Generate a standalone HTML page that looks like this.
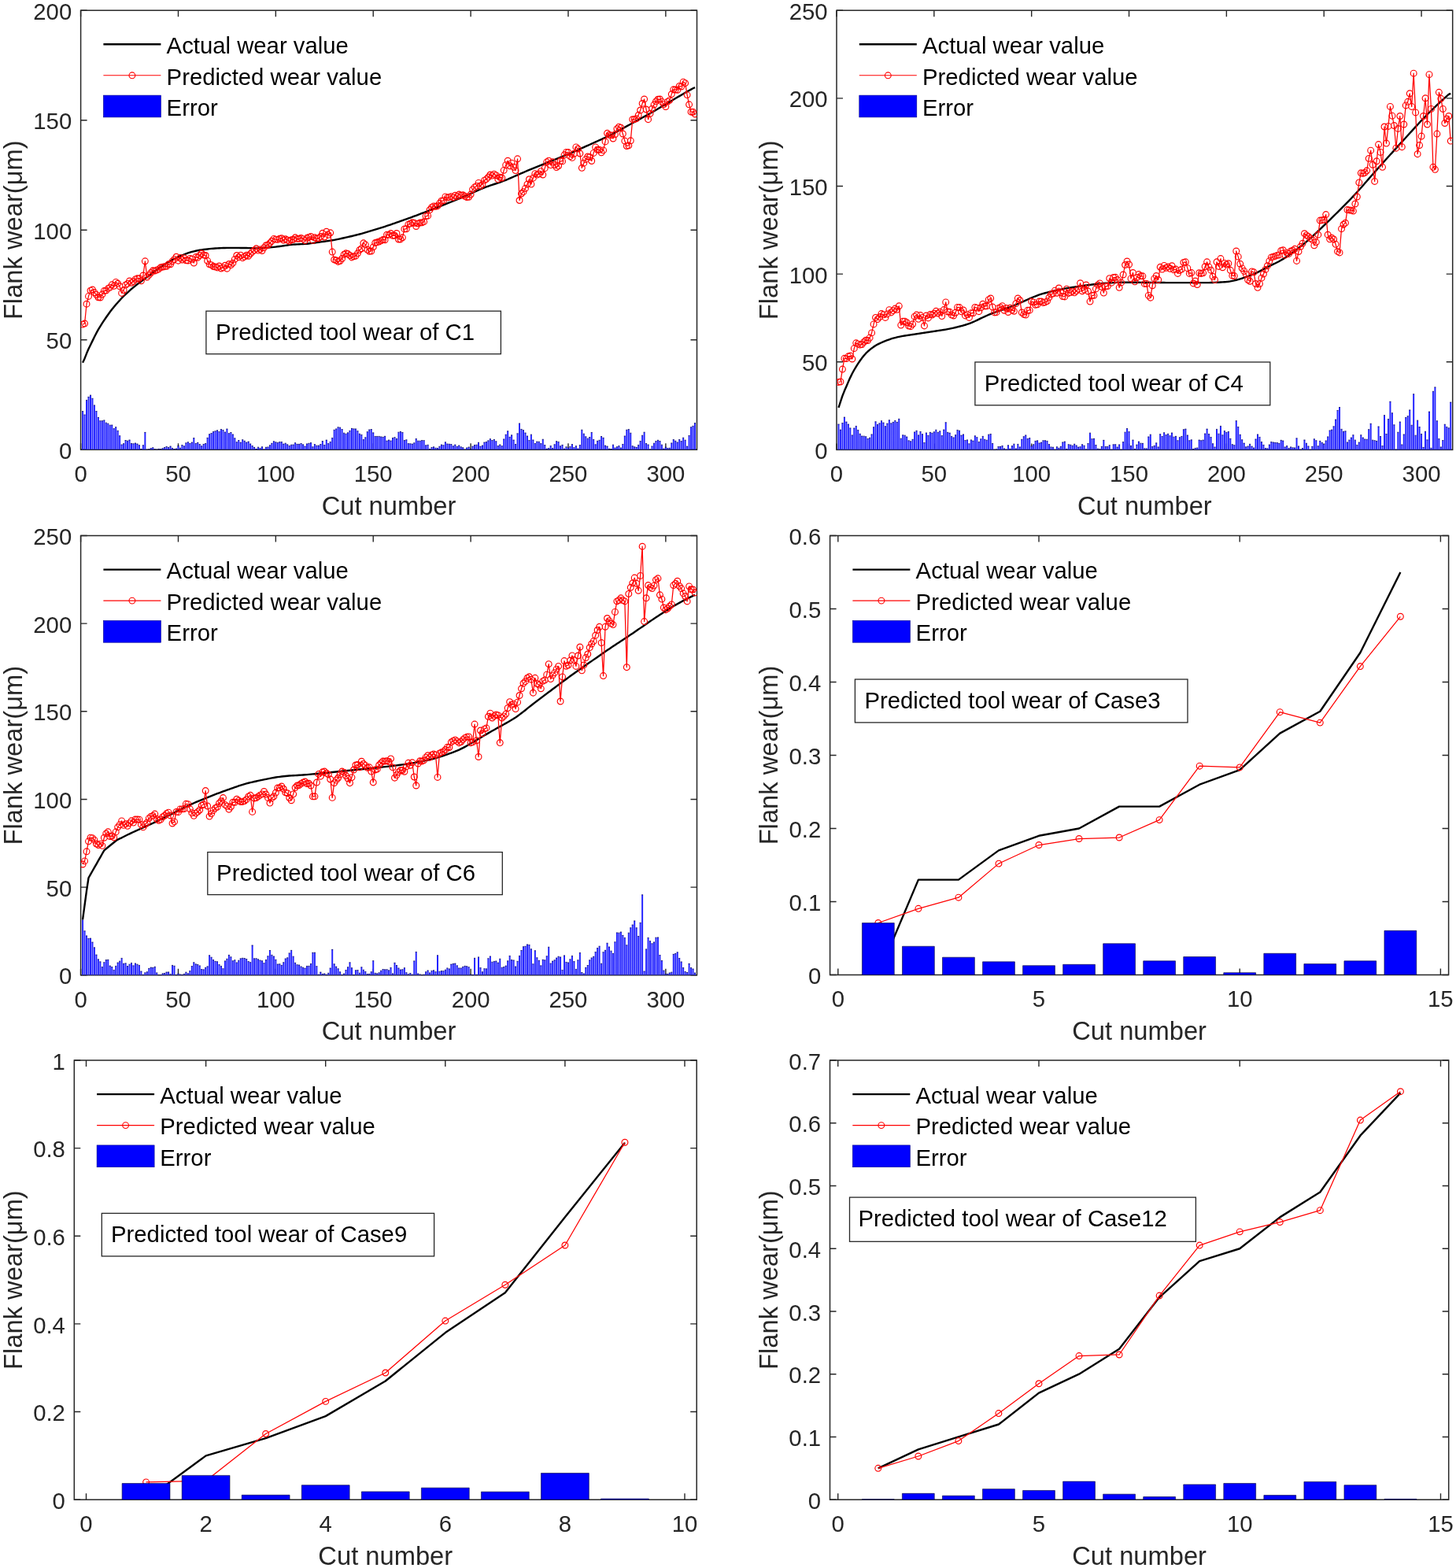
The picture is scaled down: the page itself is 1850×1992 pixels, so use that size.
<!DOCTYPE html><html><head><meta charset="utf-8"><title>Predicted tool wear</title>
<style>html,body{margin:0;padding:0;background:#fff;}svg{display:block;}text{font-family:'Liberation Sans', Arial, Helvetica, sans-serif;}</style></head><body>
<svg width="1850" height="1992" viewBox="0 0 1850 1992">
<rect width="1850" height="1992" fill="#fff"/>
<path d="M102.60 571.30V563.30M102.60 13.20V21.20M226.48 571.30V563.30M226.48 13.20V21.20M350.35 571.30V563.30M350.35 13.20V21.20M474.23 571.30V563.30M474.23 13.20V21.20M598.11 571.30V563.30M598.11 13.20V21.20M721.98 571.30V563.30M721.98 13.20V21.20M845.86 571.30V563.30M845.86 13.20V21.20M102.60 571.30H110.60M885.50 571.30H877.50M102.60 431.77H110.60M885.50 431.77H877.50M102.60 292.25H110.60M885.50 292.25H877.50M102.60 152.73H110.60M885.50 152.73H877.50M102.60 13.20H110.60M885.50 13.20H877.50" stroke="#262626" stroke-width="1.4" fill="none"/>
<rect x="102.60" y="13.20" width="782.90" height="558.10" fill="none" stroke="#262626" stroke-width="1.5"/>
<path d="M1063.00 571.40V563.40M1063.00 13.20V21.20M1186.84 571.40V563.40M1186.84 13.20V21.20M1310.69 571.40V563.40M1310.69 13.20V21.20M1434.53 571.40V563.40M1434.53 13.20V21.20M1558.38 571.40V563.40M1558.38 13.20V21.20M1682.22 571.40V563.40M1682.22 13.20V21.20M1806.07 571.40V563.40M1806.07 13.20V21.20M1063.00 571.40H1071.00M1845.70 571.40H1837.70M1063.00 459.76H1071.00M1845.70 459.76H1837.70M1063.00 348.12H1071.00M1845.70 348.12H1837.70M1063.00 236.48H1071.00M1845.70 236.48H1837.70M1063.00 124.84H1071.00M1845.70 124.84H1837.70M1063.00 13.20H1071.00M1845.70 13.20H1837.70" stroke="#262626" stroke-width="1.4" fill="none"/>
<rect x="1063.00" y="13.20" width="782.70" height="558.20" fill="none" stroke="#262626" stroke-width="1.5"/>
<path d="M102.60 1238.80V1230.80M102.60 680.50V688.50M226.48 1238.80V1230.80M226.48 680.50V688.50M350.35 1238.80V1230.80M350.35 680.50V688.50M474.23 1238.80V1230.80M474.23 680.50V688.50M598.11 1238.80V1230.80M598.11 680.50V688.50M721.98 1238.80V1230.80M721.98 680.50V688.50M845.86 1238.80V1230.80M845.86 680.50V688.50M102.60 1238.80H110.60M885.50 1238.80H877.50M102.60 1127.14H110.60M885.50 1127.14H877.50M102.60 1015.48H110.60M885.50 1015.48H877.50M102.60 903.82H110.60M885.50 903.82H877.50M102.60 792.16H110.60M885.50 792.16H877.50M102.60 680.50H110.60M885.50 680.50H877.50" stroke="#262626" stroke-width="1.4" fill="none"/>
<rect x="102.60" y="680.50" width="782.90" height="558.30" fill="none" stroke="#262626" stroke-width="1.5"/>
<path d="M1064.81 1238.50V1230.50M1064.81 680.50V688.50M1320.00 1238.50V1230.50M1320.00 680.50V688.50M1575.20 1238.50V1230.50M1575.20 680.50V688.50M1830.39 1238.50V1230.50M1830.39 680.50V688.50M1054.60 1238.50H1062.60M1840.60 1238.50H1832.60M1054.60 1145.50H1062.60M1840.60 1145.50H1832.60M1054.60 1052.50H1062.60M1840.60 1052.50H1832.60M1054.60 959.50H1062.60M1840.60 959.50H1832.60M1054.60 866.50H1062.60M1840.60 866.50H1832.60M1054.60 773.50H1062.60M1840.60 773.50H1832.60M1054.60 680.50H1062.60M1840.60 680.50H1832.60" stroke="#262626" stroke-width="1.4" fill="none"/>
<rect x="1054.60" y="680.50" width="786.00" height="558.00" fill="none" stroke="#262626" stroke-width="1.5"/>
<path d="M109.51 1905.20V1897.20M109.51 1347.00V1355.00M261.61 1905.20V1897.20M261.61 1347.00V1355.00M413.70 1905.20V1897.20M413.70 1347.00V1355.00M565.80 1905.20V1897.20M565.80 1347.00V1355.00M717.89 1905.20V1897.20M717.89 1347.00V1355.00M869.99 1905.20V1897.20M869.99 1347.00V1355.00M94.30 1905.20H102.30M885.20 1905.20H877.20M94.30 1793.56H102.30M885.20 1793.56H877.20M94.30 1681.92H102.30M885.20 1681.92H877.20M94.30 1570.28H102.30M885.20 1570.28H877.20M94.30 1458.64H102.30M885.20 1458.64H877.20M94.30 1347.00H102.30M885.20 1347.00H877.20" stroke="#262626" stroke-width="1.4" fill="none"/>
<rect x="94.30" y="1347.00" width="790.90" height="558.20" fill="none" stroke="#262626" stroke-width="1.5"/>
<path d="M1064.71 1905.20V1897.20M1064.71 1347.00V1355.00M1319.97 1905.20V1897.20M1319.97 1347.00V1355.00M1575.23 1905.20V1897.20M1575.23 1347.00V1355.00M1830.49 1905.20V1897.20M1830.49 1347.00V1355.00M1054.50 1905.20H1062.50M1840.70 1905.20H1832.70M1054.50 1825.46H1062.50M1840.70 1825.46H1832.70M1054.50 1745.71H1062.50M1840.70 1745.71H1832.70M1054.50 1665.97H1062.50M1840.70 1665.97H1832.70M1054.50 1586.23H1062.50M1840.70 1586.23H1832.70M1054.50 1506.49H1062.50M1840.70 1506.49H1832.70M1054.50 1426.74H1062.50M1840.70 1426.74H1832.70M1054.50 1347.00H1062.50M1840.70 1347.00H1832.70" stroke="#262626" stroke-width="1.4" fill="none"/>
<rect x="1054.50" y="1347.00" width="786.20" height="558.20" fill="none" stroke="#262626" stroke-width="1.5"/>
<clipPath id="c1"><rect x="102.60" y="13.20" width="782.90" height="558.10"/></clipPath>
<g clip-path="url(#c1)">
<polyline points="105.08,460.80 107.56,455.38 110.03,449.08 112.51,443.33 114.99,438.28 117.47,433.11 119.94,428.01 122.42,423.18 124.90,418.70 127.38,414.59 129.85,410.71 132.33,406.93 134.81,403.27 137.29,399.71 139.76,396.30 142.24,393.07 144.72,390.03 147.20,387.09 149.67,384.23 152.15,381.45 154.63,378.76 157.11,376.20 159.58,373.80 162.06,371.52 164.54,369.31 167.02,367.17 169.49,365.10 171.97,363.10 174.45,361.16 176.93,359.30 179.40,357.45 181.88,355.60 184.36,353.74 186.84,351.89 189.31,350.05 191.79,348.22 194.27,346.40 196.75,344.59 199.22,342.80 201.70,341.02 204.18,339.26 206.66,337.57 209.13,335.95 211.61,334.39 214.09,332.88 216.57,331.43 219.04,330.04 221.52,328.73 224.00,327.52 226.48,326.40 228.95,325.31 231.43,324.26 233.91,323.25 236.39,322.29 238.86,321.43 241.34,320.66 243.82,319.96 246.30,319.31 248.77,318.73 251.25,318.20 253.73,317.73 256.21,317.34 258.68,317.02 261.16,316.72 263.64,316.44 266.12,316.18 268.59,315.93 271.07,315.72 273.55,315.55 276.03,315.39 278.50,315.26 280.98,315.13 283.46,315.03 285.94,314.94 288.41,314.88 290.89,314.85 293.37,314.84 295.85,314.84 298.32,314.85 300.80,314.88 303.28,314.91 305.76,314.95 308.24,314.99 310.71,315.03 313.19,315.06 315.67,315.08 318.15,315.09 320.62,315.09 323.10,315.07 325.58,315.05 328.06,315.02 330.53,314.99 333.01,314.94 335.49,314.87 337.97,314.75 340.44,314.60 342.92,314.41 345.40,314.18 347.88,313.93 350.35,313.63 352.83,313.31 355.31,312.95 357.79,312.59 360.26,312.22 362.74,311.85 365.22,311.49 367.70,311.16 370.17,310.87 372.65,310.64 375.13,310.46 377.61,310.33 380.08,310.25 382.56,310.15 385.04,310.03 387.52,309.89 389.99,309.70 392.47,309.46 394.95,309.18 397.43,308.86 399.90,308.49 402.38,308.08 404.86,307.70 407.34,307.35 409.81,307.02 412.29,306.73 414.77,306.40 417.25,306.05 419.72,305.67 422.20,305.26 424.68,304.82 427.16,304.35 429.63,303.86 432.11,303.33 434.59,302.78 437.07,302.22 439.54,301.66 442.02,301.10 444.50,300.54 446.98,299.97 449.45,299.37 451.93,298.76 454.41,298.13 456.89,297.47 459.36,296.80 461.84,296.10 464.32,295.38 466.80,294.65 469.27,293.91 471.75,293.17 474.23,292.43 476.71,291.69 479.18,290.94 481.66,290.18 484.14,289.40 486.62,288.61 489.09,287.80 491.57,286.98 494.05,286.14 496.53,285.29 499.01,284.43 501.48,283.56 503.96,282.69 506.44,281.82 508.92,280.95 511.39,280.08 513.87,279.20 516.35,278.31 518.83,277.42 521.30,276.52 523.78,275.61 526.26,274.69 528.74,273.77 531.21,272.84 533.69,271.91 536.17,270.97 538.65,270.04 541.12,269.11 543.60,268.17 546.08,267.23 548.56,266.28 551.03,265.33 553.51,264.36 555.99,263.40 558.47,262.42 560.94,261.44 563.42,260.45 565.90,259.46 568.38,258.47 570.85,257.48 573.33,256.49 575.81,255.49 578.29,254.48 580.76,253.46 583.24,252.42 585.72,251.37 588.20,250.31 590.67,249.23 593.15,248.14 595.63,247.04 598.11,245.92 600.58,244.81 603.06,243.70 605.54,242.58 608.02,241.48 610.49,240.41 612.97,239.39 615.45,238.39 617.93,237.44 620.40,236.53 622.88,235.65 625.36,234.81 627.84,234.00 630.31,233.23 632.79,232.41 635.27,231.56 637.75,230.66 640.22,229.73 642.70,228.77 645.18,227.76 647.66,226.72 650.13,225.64 652.61,224.52 655.09,223.41 657.57,222.29 660.04,221.19 662.52,220.11 665.00,219.04 667.48,217.98 669.95,216.93 672.43,215.90 674.91,214.89 677.39,213.89 679.86,212.89 682.34,211.90 684.82,210.91 687.30,209.92 689.77,208.93 692.25,207.93 694.73,206.94 697.21,205.95 699.69,204.95 702.16,203.96 704.64,202.96 707.12,201.96 709.60,200.97 712.07,199.97 714.55,198.95 717.03,197.93 719.51,196.89 721.98,195.84 724.46,194.77 726.94,193.70 729.42,192.61 731.89,191.51 734.37,190.40 736.85,189.29 739.33,188.18 741.80,187.07 744.28,185.95 746.76,184.84 749.24,183.73 751.71,182.62 754.19,181.50 756.67,180.39 759.15,179.27 761.62,178.16 764.10,177.04 766.58,175.91 769.06,174.76 771.53,173.57 774.01,172.36 776.49,171.12 778.97,169.85 781.44,168.55 783.92,167.23 786.40,165.88 788.88,164.51 791.35,163.14 793.83,161.77 796.31,160.41 798.79,159.04 801.26,157.68 803.74,156.31 806.22,154.95 808.70,153.58 811.17,152.22 813.65,150.86 816.13,149.50 818.61,148.13 821.08,146.76 823.56,145.38 826.04,143.98 828.52,142.57 830.99,141.15 833.47,139.71 835.95,138.26 838.43,136.80 840.90,135.32 843.38,133.84 845.86,132.36 848.34,130.88 850.81,129.41 853.29,127.94 855.77,126.48 858.25,125.02 860.72,123.57 863.20,122.12 865.68,120.68 868.16,119.24 870.63,117.81 873.11,116.42 875.59,115.00 878.07,113.59 880.54,112.22 883.02,111.10" fill="none" stroke="#000" stroke-width="2.4" stroke-linejoin="round" />
<polyline points="105.08,412.10 107.56,411.00 110.03,386.20 112.51,376.40 114.99,369.10 117.47,368.02 119.94,371.60 122.42,374.45 124.90,377.76 127.38,378.00 129.85,374.06 132.33,369.54 134.81,369.10 137.29,366.54 139.76,365.14 142.24,361.80 144.72,363.35 147.20,358.42 149.67,360.20 152.15,363.84 154.63,372.40 157.11,368.54 159.58,362.00 162.06,360.40 164.54,357.00 167.02,359.25 169.49,357.55 171.97,354.83 174.45,353.84 176.93,353.70 179.40,356.73 181.88,350.00 184.36,331.80 186.84,352.00 189.31,349.45 191.79,346.51 194.27,343.84 196.75,344.00 199.22,343.01 201.70,341.93 204.18,339.83 206.66,339.20 209.13,338.66 211.61,338.29 214.09,335.80 216.57,335.75 219.04,331.93 221.52,329.40 224.00,326.23 226.48,331.19 228.95,327.39 231.43,329.99 233.91,327.74 236.39,330.78 238.86,331.00 241.34,328.44 243.82,329.24 246.30,334.02 248.77,326.57 251.25,327.18 253.73,324.50 256.21,321.99 258.68,323.95 261.16,324.50 263.64,331.41 266.12,335.80 268.59,336.65 271.07,338.55 273.55,339.07 276.03,339.90 278.50,337.99 280.98,340.97 283.46,339.90 285.94,337.22 288.41,341.18 290.89,335.52 293.37,336.64 295.85,334.20 298.32,329.35 300.80,324.50 303.28,326.71 305.76,324.16 308.24,327.60 310.71,326.10 313.19,324.24 315.67,325.26 318.15,322.43 320.62,319.89 323.10,318.00 325.58,315.86 328.06,318.14 330.53,316.91 333.01,318.48 335.49,314.70 337.97,311.72 340.44,311.23 342.92,308.89 345.40,306.20 347.88,303.40 350.35,304.12 352.83,304.39 355.31,303.22 357.79,302.75 360.26,305.00 362.74,303.71 365.22,305.06 367.70,306.27 370.17,304.72 372.65,304.33 375.13,301.80 377.61,303.36 380.08,303.29 382.56,302.40 385.04,303.60 387.52,305.59 389.99,302.30 392.47,301.43 394.95,300.50 397.43,305.30 399.90,301.79 402.38,302.93 404.86,302.50 407.34,300.60 409.81,296.31 412.29,300.96 414.77,294.20 417.25,298.37 419.72,295.80 422.20,320.10 424.68,329.90 427.16,330.77 429.63,332.40 432.11,331.50 434.59,328.51 437.07,323.35 439.54,321.80 442.02,322.59 444.50,324.51 446.98,326.92 449.45,325.80 451.93,325.15 454.41,321.80 456.89,317.58 459.36,315.71 461.84,308.80 464.32,310.85 466.80,317.31 469.27,319.30 471.75,318.97 474.23,313.87 476.71,308.58 479.18,307.82 481.66,307.10 484.14,305.80 486.62,304.60 489.09,304.79 491.57,298.19 494.05,298.35 496.53,296.60 499.01,299.29 501.48,299.22 503.96,296.48 506.44,303.97 508.92,303.90 511.39,301.79 513.87,290.90 516.35,290.78 518.83,285.11 521.30,284.04 523.78,282.80 526.26,283.22 528.74,287.53 531.21,283.97 533.69,283.02 536.17,282.80 538.65,281.71 541.12,274.54 543.60,274.19 546.08,266.60 548.56,263.40 551.03,261.90 553.51,262.27 555.99,261.71 558.47,258.34 560.94,255.20 563.42,254.87 565.90,249.94 568.38,251.15 570.85,250.44 573.33,249.69 575.81,250.91 578.29,248.26 580.76,249.50 583.24,247.10 585.72,247.90 588.20,247.75 590.67,249.24 593.15,250.47 595.63,250.30 598.11,247.08 600.58,240.60 603.06,237.84 605.54,236.44 608.02,232.44 610.49,236.22 612.97,234.07 615.45,229.12 617.93,227.60 620.40,225.07 622.88,222.00 625.36,223.05 627.84,221.10 630.31,222.72 632.79,227.70 635.27,225.24 637.75,226.00 640.22,216.37 642.70,209.70 645.18,204.22 647.66,210.71 650.13,207.20 652.61,212.26 655.09,216.60 657.57,201.80 660.04,254.50 662.52,246.04 665.00,243.70 667.48,239.29 669.95,234.20 672.43,227.77 674.91,234.06 677.39,226.20 679.86,220.70 682.34,222.11 684.82,221.02 687.30,217.61 689.77,222.00 692.25,213.66 694.73,205.80 697.21,204.21 699.69,209.65 702.16,205.82 704.64,209.52 707.12,212.60 709.60,210.87 712.07,204.50 714.55,204.90 717.03,196.81 719.51,193.41 721.98,193.60 724.46,198.67 726.94,200.40 729.42,195.27 731.89,186.90 734.37,189.08 736.85,195.00 739.33,213.30 741.80,207.21 744.28,202.45 746.76,199.00 749.24,199.49 751.71,204.50 754.19,194.41 756.67,186.90 759.15,190.28 761.62,190.21 764.10,193.81 766.58,190.90 769.06,179.94 771.53,169.30 774.01,171.28 776.49,171.90 778.97,176.00 781.44,170.83 783.92,163.64 786.40,161.20 788.88,162.22 791.35,170.00 793.83,179.07 796.31,185.50 798.79,184.89 801.26,178.80 803.74,151.70 806.22,151.49 808.70,150.63 811.17,146.30 813.65,140.01 816.13,131.40 818.61,126.00 821.08,139.01 823.56,151.70 826.04,144.24 828.52,138.20 830.99,133.04 833.47,128.88 835.95,126.23 838.43,126.00 840.90,129.16 843.38,132.62 845.86,135.50 848.34,129.17 850.81,127.37 853.29,119.57 855.77,113.80 858.25,113.96 860.72,114.22 863.20,109.39 865.68,110.00 868.16,104.11 870.63,105.70 873.11,120.60 875.59,132.83 878.07,142.20 880.54,142.24 883.02,144.90" fill="none" stroke="#f00" stroke-width="1.25" stroke-linejoin="round" />
<path d="M101.18 412.10a3.90 3.90 0 1 0 7.80 0a3.90 3.90 0 1 0 -7.80 0M103.66 411.00a3.90 3.90 0 1 0 7.80 0a3.90 3.90 0 1 0 -7.80 0M106.13 386.20a3.90 3.90 0 1 0 7.80 0a3.90 3.90 0 1 0 -7.80 0M108.61 376.40a3.90 3.90 0 1 0 7.80 0a3.90 3.90 0 1 0 -7.80 0M111.09 369.10a3.90 3.90 0 1 0 7.80 0a3.90 3.90 0 1 0 -7.80 0M113.57 368.02a3.90 3.90 0 1 0 7.80 0a3.90 3.90 0 1 0 -7.80 0M116.04 371.60a3.90 3.90 0 1 0 7.80 0a3.90 3.90 0 1 0 -7.80 0M118.52 374.45a3.90 3.90 0 1 0 7.80 0a3.90 3.90 0 1 0 -7.80 0M121.00 377.76a3.90 3.90 0 1 0 7.80 0a3.90 3.90 0 1 0 -7.80 0M123.48 378.00a3.90 3.90 0 1 0 7.80 0a3.90 3.90 0 1 0 -7.80 0M125.95 374.06a3.90 3.90 0 1 0 7.80 0a3.90 3.90 0 1 0 -7.80 0M128.43 369.54a3.90 3.90 0 1 0 7.80 0a3.90 3.90 0 1 0 -7.80 0M130.91 369.10a3.90 3.90 0 1 0 7.80 0a3.90 3.90 0 1 0 -7.80 0M133.39 366.54a3.90 3.90 0 1 0 7.80 0a3.90 3.90 0 1 0 -7.80 0M135.86 365.14a3.90 3.90 0 1 0 7.80 0a3.90 3.90 0 1 0 -7.80 0M138.34 361.80a3.90 3.90 0 1 0 7.80 0a3.90 3.90 0 1 0 -7.80 0M140.82 363.35a3.90 3.90 0 1 0 7.80 0a3.90 3.90 0 1 0 -7.80 0M143.30 358.42a3.90 3.90 0 1 0 7.80 0a3.90 3.90 0 1 0 -7.80 0M145.77 360.20a3.90 3.90 0 1 0 7.80 0a3.90 3.90 0 1 0 -7.80 0M148.25 363.84a3.90 3.90 0 1 0 7.80 0a3.90 3.90 0 1 0 -7.80 0M150.73 372.40a3.90 3.90 0 1 0 7.80 0a3.90 3.90 0 1 0 -7.80 0M153.21 368.54a3.90 3.90 0 1 0 7.80 0a3.90 3.90 0 1 0 -7.80 0M155.68 362.00a3.90 3.90 0 1 0 7.80 0a3.90 3.90 0 1 0 -7.80 0M158.16 360.40a3.90 3.90 0 1 0 7.80 0a3.90 3.90 0 1 0 -7.80 0M160.64 357.00a3.90 3.90 0 1 0 7.80 0a3.90 3.90 0 1 0 -7.80 0M163.12 359.25a3.90 3.90 0 1 0 7.80 0a3.90 3.90 0 1 0 -7.80 0M165.59 357.55a3.90 3.90 0 1 0 7.80 0a3.90 3.90 0 1 0 -7.80 0M168.07 354.83a3.90 3.90 0 1 0 7.80 0a3.90 3.90 0 1 0 -7.80 0M170.55 353.84a3.90 3.90 0 1 0 7.80 0a3.90 3.90 0 1 0 -7.80 0M173.03 353.70a3.90 3.90 0 1 0 7.80 0a3.90 3.90 0 1 0 -7.80 0M175.50 356.73a3.90 3.90 0 1 0 7.80 0a3.90 3.90 0 1 0 -7.80 0M177.98 350.00a3.90 3.90 0 1 0 7.80 0a3.90 3.90 0 1 0 -7.80 0M180.46 331.80a3.90 3.90 0 1 0 7.80 0a3.90 3.90 0 1 0 -7.80 0M182.94 352.00a3.90 3.90 0 1 0 7.80 0a3.90 3.90 0 1 0 -7.80 0M185.41 349.45a3.90 3.90 0 1 0 7.80 0a3.90 3.90 0 1 0 -7.80 0M187.89 346.51a3.90 3.90 0 1 0 7.80 0a3.90 3.90 0 1 0 -7.80 0M190.37 343.84a3.90 3.90 0 1 0 7.80 0a3.90 3.90 0 1 0 -7.80 0M192.85 344.00a3.90 3.90 0 1 0 7.80 0a3.90 3.90 0 1 0 -7.80 0M195.32 343.01a3.90 3.90 0 1 0 7.80 0a3.90 3.90 0 1 0 -7.80 0M197.80 341.93a3.90 3.90 0 1 0 7.80 0a3.90 3.90 0 1 0 -7.80 0M200.28 339.83a3.90 3.90 0 1 0 7.80 0a3.90 3.90 0 1 0 -7.80 0M202.76 339.20a3.90 3.90 0 1 0 7.80 0a3.90 3.90 0 1 0 -7.80 0M205.23 338.66a3.90 3.90 0 1 0 7.80 0a3.90 3.90 0 1 0 -7.80 0M207.71 338.29a3.90 3.90 0 1 0 7.80 0a3.90 3.90 0 1 0 -7.80 0M210.19 335.80a3.90 3.90 0 1 0 7.80 0a3.90 3.90 0 1 0 -7.80 0M212.67 335.75a3.90 3.90 0 1 0 7.80 0a3.90 3.90 0 1 0 -7.80 0M215.14 331.93a3.90 3.90 0 1 0 7.80 0a3.90 3.90 0 1 0 -7.80 0M217.62 329.40a3.90 3.90 0 1 0 7.80 0a3.90 3.90 0 1 0 -7.80 0M220.10 326.23a3.90 3.90 0 1 0 7.80 0a3.90 3.90 0 1 0 -7.80 0M222.58 331.19a3.90 3.90 0 1 0 7.80 0a3.90 3.90 0 1 0 -7.80 0M225.05 327.39a3.90 3.90 0 1 0 7.80 0a3.90 3.90 0 1 0 -7.80 0M227.53 329.99a3.90 3.90 0 1 0 7.80 0a3.90 3.90 0 1 0 -7.80 0M230.01 327.74a3.90 3.90 0 1 0 7.80 0a3.90 3.90 0 1 0 -7.80 0M232.49 330.78a3.90 3.90 0 1 0 7.80 0a3.90 3.90 0 1 0 -7.80 0M234.96 331.00a3.90 3.90 0 1 0 7.80 0a3.90 3.90 0 1 0 -7.80 0M237.44 328.44a3.90 3.90 0 1 0 7.80 0a3.90 3.90 0 1 0 -7.80 0M239.92 329.24a3.90 3.90 0 1 0 7.80 0a3.90 3.90 0 1 0 -7.80 0M242.40 334.02a3.90 3.90 0 1 0 7.80 0a3.90 3.90 0 1 0 -7.80 0M244.87 326.57a3.90 3.90 0 1 0 7.80 0a3.90 3.90 0 1 0 -7.80 0M247.35 327.18a3.90 3.90 0 1 0 7.80 0a3.90 3.90 0 1 0 -7.80 0M249.83 324.50a3.90 3.90 0 1 0 7.80 0a3.90 3.90 0 1 0 -7.80 0M252.31 321.99a3.90 3.90 0 1 0 7.80 0a3.90 3.90 0 1 0 -7.80 0M254.78 323.95a3.90 3.90 0 1 0 7.80 0a3.90 3.90 0 1 0 -7.80 0M257.26 324.50a3.90 3.90 0 1 0 7.80 0a3.90 3.90 0 1 0 -7.80 0M259.74 331.41a3.90 3.90 0 1 0 7.80 0a3.90 3.90 0 1 0 -7.80 0M262.22 335.80a3.90 3.90 0 1 0 7.80 0a3.90 3.90 0 1 0 -7.80 0M264.69 336.65a3.90 3.90 0 1 0 7.80 0a3.90 3.90 0 1 0 -7.80 0M267.17 338.55a3.90 3.90 0 1 0 7.80 0a3.90 3.90 0 1 0 -7.80 0M269.65 339.07a3.90 3.90 0 1 0 7.80 0a3.90 3.90 0 1 0 -7.80 0M272.13 339.90a3.90 3.90 0 1 0 7.80 0a3.90 3.90 0 1 0 -7.80 0M274.60 337.99a3.90 3.90 0 1 0 7.80 0a3.90 3.90 0 1 0 -7.80 0M277.08 340.97a3.90 3.90 0 1 0 7.80 0a3.90 3.90 0 1 0 -7.80 0M279.56 339.90a3.90 3.90 0 1 0 7.80 0a3.90 3.90 0 1 0 -7.80 0M282.04 337.22a3.90 3.90 0 1 0 7.80 0a3.90 3.90 0 1 0 -7.80 0M284.51 341.18a3.90 3.90 0 1 0 7.80 0a3.90 3.90 0 1 0 -7.80 0M286.99 335.52a3.90 3.90 0 1 0 7.80 0a3.90 3.90 0 1 0 -7.80 0M289.47 336.64a3.90 3.90 0 1 0 7.80 0a3.90 3.90 0 1 0 -7.80 0M291.95 334.20a3.90 3.90 0 1 0 7.80 0a3.90 3.90 0 1 0 -7.80 0M294.43 329.35a3.90 3.90 0 1 0 7.80 0a3.90 3.90 0 1 0 -7.80 0M296.90 324.50a3.90 3.90 0 1 0 7.80 0a3.90 3.90 0 1 0 -7.80 0M299.38 326.71a3.90 3.90 0 1 0 7.80 0a3.90 3.90 0 1 0 -7.80 0M301.86 324.16a3.90 3.90 0 1 0 7.80 0a3.90 3.90 0 1 0 -7.80 0M304.34 327.60a3.90 3.90 0 1 0 7.80 0a3.90 3.90 0 1 0 -7.80 0M306.81 326.10a3.90 3.90 0 1 0 7.80 0a3.90 3.90 0 1 0 -7.80 0M309.29 324.24a3.90 3.90 0 1 0 7.80 0a3.90 3.90 0 1 0 -7.80 0M311.77 325.26a3.90 3.90 0 1 0 7.80 0a3.90 3.90 0 1 0 -7.80 0M314.25 322.43a3.90 3.90 0 1 0 7.80 0a3.90 3.90 0 1 0 -7.80 0M316.72 319.89a3.90 3.90 0 1 0 7.80 0a3.90 3.90 0 1 0 -7.80 0M319.20 318.00a3.90 3.90 0 1 0 7.80 0a3.90 3.90 0 1 0 -7.80 0M321.68 315.86a3.90 3.90 0 1 0 7.80 0a3.90 3.90 0 1 0 -7.80 0M324.16 318.14a3.90 3.90 0 1 0 7.80 0a3.90 3.90 0 1 0 -7.80 0M326.63 316.91a3.90 3.90 0 1 0 7.80 0a3.90 3.90 0 1 0 -7.80 0M329.11 318.48a3.90 3.90 0 1 0 7.80 0a3.90 3.90 0 1 0 -7.80 0M331.59 314.70a3.90 3.90 0 1 0 7.80 0a3.90 3.90 0 1 0 -7.80 0M334.07 311.72a3.90 3.90 0 1 0 7.80 0a3.90 3.90 0 1 0 -7.80 0M336.54 311.23a3.90 3.90 0 1 0 7.80 0a3.90 3.90 0 1 0 -7.80 0M339.02 308.89a3.90 3.90 0 1 0 7.80 0a3.90 3.90 0 1 0 -7.80 0M341.50 306.20a3.90 3.90 0 1 0 7.80 0a3.90 3.90 0 1 0 -7.80 0M343.98 303.40a3.90 3.90 0 1 0 7.80 0a3.90 3.90 0 1 0 -7.80 0M346.45 304.12a3.90 3.90 0 1 0 7.80 0a3.90 3.90 0 1 0 -7.80 0M348.93 304.39a3.90 3.90 0 1 0 7.80 0a3.90 3.90 0 1 0 -7.80 0M351.41 303.22a3.90 3.90 0 1 0 7.80 0a3.90 3.90 0 1 0 -7.80 0M353.89 302.75a3.90 3.90 0 1 0 7.80 0a3.90 3.90 0 1 0 -7.80 0M356.36 305.00a3.90 3.90 0 1 0 7.80 0a3.90 3.90 0 1 0 -7.80 0M358.84 303.71a3.90 3.90 0 1 0 7.80 0a3.90 3.90 0 1 0 -7.80 0M361.32 305.06a3.90 3.90 0 1 0 7.80 0a3.90 3.90 0 1 0 -7.80 0M363.80 306.27a3.90 3.90 0 1 0 7.80 0a3.90 3.90 0 1 0 -7.80 0M366.27 304.72a3.90 3.90 0 1 0 7.80 0a3.90 3.90 0 1 0 -7.80 0M368.75 304.33a3.90 3.90 0 1 0 7.80 0a3.90 3.90 0 1 0 -7.80 0M371.23 301.80a3.90 3.90 0 1 0 7.80 0a3.90 3.90 0 1 0 -7.80 0M373.71 303.36a3.90 3.90 0 1 0 7.80 0a3.90 3.90 0 1 0 -7.80 0M376.18 303.29a3.90 3.90 0 1 0 7.80 0a3.90 3.90 0 1 0 -7.80 0M378.66 302.40a3.90 3.90 0 1 0 7.80 0a3.90 3.90 0 1 0 -7.80 0M381.14 303.60a3.90 3.90 0 1 0 7.80 0a3.90 3.90 0 1 0 -7.80 0M383.62 305.59a3.90 3.90 0 1 0 7.80 0a3.90 3.90 0 1 0 -7.80 0M386.09 302.30a3.90 3.90 0 1 0 7.80 0a3.90 3.90 0 1 0 -7.80 0M388.57 301.43a3.90 3.90 0 1 0 7.80 0a3.90 3.90 0 1 0 -7.80 0M391.05 300.50a3.90 3.90 0 1 0 7.80 0a3.90 3.90 0 1 0 -7.80 0M393.53 305.30a3.90 3.90 0 1 0 7.80 0a3.90 3.90 0 1 0 -7.80 0M396.00 301.79a3.90 3.90 0 1 0 7.80 0a3.90 3.90 0 1 0 -7.80 0M398.48 302.93a3.90 3.90 0 1 0 7.80 0a3.90 3.90 0 1 0 -7.80 0M400.96 302.50a3.90 3.90 0 1 0 7.80 0a3.90 3.90 0 1 0 -7.80 0M403.44 300.60a3.90 3.90 0 1 0 7.80 0a3.90 3.90 0 1 0 -7.80 0M405.91 296.31a3.90 3.90 0 1 0 7.80 0a3.90 3.90 0 1 0 -7.80 0M408.39 300.96a3.90 3.90 0 1 0 7.80 0a3.90 3.90 0 1 0 -7.80 0M410.87 294.20a3.90 3.90 0 1 0 7.80 0a3.90 3.90 0 1 0 -7.80 0M413.35 298.37a3.90 3.90 0 1 0 7.80 0a3.90 3.90 0 1 0 -7.80 0M415.82 295.80a3.90 3.90 0 1 0 7.80 0a3.90 3.90 0 1 0 -7.80 0M418.30 320.10a3.90 3.90 0 1 0 7.80 0a3.90 3.90 0 1 0 -7.80 0M420.78 329.90a3.90 3.90 0 1 0 7.80 0a3.90 3.90 0 1 0 -7.80 0M423.26 330.77a3.90 3.90 0 1 0 7.80 0a3.90 3.90 0 1 0 -7.80 0M425.73 332.40a3.90 3.90 0 1 0 7.80 0a3.90 3.90 0 1 0 -7.80 0M428.21 331.50a3.90 3.90 0 1 0 7.80 0a3.90 3.90 0 1 0 -7.80 0M430.69 328.51a3.90 3.90 0 1 0 7.80 0a3.90 3.90 0 1 0 -7.80 0M433.17 323.35a3.90 3.90 0 1 0 7.80 0a3.90 3.90 0 1 0 -7.80 0M435.64 321.80a3.90 3.90 0 1 0 7.80 0a3.90 3.90 0 1 0 -7.80 0M438.12 322.59a3.90 3.90 0 1 0 7.80 0a3.90 3.90 0 1 0 -7.80 0M440.60 324.51a3.90 3.90 0 1 0 7.80 0a3.90 3.90 0 1 0 -7.80 0M443.08 326.92a3.90 3.90 0 1 0 7.80 0a3.90 3.90 0 1 0 -7.80 0M445.55 325.80a3.90 3.90 0 1 0 7.80 0a3.90 3.90 0 1 0 -7.80 0M448.03 325.15a3.90 3.90 0 1 0 7.80 0a3.90 3.90 0 1 0 -7.80 0M450.51 321.80a3.90 3.90 0 1 0 7.80 0a3.90 3.90 0 1 0 -7.80 0M452.99 317.58a3.90 3.90 0 1 0 7.80 0a3.90 3.90 0 1 0 -7.80 0M455.46 315.71a3.90 3.90 0 1 0 7.80 0a3.90 3.90 0 1 0 -7.80 0M457.94 308.80a3.90 3.90 0 1 0 7.80 0a3.90 3.90 0 1 0 -7.80 0M460.42 310.85a3.90 3.90 0 1 0 7.80 0a3.90 3.90 0 1 0 -7.80 0M462.90 317.31a3.90 3.90 0 1 0 7.80 0a3.90 3.90 0 1 0 -7.80 0M465.37 319.30a3.90 3.90 0 1 0 7.80 0a3.90 3.90 0 1 0 -7.80 0M467.85 318.97a3.90 3.90 0 1 0 7.80 0a3.90 3.90 0 1 0 -7.80 0M470.33 313.87a3.90 3.90 0 1 0 7.80 0a3.90 3.90 0 1 0 -7.80 0M472.81 308.58a3.90 3.90 0 1 0 7.80 0a3.90 3.90 0 1 0 -7.80 0M475.28 307.82a3.90 3.90 0 1 0 7.80 0a3.90 3.90 0 1 0 -7.80 0M477.76 307.10a3.90 3.90 0 1 0 7.80 0a3.90 3.90 0 1 0 -7.80 0M480.24 305.80a3.90 3.90 0 1 0 7.80 0a3.90 3.90 0 1 0 -7.80 0M482.72 304.60a3.90 3.90 0 1 0 7.80 0a3.90 3.90 0 1 0 -7.80 0M485.19 304.79a3.90 3.90 0 1 0 7.80 0a3.90 3.90 0 1 0 -7.80 0M487.67 298.19a3.90 3.90 0 1 0 7.80 0a3.90 3.90 0 1 0 -7.80 0M490.15 298.35a3.90 3.90 0 1 0 7.80 0a3.90 3.90 0 1 0 -7.80 0M492.63 296.60a3.90 3.90 0 1 0 7.80 0a3.90 3.90 0 1 0 -7.80 0M495.11 299.29a3.90 3.90 0 1 0 7.80 0a3.90 3.90 0 1 0 -7.80 0M497.58 299.22a3.90 3.90 0 1 0 7.80 0a3.90 3.90 0 1 0 -7.80 0M500.06 296.48a3.90 3.90 0 1 0 7.80 0a3.90 3.90 0 1 0 -7.80 0M502.54 303.97a3.90 3.90 0 1 0 7.80 0a3.90 3.90 0 1 0 -7.80 0M505.02 303.90a3.90 3.90 0 1 0 7.80 0a3.90 3.90 0 1 0 -7.80 0M507.49 301.79a3.90 3.90 0 1 0 7.80 0a3.90 3.90 0 1 0 -7.80 0M509.97 290.90a3.90 3.90 0 1 0 7.80 0a3.90 3.90 0 1 0 -7.80 0M512.45 290.78a3.90 3.90 0 1 0 7.80 0a3.90 3.90 0 1 0 -7.80 0M514.93 285.11a3.90 3.90 0 1 0 7.80 0a3.90 3.90 0 1 0 -7.80 0M517.40 284.04a3.90 3.90 0 1 0 7.80 0a3.90 3.90 0 1 0 -7.80 0M519.88 282.80a3.90 3.90 0 1 0 7.80 0a3.90 3.90 0 1 0 -7.80 0M522.36 283.22a3.90 3.90 0 1 0 7.80 0a3.90 3.90 0 1 0 -7.80 0M524.84 287.53a3.90 3.90 0 1 0 7.80 0a3.90 3.90 0 1 0 -7.80 0M527.31 283.97a3.90 3.90 0 1 0 7.80 0a3.90 3.90 0 1 0 -7.80 0M529.79 283.02a3.90 3.90 0 1 0 7.80 0a3.90 3.90 0 1 0 -7.80 0M532.27 282.80a3.90 3.90 0 1 0 7.80 0a3.90 3.90 0 1 0 -7.80 0M534.75 281.71a3.90 3.90 0 1 0 7.80 0a3.90 3.90 0 1 0 -7.80 0M537.22 274.54a3.90 3.90 0 1 0 7.80 0a3.90 3.90 0 1 0 -7.80 0M539.70 274.19a3.90 3.90 0 1 0 7.80 0a3.90 3.90 0 1 0 -7.80 0M542.18 266.60a3.90 3.90 0 1 0 7.80 0a3.90 3.90 0 1 0 -7.80 0M544.66 263.40a3.90 3.90 0 1 0 7.80 0a3.90 3.90 0 1 0 -7.80 0M547.13 261.90a3.90 3.90 0 1 0 7.80 0a3.90 3.90 0 1 0 -7.80 0M549.61 262.27a3.90 3.90 0 1 0 7.80 0a3.90 3.90 0 1 0 -7.80 0M552.09 261.71a3.90 3.90 0 1 0 7.80 0a3.90 3.90 0 1 0 -7.80 0M554.57 258.34a3.90 3.90 0 1 0 7.80 0a3.90 3.90 0 1 0 -7.80 0M557.04 255.20a3.90 3.90 0 1 0 7.80 0a3.90 3.90 0 1 0 -7.80 0M559.52 254.87a3.90 3.90 0 1 0 7.80 0a3.90 3.90 0 1 0 -7.80 0M562.00 249.94a3.90 3.90 0 1 0 7.80 0a3.90 3.90 0 1 0 -7.80 0M564.48 251.15a3.90 3.90 0 1 0 7.80 0a3.90 3.90 0 1 0 -7.80 0M566.95 250.44a3.90 3.90 0 1 0 7.80 0a3.90 3.90 0 1 0 -7.80 0M569.43 249.69a3.90 3.90 0 1 0 7.80 0a3.90 3.90 0 1 0 -7.80 0M571.91 250.91a3.90 3.90 0 1 0 7.80 0a3.90 3.90 0 1 0 -7.80 0M574.39 248.26a3.90 3.90 0 1 0 7.80 0a3.90 3.90 0 1 0 -7.80 0M576.86 249.50a3.90 3.90 0 1 0 7.80 0a3.90 3.90 0 1 0 -7.80 0M579.34 247.10a3.90 3.90 0 1 0 7.80 0a3.90 3.90 0 1 0 -7.80 0M581.82 247.90a3.90 3.90 0 1 0 7.80 0a3.90 3.90 0 1 0 -7.80 0M584.30 247.75a3.90 3.90 0 1 0 7.80 0a3.90 3.90 0 1 0 -7.80 0M586.77 249.24a3.90 3.90 0 1 0 7.80 0a3.90 3.90 0 1 0 -7.80 0M589.25 250.47a3.90 3.90 0 1 0 7.80 0a3.90 3.90 0 1 0 -7.80 0M591.73 250.30a3.90 3.90 0 1 0 7.80 0a3.90 3.90 0 1 0 -7.80 0M594.21 247.08a3.90 3.90 0 1 0 7.80 0a3.90 3.90 0 1 0 -7.80 0M596.68 240.60a3.90 3.90 0 1 0 7.80 0a3.90 3.90 0 1 0 -7.80 0M599.16 237.84a3.90 3.90 0 1 0 7.80 0a3.90 3.90 0 1 0 -7.80 0M601.64 236.44a3.90 3.90 0 1 0 7.80 0a3.90 3.90 0 1 0 -7.80 0M604.12 232.44a3.90 3.90 0 1 0 7.80 0a3.90 3.90 0 1 0 -7.80 0M606.59 236.22a3.90 3.90 0 1 0 7.80 0a3.90 3.90 0 1 0 -7.80 0M609.07 234.07a3.90 3.90 0 1 0 7.80 0a3.90 3.90 0 1 0 -7.80 0M611.55 229.12a3.90 3.90 0 1 0 7.80 0a3.90 3.90 0 1 0 -7.80 0M614.03 227.60a3.90 3.90 0 1 0 7.80 0a3.90 3.90 0 1 0 -7.80 0M616.50 225.07a3.90 3.90 0 1 0 7.80 0a3.90 3.90 0 1 0 -7.80 0M618.98 222.00a3.90 3.90 0 1 0 7.80 0a3.90 3.90 0 1 0 -7.80 0M621.46 223.05a3.90 3.90 0 1 0 7.80 0a3.90 3.90 0 1 0 -7.80 0M623.94 221.10a3.90 3.90 0 1 0 7.80 0a3.90 3.90 0 1 0 -7.80 0M626.41 222.72a3.90 3.90 0 1 0 7.80 0a3.90 3.90 0 1 0 -7.80 0M628.89 227.70a3.90 3.90 0 1 0 7.80 0a3.90 3.90 0 1 0 -7.80 0M631.37 225.24a3.90 3.90 0 1 0 7.80 0a3.90 3.90 0 1 0 -7.80 0M633.85 226.00a3.90 3.90 0 1 0 7.80 0a3.90 3.90 0 1 0 -7.80 0M636.32 216.37a3.90 3.90 0 1 0 7.80 0a3.90 3.90 0 1 0 -7.80 0M638.80 209.70a3.90 3.90 0 1 0 7.80 0a3.90 3.90 0 1 0 -7.80 0M641.28 204.22a3.90 3.90 0 1 0 7.80 0a3.90 3.90 0 1 0 -7.80 0M643.76 210.71a3.90 3.90 0 1 0 7.80 0a3.90 3.90 0 1 0 -7.80 0M646.23 207.20a3.90 3.90 0 1 0 7.80 0a3.90 3.90 0 1 0 -7.80 0M648.71 212.26a3.90 3.90 0 1 0 7.80 0a3.90 3.90 0 1 0 -7.80 0M651.19 216.60a3.90 3.90 0 1 0 7.80 0a3.90 3.90 0 1 0 -7.80 0M653.67 201.80a3.90 3.90 0 1 0 7.80 0a3.90 3.90 0 1 0 -7.80 0M656.14 254.50a3.90 3.90 0 1 0 7.80 0a3.90 3.90 0 1 0 -7.80 0M658.62 246.04a3.90 3.90 0 1 0 7.80 0a3.90 3.90 0 1 0 -7.80 0M661.10 243.70a3.90 3.90 0 1 0 7.80 0a3.90 3.90 0 1 0 -7.80 0M663.58 239.29a3.90 3.90 0 1 0 7.80 0a3.90 3.90 0 1 0 -7.80 0M666.05 234.20a3.90 3.90 0 1 0 7.80 0a3.90 3.90 0 1 0 -7.80 0M668.53 227.77a3.90 3.90 0 1 0 7.80 0a3.90 3.90 0 1 0 -7.80 0M671.01 234.06a3.90 3.90 0 1 0 7.80 0a3.90 3.90 0 1 0 -7.80 0M673.49 226.20a3.90 3.90 0 1 0 7.80 0a3.90 3.90 0 1 0 -7.80 0M675.96 220.70a3.90 3.90 0 1 0 7.80 0a3.90 3.90 0 1 0 -7.80 0M678.44 222.11a3.90 3.90 0 1 0 7.80 0a3.90 3.90 0 1 0 -7.80 0M680.92 221.02a3.90 3.90 0 1 0 7.80 0a3.90 3.90 0 1 0 -7.80 0M683.40 217.61a3.90 3.90 0 1 0 7.80 0a3.90 3.90 0 1 0 -7.80 0M685.88 222.00a3.90 3.90 0 1 0 7.80 0a3.90 3.90 0 1 0 -7.80 0M688.35 213.66a3.90 3.90 0 1 0 7.80 0a3.90 3.90 0 1 0 -7.80 0M690.83 205.80a3.90 3.90 0 1 0 7.80 0a3.90 3.90 0 1 0 -7.80 0M693.31 204.21a3.90 3.90 0 1 0 7.80 0a3.90 3.90 0 1 0 -7.80 0M695.79 209.65a3.90 3.90 0 1 0 7.80 0a3.90 3.90 0 1 0 -7.80 0M698.26 205.82a3.90 3.90 0 1 0 7.80 0a3.90 3.90 0 1 0 -7.80 0M700.74 209.52a3.90 3.90 0 1 0 7.80 0a3.90 3.90 0 1 0 -7.80 0M703.22 212.60a3.90 3.90 0 1 0 7.80 0a3.90 3.90 0 1 0 -7.80 0M705.70 210.87a3.90 3.90 0 1 0 7.80 0a3.90 3.90 0 1 0 -7.80 0M708.17 204.50a3.90 3.90 0 1 0 7.80 0a3.90 3.90 0 1 0 -7.80 0M710.65 204.90a3.90 3.90 0 1 0 7.80 0a3.90 3.90 0 1 0 -7.80 0M713.13 196.81a3.90 3.90 0 1 0 7.80 0a3.90 3.90 0 1 0 -7.80 0M715.61 193.41a3.90 3.90 0 1 0 7.80 0a3.90 3.90 0 1 0 -7.80 0M718.08 193.60a3.90 3.90 0 1 0 7.80 0a3.90 3.90 0 1 0 -7.80 0M720.56 198.67a3.90 3.90 0 1 0 7.80 0a3.90 3.90 0 1 0 -7.80 0M723.04 200.40a3.90 3.90 0 1 0 7.80 0a3.90 3.90 0 1 0 -7.80 0M725.52 195.27a3.90 3.90 0 1 0 7.80 0a3.90 3.90 0 1 0 -7.80 0M727.99 186.90a3.90 3.90 0 1 0 7.80 0a3.90 3.90 0 1 0 -7.80 0M730.47 189.08a3.90 3.90 0 1 0 7.80 0a3.90 3.90 0 1 0 -7.80 0M732.95 195.00a3.90 3.90 0 1 0 7.80 0a3.90 3.90 0 1 0 -7.80 0M735.43 213.30a3.90 3.90 0 1 0 7.80 0a3.90 3.90 0 1 0 -7.80 0M737.90 207.21a3.90 3.90 0 1 0 7.80 0a3.90 3.90 0 1 0 -7.80 0M740.38 202.45a3.90 3.90 0 1 0 7.80 0a3.90 3.90 0 1 0 -7.80 0M742.86 199.00a3.90 3.90 0 1 0 7.80 0a3.90 3.90 0 1 0 -7.80 0M745.34 199.49a3.90 3.90 0 1 0 7.80 0a3.90 3.90 0 1 0 -7.80 0M747.81 204.50a3.90 3.90 0 1 0 7.80 0a3.90 3.90 0 1 0 -7.80 0M750.29 194.41a3.90 3.90 0 1 0 7.80 0a3.90 3.90 0 1 0 -7.80 0M752.77 186.90a3.90 3.90 0 1 0 7.80 0a3.90 3.90 0 1 0 -7.80 0M755.25 190.28a3.90 3.90 0 1 0 7.80 0a3.90 3.90 0 1 0 -7.80 0M757.72 190.21a3.90 3.90 0 1 0 7.80 0a3.90 3.90 0 1 0 -7.80 0M760.20 193.81a3.90 3.90 0 1 0 7.80 0a3.90 3.90 0 1 0 -7.80 0M762.68 190.90a3.90 3.90 0 1 0 7.80 0a3.90 3.90 0 1 0 -7.80 0M765.16 179.94a3.90 3.90 0 1 0 7.80 0a3.90 3.90 0 1 0 -7.80 0M767.63 169.30a3.90 3.90 0 1 0 7.80 0a3.90 3.90 0 1 0 -7.80 0M770.11 171.28a3.90 3.90 0 1 0 7.80 0a3.90 3.90 0 1 0 -7.80 0M772.59 171.90a3.90 3.90 0 1 0 7.80 0a3.90 3.90 0 1 0 -7.80 0M775.07 176.00a3.90 3.90 0 1 0 7.80 0a3.90 3.90 0 1 0 -7.80 0M777.54 170.83a3.90 3.90 0 1 0 7.80 0a3.90 3.90 0 1 0 -7.80 0M780.02 163.64a3.90 3.90 0 1 0 7.80 0a3.90 3.90 0 1 0 -7.80 0M782.50 161.20a3.90 3.90 0 1 0 7.80 0a3.90 3.90 0 1 0 -7.80 0M784.98 162.22a3.90 3.90 0 1 0 7.80 0a3.90 3.90 0 1 0 -7.80 0M787.45 170.00a3.90 3.90 0 1 0 7.80 0a3.90 3.90 0 1 0 -7.80 0M789.93 179.07a3.90 3.90 0 1 0 7.80 0a3.90 3.90 0 1 0 -7.80 0M792.41 185.50a3.90 3.90 0 1 0 7.80 0a3.90 3.90 0 1 0 -7.80 0M794.89 184.89a3.90 3.90 0 1 0 7.80 0a3.90 3.90 0 1 0 -7.80 0M797.36 178.80a3.90 3.90 0 1 0 7.80 0a3.90 3.90 0 1 0 -7.80 0M799.84 151.70a3.90 3.90 0 1 0 7.80 0a3.90 3.90 0 1 0 -7.80 0M802.32 151.49a3.90 3.90 0 1 0 7.80 0a3.90 3.90 0 1 0 -7.80 0M804.80 150.63a3.90 3.90 0 1 0 7.80 0a3.90 3.90 0 1 0 -7.80 0M807.27 146.30a3.90 3.90 0 1 0 7.80 0a3.90 3.90 0 1 0 -7.80 0M809.75 140.01a3.90 3.90 0 1 0 7.80 0a3.90 3.90 0 1 0 -7.80 0M812.23 131.40a3.90 3.90 0 1 0 7.80 0a3.90 3.90 0 1 0 -7.80 0M814.71 126.00a3.90 3.90 0 1 0 7.80 0a3.90 3.90 0 1 0 -7.80 0M817.18 139.01a3.90 3.90 0 1 0 7.80 0a3.90 3.90 0 1 0 -7.80 0M819.66 151.70a3.90 3.90 0 1 0 7.80 0a3.90 3.90 0 1 0 -7.80 0M822.14 144.24a3.90 3.90 0 1 0 7.80 0a3.90 3.90 0 1 0 -7.80 0M824.62 138.20a3.90 3.90 0 1 0 7.80 0a3.90 3.90 0 1 0 -7.80 0M827.09 133.04a3.90 3.90 0 1 0 7.80 0a3.90 3.90 0 1 0 -7.80 0M829.57 128.88a3.90 3.90 0 1 0 7.80 0a3.90 3.90 0 1 0 -7.80 0M832.05 126.23a3.90 3.90 0 1 0 7.80 0a3.90 3.90 0 1 0 -7.80 0M834.53 126.00a3.90 3.90 0 1 0 7.80 0a3.90 3.90 0 1 0 -7.80 0M837.00 129.16a3.90 3.90 0 1 0 7.80 0a3.90 3.90 0 1 0 -7.80 0M839.48 132.62a3.90 3.90 0 1 0 7.80 0a3.90 3.90 0 1 0 -7.80 0M841.96 135.50a3.90 3.90 0 1 0 7.80 0a3.90 3.90 0 1 0 -7.80 0M844.44 129.17a3.90 3.90 0 1 0 7.80 0a3.90 3.90 0 1 0 -7.80 0M846.91 127.37a3.90 3.90 0 1 0 7.80 0a3.90 3.90 0 1 0 -7.80 0M849.39 119.57a3.90 3.90 0 1 0 7.80 0a3.90 3.90 0 1 0 -7.80 0M851.87 113.80a3.90 3.90 0 1 0 7.80 0a3.90 3.90 0 1 0 -7.80 0M854.35 113.96a3.90 3.90 0 1 0 7.80 0a3.90 3.90 0 1 0 -7.80 0M856.82 114.22a3.90 3.90 0 1 0 7.80 0a3.90 3.90 0 1 0 -7.80 0M859.30 109.39a3.90 3.90 0 1 0 7.80 0a3.90 3.90 0 1 0 -7.80 0M861.78 110.00a3.90 3.90 0 1 0 7.80 0a3.90 3.90 0 1 0 -7.80 0M864.26 104.11a3.90 3.90 0 1 0 7.80 0a3.90 3.90 0 1 0 -7.80 0M866.73 105.70a3.90 3.90 0 1 0 7.80 0a3.90 3.90 0 1 0 -7.80 0M869.21 120.60a3.90 3.90 0 1 0 7.80 0a3.90 3.90 0 1 0 -7.80 0M871.69 132.83a3.90 3.90 0 1 0 7.80 0a3.90 3.90 0 1 0 -7.80 0M874.17 142.20a3.90 3.90 0 1 0 7.80 0a3.90 3.90 0 1 0 -7.80 0M876.64 142.24a3.90 3.90 0 1 0 7.80 0a3.90 3.90 0 1 0 -7.80 0M879.12 144.90a3.90 3.90 0 1 0 7.80 0a3.90 3.90 0 1 0 -7.80 0" fill="none" stroke="#f00" stroke-width="1.15"/>
<path d="M104.09 571.30h1.98v-48.70h-1.98zM106.56 571.30h1.98v-44.38h-1.98zM109.04 571.30h1.98v-62.88h-1.98zM111.52 571.30h1.98v-66.93h-1.98zM114.00 571.30h1.98v-69.18h-1.98zM116.47 571.30h1.98v-65.08h-1.98zM118.95 571.30h1.98v-56.41h-1.98zM121.43 571.30h1.98v-48.73h-1.98zM123.91 571.30h1.98v-40.94h-1.98zM126.38 571.30h1.98v-36.59h-1.98zM128.86 571.30h1.98v-36.65h-1.98zM131.34 571.30h1.98v-37.39h-1.98zM133.82 571.30h1.98v-34.17h-1.98zM136.29 571.30h1.98v-33.17h-1.98zM138.77 571.30h1.98v-31.15h-1.98zM141.25 571.30h1.98v-31.27h-1.98zM143.73 571.30h1.98v-26.68h-1.98zM146.20 571.30h1.98v-28.67h-1.98zM148.68 571.30h1.98v-24.03h-1.98zM151.16 571.30h1.98v-17.61h-1.98zM153.64 571.30h1.98v-6.36h-1.98zM156.11 571.30h1.98v-7.66h-1.98zM158.59 571.30h1.98v-11.80h-1.98zM161.07 571.30h1.98v-11.12h-1.98zM163.55 571.30h1.98v-12.31h-1.98zM166.02 571.30h1.98v-7.92h-1.98zM168.50 571.30h1.98v-7.55h-1.98zM170.98 571.30h1.98v-8.27h-1.98zM173.46 571.30h1.98v-7.33h-1.98zM175.93 571.30h1.98v-5.60h-1.98zM178.41 571.30h1.98v-0.71h-1.98zM180.89 571.30h1.98v-5.60h-1.98zM183.37 571.30h1.98v-21.94h-1.98zM185.85 571.30h1.98v-0.11h-1.98zM188.32 571.30h1.98v-0.60h-1.98zM190.80 571.30h1.98v-1.71h-1.98zM193.28 571.30h1.98v-2.56h-1.98zM195.76 571.30h1.98v-0.59h-1.98zM198.23 571.30h1.98v-0.21h-1.98zM200.71 571.30h1.98v-0.91h-1.98zM203.19 571.30h1.98v-0.57h-1.98zM205.67 571.30h1.98v-1.63h-1.98zM208.14 571.30h1.98v-2.71h-1.98zM210.62 571.30h1.98v-3.90h-1.98zM213.10 571.30h1.98v-2.92h-1.98zM215.58 571.30h1.98v-4.32h-1.98zM218.05 571.30h1.98v-1.89h-1.98zM220.53 571.30h1.98v-0.67h-1.98zM223.01 571.30h1.98v-1.29h-1.98zM225.49 571.30h1.98v-4.80h-1.98zM227.96 571.30h1.98v-2.08h-1.98zM230.44 571.30h1.98v-5.73h-1.98zM232.92 571.30h1.98v-4.49h-1.98zM235.40 571.30h1.98v-8.48h-1.98zM237.87 571.30h1.98v-9.57h-1.98zM240.35 571.30h1.98v-7.78h-1.98zM242.83 571.30h1.98v-9.28h-1.98zM245.31 571.30h1.98v-14.71h-1.98zM247.78 571.30h1.98v-7.85h-1.98zM250.26 571.30h1.98v-8.99h-1.98zM252.74 571.30h1.98v-6.77h-1.98zM255.22 571.30h1.98v-4.64h-1.98zM257.69 571.30h1.98v-6.93h-1.98zM260.17 571.30h1.98v-7.78h-1.98zM262.65 571.30h1.98v-14.97h-1.98zM265.13 571.30h1.98v-19.62h-1.98zM267.60 571.30h1.98v-20.71h-1.98zM270.08 571.30h1.98v-22.83h-1.98zM272.56 571.30h1.98v-23.52h-1.98zM275.04 571.30h1.98v-24.51h-1.98zM277.51 571.30h1.98v-22.73h-1.98zM279.99 571.30h1.98v-25.84h-1.98zM282.47 571.30h1.98v-24.87h-1.98zM284.95 571.30h1.98v-22.28h-1.98zM287.42 571.30h1.98v-26.29h-1.98zM289.90 571.30h1.98v-20.67h-1.98zM292.38 571.30h1.98v-21.80h-1.98zM294.86 571.30h1.98v-19.36h-1.98zM297.33 571.30h1.98v-14.50h-1.98zM299.81 571.30h1.98v-9.62h-1.98zM302.29 571.30h1.98v-11.80h-1.98zM304.77 571.30h1.98v-9.20h-1.98zM307.24 571.30h1.98v-12.60h-1.98zM309.72 571.30h1.98v-11.07h-1.98zM312.20 571.30h1.98v-9.19h-1.98zM314.68 571.30h1.98v-10.18h-1.98zM317.15 571.30h1.98v-7.34h-1.98zM319.63 571.30h1.98v-4.80h-1.98zM322.11 571.30h1.98v-2.93h-1.98zM324.59 571.30h1.98v-0.81h-1.98zM327.06 571.30h1.98v-3.12h-1.98zM329.54 571.30h1.98v-1.92h-1.98zM332.02 571.30h1.98v-3.54h-1.98zM334.50 571.30h1.98v-0.17h-1.98zM336.97 571.30h1.98v-3.03h-1.98zM339.45 571.30h1.98v-3.36h-1.98zM341.93 571.30h1.98v-5.52h-1.98zM344.41 571.30h1.98v-7.99h-1.98zM346.88 571.30h1.98v-10.53h-1.98zM349.36 571.30h1.98v-9.52h-1.98zM351.84 571.30h1.98v-8.92h-1.98zM354.32 571.30h1.98v-9.73h-1.98zM356.79 571.30h1.98v-9.83h-1.98zM359.27 571.30h1.98v-7.22h-1.98zM361.75 571.30h1.98v-8.14h-1.98zM364.23 571.30h1.98v-6.43h-1.98zM366.70 571.30h1.98v-4.88h-1.98zM369.18 571.30h1.98v-6.15h-1.98zM371.66 571.30h1.98v-6.31h-1.98zM374.14 571.30h1.98v-8.66h-1.98zM376.61 571.30h1.98v-6.97h-1.98zM379.09 571.30h1.98v-6.96h-1.98zM381.57 571.30h1.98v-7.75h-1.98zM384.05 571.30h1.98v-6.43h-1.98zM386.53 571.30h1.98v-4.30h-1.98zM389.00 571.30h1.98v-7.40h-1.98zM391.48 571.30h1.98v-8.03h-1.98zM393.96 571.30h1.98v-8.68h-1.98zM396.44 571.30h1.98v-3.56h-1.98zM398.91 571.30h1.98v-6.70h-1.98zM401.39 571.30h1.98v-5.15h-1.98zM403.87 571.30h1.98v-5.20h-1.98zM406.35 571.30h1.98v-6.75h-1.98zM408.82 571.30h1.98v-10.71h-1.98zM411.30 571.30h1.98v-5.77h-1.98zM413.78 571.30h1.98v-12.20h-1.98zM416.26 571.30h1.98v-7.68h-1.98zM418.73 571.30h1.98v-9.87h-1.98zM421.21 571.30h1.98v-14.84h-1.98zM423.69 571.30h1.98v-25.08h-1.98zM426.17 571.30h1.98v-26.42h-1.98zM428.64 571.30h1.98v-28.54h-1.98zM431.12 571.30h1.98v-28.17h-1.98zM433.60 571.30h1.98v-25.73h-1.98zM436.08 571.30h1.98v-21.14h-1.98zM438.55 571.30h1.98v-20.14h-1.98zM441.03 571.30h1.98v-21.49h-1.98zM443.51 571.30h1.98v-23.97h-1.98zM445.99 571.30h1.98v-26.95h-1.98zM448.46 571.30h1.98v-26.43h-1.98zM450.94 571.30h1.98v-26.39h-1.98zM453.42 571.30h1.98v-23.67h-1.98zM455.90 571.30h1.98v-20.11h-1.98zM458.37 571.30h1.98v-18.91h-1.98zM460.85 571.30h1.98v-12.70h-1.98zM463.33 571.30h1.98v-15.47h-1.98zM465.81 571.30h1.98v-22.66h-1.98zM468.28 571.30h1.98v-25.39h-1.98zM470.76 571.30h1.98v-25.80h-1.98zM473.24 571.30h1.98v-21.43h-1.98zM475.72 571.30h1.98v-16.89h-1.98zM478.19 571.30h1.98v-16.88h-1.98zM480.67 571.30h1.98v-16.92h-1.98zM483.15 571.30h1.98v-16.40h-1.98zM485.63 571.30h1.98v-16.00h-1.98zM488.10 571.30h1.98v-16.99h-1.98zM490.58 571.30h1.98v-11.21h-1.98zM493.06 571.30h1.98v-12.21h-1.98zM495.54 571.30h1.98v-11.31h-1.98zM498.01 571.30h1.98v-14.86h-1.98zM500.49 571.30h1.98v-15.66h-1.98zM502.97 571.30h1.98v-13.79h-1.98zM505.45 571.30h1.98v-22.15h-1.98zM507.92 571.30h1.98v-22.95h-1.98zM510.40 571.30h1.98v-21.71h-1.98zM512.88 571.30h1.98v-11.70h-1.98zM515.36 571.30h1.98v-12.47h-1.98zM517.83 571.30h1.98v-7.69h-1.98zM520.31 571.30h1.98v-7.52h-1.98zM522.79 571.30h1.98v-7.19h-1.98zM525.27 571.30h1.98v-8.53h-1.98zM527.74 571.30h1.98v-13.76h-1.98zM530.22 571.30h1.98v-11.13h-1.98zM532.70 571.30h1.98v-11.11h-1.98zM535.18 571.30h1.98v-11.83h-1.98zM537.65 571.30h1.98v-11.67h-1.98zM540.13 571.30h1.98v-5.44h-1.98zM542.61 571.30h1.98v-6.01h-1.98zM545.09 571.30h1.98v-0.63h-1.98zM547.56 571.30h1.98v-2.88h-1.98zM550.04 571.30h1.98v-3.43h-1.98zM552.52 571.30h1.98v-2.09h-1.98zM555.00 571.30h1.98v-1.69h-1.98zM557.47 571.30h1.98v-4.08h-1.98zM559.95 571.30h1.98v-6.24h-1.98zM562.43 571.30h1.98v-5.58h-1.98zM564.91 571.30h1.98v-9.52h-1.98zM567.38 571.30h1.98v-7.32h-1.98zM569.86 571.30h1.98v-7.04h-1.98zM572.34 571.30h1.98v-6.80h-1.98zM574.82 571.30h1.98v-4.58h-1.98zM577.30 571.30h1.98v-6.22h-1.98zM579.77 571.30h1.98v-3.96h-1.98zM582.25 571.30h1.98v-5.32h-1.98zM584.73 571.30h1.98v-3.48h-1.98zM587.21 571.30h1.98v-2.56h-1.98zM589.68 571.30h1.98v-0.05h-1.98zM592.16 571.30h1.98v-2.33h-1.98zM594.64 571.30h1.98v-3.26h-1.98zM597.12 571.30h1.98v-1.16h-1.98zM599.59 571.30h1.98v-4.21h-1.98zM602.07 571.30h1.98v-5.86h-1.98zM604.55 571.30h1.98v-6.14h-1.98zM607.03 571.30h1.98v-9.04h-1.98zM609.50 571.30h1.98v-4.20h-1.98zM611.98 571.30h1.98v-5.31h-1.98zM614.46 571.30h1.98v-9.28h-1.98zM616.94 571.30h1.98v-9.84h-1.98zM619.41 571.30h1.98v-11.46h-1.98zM621.89 571.30h1.98v-13.65h-1.98zM624.37 571.30h1.98v-11.76h-1.98zM626.85 571.30h1.98v-12.90h-1.98zM629.32 571.30h1.98v-10.51h-1.98zM631.80 571.30h1.98v-4.71h-1.98zM634.28 571.30h1.98v-6.31h-1.98zM636.76 571.30h1.98v-4.66h-1.98zM639.23 571.30h1.98v-13.36h-1.98zM641.71 571.30h1.98v-19.07h-1.98zM644.19 571.30h1.98v-23.54h-1.98zM646.67 571.30h1.98v-16.01h-1.98zM649.14 571.30h1.98v-18.44h-1.98zM651.62 571.30h1.98v-12.26h-1.98zM654.10 571.30h1.98v-6.81h-1.98zM656.58 571.30h1.98v-20.49h-1.98zM659.05 571.30h1.98v-33.31h-1.98zM661.53 571.30h1.98v-25.93h-1.98zM664.01 571.30h1.98v-24.66h-1.98zM666.49 571.30h1.98v-21.31h-1.98zM668.96 571.30h1.98v-17.27h-1.98zM671.44 571.30h1.98v-11.86h-1.98zM673.92 571.30h1.98v-19.17h-1.98zM676.40 571.30h1.98v-12.32h-1.98zM678.87 571.30h1.98v-7.81h-1.98zM681.35 571.30h1.98v-10.21h-1.98zM683.83 571.30h1.98v-10.11h-1.98zM686.31 571.30h1.98v-7.69h-1.98zM688.78 571.30h1.98v-13.07h-1.98zM691.26 571.30h1.98v-5.73h-1.98zM693.74 571.30h1.98v-1.14h-1.98zM696.22 571.30h1.98v-1.74h-1.98zM698.69 571.30h1.98v-4.70h-1.98zM701.17 571.30h1.98v-1.86h-1.98zM703.65 571.30h1.98v-6.55h-1.98zM706.13 571.30h1.98v-10.64h-1.98zM708.60 571.30h1.98v-9.90h-1.98zM711.08 571.30h1.98v-4.53h-1.98zM713.56 571.30h1.98v-5.94h-1.98zM716.04 571.30h1.98v-1.12h-1.98zM718.51 571.30h1.98v-3.48h-1.98zM720.99 571.30h1.98v-2.24h-1.98zM723.47 571.30h1.98v-3.90h-1.98zM725.95 571.30h1.98v-6.70h-1.98zM728.42 571.30h1.98v-2.66h-1.98zM730.90 571.30h1.98v-4.61h-1.98zM733.38 571.30h1.98v-1.32h-1.98zM735.86 571.30h1.98v-5.71h-1.98zM738.33 571.30h1.98v-25.12h-1.98zM740.81 571.30h1.98v-20.15h-1.98zM743.29 571.30h1.98v-16.49h-1.98zM745.77 571.30h1.98v-14.16h-1.98zM748.24 571.30h1.98v-15.76h-1.98zM750.72 571.30h1.98v-21.88h-1.98zM753.20 571.30h1.98v-12.91h-1.98zM755.68 571.30h1.98v-6.51h-1.98zM758.15 571.30h1.98v-11.00h-1.98zM760.63 571.30h1.98v-12.05h-1.98zM763.11 571.30h1.98v-16.77h-1.98zM765.59 571.30h1.98v-14.99h-1.98zM768.06 571.30h1.98v-5.18h-1.98zM770.54 571.30h1.98v-4.27h-1.98zM773.02 571.30h1.98v-1.08h-1.98zM775.50 571.30h1.98v-0.78h-1.98zM777.98 571.30h1.98v-6.15h-1.98zM780.45 571.30h1.98v-2.28h-1.98zM782.93 571.30h1.98v-3.59h-1.98zM785.41 571.30h1.98v-4.68h-1.98zM787.89 571.30h1.98v-2.28h-1.98zM790.36 571.30h1.98v-6.86h-1.98zM792.84 571.30h1.98v-17.30h-1.98zM795.32 571.30h1.98v-25.09h-1.98zM797.80 571.30h1.98v-25.84h-1.98zM800.27 571.30h1.98v-21.12h-1.98zM802.75 571.30h1.98v-4.61h-1.98zM805.23 571.30h1.98v-3.46h-1.98zM807.71 571.30h1.98v-2.95h-1.98zM810.18 571.30h1.98v-5.92h-1.98zM812.66 571.30h1.98v-10.85h-1.98zM815.14 571.30h1.98v-18.09h-1.98zM817.62 571.30h1.98v-22.13h-1.98zM820.09 571.30h1.98v-7.75h-1.98zM822.57 571.30h1.98v-6.32h-1.98zM825.05 571.30h1.98v-0.26h-1.98zM827.53 571.30h1.98v-4.37h-1.98zM830.00 571.30h1.98v-8.11h-1.98zM832.48 571.30h1.98v-10.83h-1.98zM834.96 571.30h1.98v-12.03h-1.98zM837.44 571.30h1.98v-10.80h-1.98zM839.91 571.30h1.98v-6.17h-1.98zM842.39 571.30h1.98v-1.22h-1.98zM844.87 571.30h1.98v-3.14h-1.98zM847.35 571.30h1.98v-1.71h-1.98zM849.82 571.30h1.98v-2.05h-1.98zM852.30 571.30h1.98v-8.38h-1.98zM854.78 571.30h1.98v-12.68h-1.98zM857.26 571.30h1.98v-11.07h-1.98zM859.73 571.30h1.98v-9.35h-1.98zM862.21 571.30h1.98v-12.73h-1.98zM864.69 571.30h1.98v-10.68h-1.98zM867.17 571.30h1.98v-15.13h-1.98zM869.64 571.30h1.98v-12.11h-1.98zM872.12 571.30h1.98v-4.18h-1.98zM874.60 571.30h1.98v-17.83h-1.98zM877.08 571.30h1.98v-28.61h-1.98zM879.55 571.30h1.98v-30.02h-1.98zM882.03 571.30h1.98v-33.80h-1.98z" fill="#2424ff" stroke="none" stroke-width="0"/>
<path d="M104.09 522.60h1.98M106.56 526.92h1.98M109.04 508.42h1.98M111.52 504.37h1.98M114.00 502.12h1.98M116.47 506.22h1.98M118.95 514.89h1.98M121.43 522.57h1.98M123.91 530.36h1.98M126.38 534.71h1.98M128.86 534.65h1.98M131.34 533.91h1.98M133.82 537.13h1.98M136.29 538.13h1.98M138.77 540.15h1.98M141.25 540.03h1.98M143.73 544.62h1.98M146.20 542.63h1.98M148.68 547.27h1.98M151.16 553.69h1.98M153.64 564.94h1.98M156.11 563.64h1.98M158.59 559.50h1.98M161.07 560.18h1.98M163.55 558.99h1.98M166.02 563.38h1.98M168.50 563.75h1.98M170.98 563.03h1.98M173.46 563.97h1.98M175.93 565.70h1.98M178.41 570.59h1.98M180.89 565.70h1.98M183.37 549.36h1.98M185.85 571.19h1.98M188.32 570.70h1.98M190.80 569.59h1.98M193.28 568.74h1.98M195.76 570.71h1.98M198.23 571.09h1.98M200.71 570.39h1.98M203.19 570.73h1.98M205.67 569.67h1.98M208.14 568.59h1.98M210.62 567.40h1.98M213.10 568.38h1.98M215.58 566.98h1.98M218.05 569.41h1.98M220.53 570.63h1.98M223.01 570.01h1.98M225.49 566.50h1.98M227.96 569.22h1.98M230.44 565.57h1.98M232.92 566.81h1.98M235.40 562.82h1.98M237.87 561.73h1.98M240.35 563.52h1.98M242.83 562.02h1.98M245.31 556.59h1.98M247.78 563.45h1.98M250.26 562.31h1.98M252.74 564.53h1.98M255.22 566.66h1.98M257.69 564.37h1.98M260.17 563.52h1.98M262.65 556.33h1.98M265.13 551.68h1.98M267.60 550.59h1.98M270.08 548.47h1.98M272.56 547.78h1.98M275.04 546.79h1.98M277.51 548.57h1.98M279.99 545.46h1.98M282.47 546.43h1.98M284.95 549.02h1.98M287.42 545.01h1.98M289.90 550.63h1.98M292.38 549.50h1.98M294.86 551.94h1.98M297.33 556.80h1.98M299.81 561.68h1.98M302.29 559.50h1.98M304.77 562.10h1.98M307.24 558.70h1.98M309.72 560.23h1.98M312.20 562.11h1.98M314.68 561.12h1.98M317.15 563.96h1.98M319.63 566.50h1.98M322.11 568.37h1.98M324.59 570.49h1.98M327.06 568.18h1.98M329.54 569.38h1.98M332.02 567.76h1.98M334.50 571.13h1.98M336.97 568.27h1.98M339.45 567.94h1.98M341.93 565.78h1.98M344.41 563.31h1.98M346.88 560.77h1.98M349.36 561.78h1.98M351.84 562.38h1.98M354.32 561.57h1.98M356.79 561.47h1.98M359.27 564.08h1.98M361.75 563.16h1.98M364.23 564.87h1.98M366.70 566.42h1.98M369.18 565.15h1.98M371.66 564.99h1.98M374.14 562.64h1.98M376.61 564.33h1.98M379.09 564.34h1.98M381.57 563.55h1.98M384.05 564.87h1.98M386.53 567.00h1.98M389.00 563.90h1.98M391.48 563.27h1.98M393.96 562.62h1.98M396.44 567.74h1.98M398.91 564.60h1.98M401.39 566.15h1.98M403.87 566.10h1.98M406.35 564.55h1.98M408.82 560.59h1.98M411.30 565.53h1.98M413.78 559.10h1.98M416.26 563.62h1.98M418.73 561.43h1.98M421.21 556.46h1.98M423.69 546.22h1.98M426.17 544.88h1.98M428.64 542.76h1.98M431.12 543.13h1.98M433.60 545.57h1.98M436.08 550.16h1.98M438.55 551.16h1.98M441.03 549.81h1.98M443.51 547.33h1.98M445.99 544.35h1.98M448.46 544.87h1.98M450.94 544.91h1.98M453.42 547.63h1.98M455.90 551.19h1.98M458.37 552.39h1.98M460.85 558.60h1.98M463.33 555.83h1.98M465.81 548.64h1.98M468.28 545.91h1.98M470.76 545.50h1.98M473.24 549.87h1.98M475.72 554.41h1.98M478.19 554.42h1.98M480.67 554.38h1.98M483.15 554.90h1.98M485.63 555.30h1.98M488.10 554.31h1.98M490.58 560.09h1.98M493.06 559.09h1.98M495.54 559.99h1.98M498.01 556.44h1.98M500.49 555.64h1.98M502.97 557.51h1.98M505.45 549.15h1.98M507.92 548.35h1.98M510.40 549.59h1.98M512.88 559.60h1.98M515.36 558.83h1.98M517.83 563.61h1.98M520.31 563.78h1.98M522.79 564.11h1.98M525.27 562.77h1.98M527.74 557.54h1.98M530.22 560.17h1.98M532.70 560.19h1.98M535.18 559.47h1.98M537.65 559.63h1.98M540.13 565.86h1.98M542.61 565.29h1.98M545.09 570.67h1.98M547.56 568.42h1.98M550.04 567.87h1.98M552.52 569.21h1.98M555.00 569.61h1.98M557.47 567.22h1.98M559.95 565.06h1.98M562.43 565.72h1.98M564.91 561.78h1.98M567.38 563.98h1.98M569.86 564.26h1.98M572.34 564.50h1.98M574.82 566.72h1.98M577.30 565.08h1.98M579.77 567.34h1.98M582.25 565.98h1.98M584.73 567.82h1.98M587.21 568.74h1.98M589.68 571.25h1.98M592.16 568.97h1.98M594.64 568.04h1.98M597.12 570.14h1.98M599.59 567.09h1.98M602.07 565.44h1.98M604.55 565.16h1.98M607.03 562.26h1.98M609.50 567.10h1.98M611.98 565.99h1.98M614.46 562.02h1.98M616.94 561.46h1.98M619.41 559.84h1.98M621.89 557.65h1.98M624.37 559.54h1.98M626.85 558.40h1.98M629.32 560.79h1.98M631.80 566.59h1.98M634.28 564.99h1.98M636.76 566.64h1.98M639.23 557.94h1.98M641.71 552.23h1.98M644.19 547.76h1.98M646.67 555.29h1.98M649.14 552.86h1.98M651.62 559.04h1.98M654.10 564.49h1.98M656.58 550.81h1.98M659.05 537.99h1.98M661.53 545.37h1.98M664.01 546.64h1.98M666.49 549.99h1.98M668.96 554.03h1.98M671.44 559.44h1.98M673.92 552.13h1.98M676.40 558.98h1.98M678.87 563.49h1.98M681.35 561.09h1.98M683.83 561.19h1.98M686.31 563.61h1.98M688.78 558.23h1.98M691.26 565.57h1.98M693.74 570.16h1.98M696.22 569.56h1.98M698.69 566.60h1.98M701.17 569.44h1.98M703.65 564.75h1.98M706.13 560.66h1.98M708.60 561.40h1.98M711.08 566.77h1.98M713.56 565.36h1.98M716.04 570.18h1.98M718.51 567.82h1.98M720.99 569.06h1.98M723.47 567.40h1.98M725.95 564.60h1.98M728.42 568.64h1.98M730.90 566.69h1.98M733.38 569.98h1.98M735.86 565.59h1.98M738.33 546.18h1.98M740.81 551.15h1.98M743.29 554.81h1.98M745.77 557.14h1.98M748.24 555.54h1.98M750.72 549.42h1.98M753.20 558.39h1.98M755.68 564.79h1.98M758.15 560.30h1.98M760.63 559.25h1.98M763.11 554.53h1.98M765.59 556.31h1.98M768.06 566.12h1.98M770.54 567.03h1.98M773.02 570.22h1.98M775.50 570.52h1.98M777.98 565.15h1.98M780.45 569.02h1.98M782.93 567.71h1.98M785.41 566.62h1.98M787.89 569.02h1.98M790.36 564.44h1.98M792.84 554.00h1.98M795.32 546.21h1.98M797.80 545.46h1.98M800.27 550.18h1.98M802.75 566.69h1.98M805.23 567.84h1.98M807.71 568.35h1.98M810.18 565.38h1.98M812.66 560.45h1.98M815.14 553.21h1.98M817.62 549.17h1.98M820.09 563.55h1.98M822.57 564.98h1.98M825.05 571.04h1.98M827.53 566.93h1.98M830.00 563.19h1.98M832.48 560.47h1.98M834.96 559.27h1.98M837.44 560.50h1.98M839.91 565.13h1.98M842.39 570.08h1.98M844.87 568.16h1.98M847.35 569.59h1.98M849.82 569.25h1.98M852.30 562.92h1.98M854.78 558.62h1.98M857.26 560.23h1.98M859.73 561.95h1.98M862.21 558.57h1.98M864.69 560.62h1.98M867.17 556.17h1.98M869.64 559.19h1.98M872.12 567.12h1.98M874.60 553.47h1.98M877.08 542.69h1.98M879.55 541.28h1.98M882.03 537.50h1.98" stroke="#000050" stroke-width="0.8" fill="none"/>
</g>
<line x1="131.40" y1="56.30" x2="204.40" y2="56.30" stroke="#000" stroke-width="2.4"/>
<line x1="131.40" y1="95.80" x2="204.40" y2="95.80" stroke="#f00" stroke-width="1.1"/>
<circle cx="167.90" cy="95.80" r="3.9" fill="none" stroke="#f00" stroke-width="1.1"/>
<rect x="131.40" y="121.10" width="73.00" height="27.8" fill="#0000ff" stroke="#00008a" stroke-width="0.6"/>
<text x="211.60" y="68.00" font-size="29.3">Actual wear value</text>
<text x="211.60" y="107.50" font-size="29.3">Predicted wear value</text>
<text x="211.60" y="146.70" font-size="29.3">Error</text>
<rect x="261.90" y="395.20" width="374.50" height="54.50" fill="#fff" stroke="#262626" stroke-width="1.3"/>
<text x="274.00" y="432.00" font-size="29.3">Predicted tool wear of C1</text>
<text x="102.60" y="612.20" text-anchor="middle" font-size="29.3" fill="#262626">0</text>
<text x="226.48" y="612.20" text-anchor="middle" font-size="29.3" fill="#262626">50</text>
<text x="350.35" y="612.20" text-anchor="middle" font-size="29.3" fill="#262626">100</text>
<text x="474.23" y="612.20" text-anchor="middle" font-size="29.3" fill="#262626">150</text>
<text x="598.11" y="612.20" text-anchor="middle" font-size="29.3" fill="#262626">200</text>
<text x="721.98" y="612.20" text-anchor="middle" font-size="29.3" fill="#262626">250</text>
<text x="845.86" y="612.20" text-anchor="middle" font-size="29.3" fill="#262626">300</text>
<text x="91.20" y="582.90" text-anchor="end" font-size="29.3" fill="#262626">0</text>
<text x="91.20" y="443.38" text-anchor="end" font-size="29.3" fill="#262626">50</text>
<text x="91.20" y="303.85" text-anchor="end" font-size="29.3" fill="#262626">100</text>
<text x="91.20" y="164.33" text-anchor="end" font-size="29.3" fill="#262626">150</text>
<text x="91.20" y="24.80" text-anchor="end" font-size="29.3" fill="#262626">200</text>
<text x="494.05" y="653.90" text-anchor="middle" font-size="32.7" fill="#262626">Cut number</text>
<text transform="translate(27.90 292.25) rotate(-90)" text-anchor="middle" font-size="32.7" fill="#262626">Flank wear(μm)</text>
<clipPath id="c2"><rect x="1063.00" y="13.20" width="782.70" height="558.20"/></clipPath>
<g clip-path="url(#c2)">
<polyline points="1065.48,517.80 1067.95,510.31 1070.43,502.91 1072.91,496.60 1075.38,490.99 1077.86,485.13 1080.34,479.61 1082.82,474.52 1085.29,470.00 1087.77,465.79 1090.25,461.88 1092.72,458.26 1095.20,454.85 1097.68,451.74 1100.15,448.95 1102.63,446.50 1105.11,444.37 1107.58,442.41 1110.06,440.62 1112.54,439.01 1115.01,437.57 1117.49,436.36 1119.97,435.23 1122.45,434.16 1124.92,433.14 1127.40,432.18 1129.88,431.27 1132.35,430.43 1134.83,429.69 1137.31,429.05 1139.78,428.45 1142.26,427.89 1144.74,427.37 1147.21,426.90 1149.69,426.47 1152.17,426.08 1154.65,425.71 1157.12,425.34 1159.60,424.97 1162.08,424.61 1164.55,424.24 1167.03,423.87 1169.51,423.50 1171.98,423.13 1174.46,422.76 1176.94,422.39 1179.41,422.02 1181.89,421.65 1184.37,421.28 1186.84,420.90 1189.32,420.53 1191.80,420.16 1194.28,419.78 1196.75,419.40 1199.23,419.00 1201.71,418.56 1204.18,418.10 1206.66,417.61 1209.14,417.10 1211.61,416.55 1214.09,415.98 1216.57,415.38 1219.04,414.76 1221.52,414.14 1224.00,413.47 1226.48,412.74 1228.95,411.93 1231.43,411.05 1233.91,410.10 1236.38,409.08 1238.86,408.00 1241.34,406.84 1243.81,405.62 1246.29,404.40 1248.77,403.22 1251.24,402.09 1253.72,400.99 1256.20,399.94 1258.67,398.94 1261.15,397.97 1263.63,397.05 1266.11,396.17 1268.58,395.31 1271.06,394.45 1273.54,393.59 1276.01,392.72 1278.49,391.85 1280.97,390.95 1283.44,390.02 1285.92,389.06 1288.40,388.07 1290.87,387.06 1293.35,386.01 1295.83,384.94 1298.31,383.84 1300.78,382.72 1303.26,381.61 1305.74,380.49 1308.21,379.38 1310.69,378.28 1313.17,377.24 1315.64,376.26 1318.12,375.34 1320.60,374.48 1323.07,373.67 1325.55,372.92 1328.03,372.23 1330.51,371.60 1332.98,371.00 1335.46,370.40 1337.94,369.81 1340.41,369.21 1342.89,368.64 1345.37,368.10 1347.84,367.58 1350.32,367.09 1352.80,366.62 1355.27,366.17 1357.75,365.75 1360.23,365.36 1362.70,364.98 1365.18,364.61 1367.66,364.24 1370.14,363.86 1372.61,363.49 1375.09,363.13 1377.57,362.79 1380.04,362.46 1382.52,362.14 1385.00,361.84 1387.47,361.55 1389.95,361.28 1392.43,361.02 1394.90,360.77 1397.38,360.53 1399.86,360.29 1402.34,360.04 1404.81,359.80 1407.29,359.58 1409.77,359.38 1412.24,359.22 1414.72,359.08 1417.20,358.97 1419.67,358.89 1422.15,358.83 1424.63,358.80 1427.10,358.80 1429.58,358.80 1432.06,358.80 1434.53,358.80 1437.01,358.80 1439.49,358.80 1441.97,358.81 1444.44,358.81 1446.92,358.82 1449.40,358.84 1451.87,358.85 1454.35,358.87 1456.83,358.89 1459.30,358.91 1461.78,358.93 1464.26,358.96 1466.73,358.98 1469.21,359.00 1471.69,359.02 1474.17,359.04 1476.64,359.06 1479.12,359.07 1481.60,359.08 1484.07,359.09 1486.55,359.10 1489.03,359.10 1491.50,359.10 1493.98,359.10 1496.46,359.10 1498.93,359.10 1501.41,359.10 1503.89,359.10 1506.36,359.10 1508.84,359.10 1511.32,359.10 1513.80,359.10 1516.27,359.10 1518.75,359.10 1521.23,359.10 1523.70,359.10 1526.18,359.10 1528.66,359.10 1531.13,359.10 1533.61,359.10 1536.09,359.09 1538.56,359.06 1541.04,359.00 1543.52,358.92 1546.00,358.82 1548.47,358.70 1550.95,358.55 1553.43,358.38 1555.90,358.19 1558.38,357.99 1560.86,357.72 1563.33,357.37 1565.81,356.92 1568.29,356.37 1570.76,355.73 1573.24,355.05 1575.72,354.32 1578.19,353.54 1580.67,352.71 1583.15,351.90 1585.63,351.05 1588.10,350.15 1590.58,349.20 1593.06,348.18 1595.53,347.07 1598.01,345.87 1600.49,344.62 1602.96,343.31 1605.44,341.94 1607.92,340.59 1610.39,339.29 1612.87,338.03 1615.35,336.81 1617.83,335.64 1620.30,334.49 1622.78,333.26 1625.26,331.96 1627.73,330.57 1630.21,329.10 1632.69,327.56 1635.16,325.94 1637.64,324.23 1640.12,322.45 1642.59,320.59 1645.07,318.73 1647.55,316.87 1650.03,315.01 1652.50,313.11 1654.98,311.15 1657.46,309.13 1659.93,307.06 1662.41,304.93 1664.89,302.75 1667.36,300.52 1669.84,298.23 1672.32,295.88 1674.79,293.53 1677.27,291.17 1679.75,288.82 1682.22,286.46 1684.70,284.08 1687.18,281.69 1689.66,279.28 1692.13,276.87 1694.61,274.44 1697.09,271.99 1699.56,269.53 1702.04,267.06 1704.52,264.58 1706.99,262.11 1709.47,259.63 1711.95,257.13 1714.42,254.59 1716.90,252.01 1719.38,249.39 1721.86,246.73 1724.33,244.03 1726.81,241.28 1729.29,238.50 1731.76,235.67 1734.24,232.83 1736.72,229.98 1739.19,227.14 1741.67,224.29 1744.15,221.46 1746.62,218.65 1749.10,215.84 1751.58,213.05 1754.05,210.27 1756.53,207.51 1759.01,204.75 1761.49,202.01 1763.96,199.28 1766.44,196.55 1768.92,193.82 1771.39,191.09 1773.87,188.36 1776.35,185.63 1778.82,182.90 1781.30,180.18 1783.78,177.46 1786.25,174.74 1788.73,172.02 1791.21,169.30 1793.69,166.59 1796.16,163.87 1798.64,161.16 1801.12,158.44 1803.59,155.77 1806.07,153.13 1808.55,150.54 1811.02,147.98 1813.50,145.46 1815.98,142.99 1818.45,140.55 1820.93,138.16 1823.41,135.80 1825.88,133.45 1828.36,131.10 1830.84,128.74 1833.32,126.59 1835.79,124.30 1838.27,122.05 1840.75,119.94 1843.22,118.80" fill="none" stroke="#000" stroke-width="2.4" stroke-linejoin="round" />
<polyline points="1065.48,485.40 1067.95,485.00 1070.43,469.10 1072.91,455.30 1075.38,455.61 1077.86,452.80 1080.34,452.10 1082.82,456.00 1085.29,442.63 1087.77,435.80 1090.25,436.90 1092.72,438.14 1095.20,437.50 1097.68,434.48 1100.15,432.28 1102.63,432.60 1105.11,429.20 1107.58,422.90 1110.06,411.94 1112.54,403.40 1115.01,405.61 1117.49,402.83 1119.97,398.55 1122.45,399.82 1124.92,403.40 1127.40,398.90 1129.88,393.65 1132.35,396.90 1134.83,394.66 1137.31,392.06 1139.78,393.37 1142.26,388.80 1144.74,413.10 1147.21,408.30 1149.69,408.20 1152.17,409.74 1154.65,414.10 1157.12,414.70 1159.60,411.85 1162.08,402.18 1164.55,400.10 1167.03,405.35 1169.51,400.60 1171.98,403.40 1174.46,413.90 1176.94,401.00 1179.41,403.96 1181.89,399.59 1184.37,400.10 1186.84,398.26 1189.32,395.31 1191.80,398.00 1194.28,396.19 1196.75,401.57 1199.23,393.60 1201.71,383.90 1204.18,396.00 1206.66,396.32 1209.14,400.10 1211.61,401.05 1214.09,397.25 1216.57,390.40 1219.04,390.54 1221.52,395.84 1224.00,394.00 1226.48,400.92 1228.95,399.44 1231.43,403.40 1233.91,397.62 1236.38,397.79 1238.86,390.40 1241.34,391.11 1243.81,395.66 1246.29,390.79 1248.77,386.20 1251.24,388.94 1253.72,388.80 1256.20,380.68 1258.67,379.00 1261.15,390.01 1263.63,396.90 1266.11,396.66 1268.58,391.45 1271.06,390.40 1273.54,388.69 1276.01,394.25 1278.49,391.48 1280.97,396.55 1283.44,391.23 1285.92,393.86 1288.40,395.30 1290.87,385.67 1293.35,379.00 1295.83,381.45 1298.31,396.98 1300.78,399.42 1303.26,400.10 1305.74,394.35 1308.21,394.18 1310.69,383.04 1313.17,383.90 1315.64,387.33 1318.12,386.87 1320.60,382.98 1323.07,382.95 1325.55,384.58 1328.03,383.90 1330.51,382.61 1332.98,377.81 1335.46,373.92 1337.94,372.98 1340.41,369.12 1342.89,372.29 1345.37,366.00 1347.84,371.75 1350.32,376.60 1352.80,376.95 1355.27,367.18 1357.75,372.43 1360.23,371.58 1362.70,370.19 1365.18,371.80 1367.66,369.66 1370.14,367.15 1372.61,359.75 1375.09,369.76 1377.57,368.03 1380.04,362.00 1382.52,370.00 1385.00,383.10 1387.47,375.32 1389.95,375.31 1392.43,366.90 1394.90,362.01 1397.38,359.90 1399.86,364.36 1402.34,372.11 1404.81,363.74 1407.29,363.60 1409.77,353.63 1412.24,359.17 1414.72,352.51 1417.20,352.30 1419.67,355.51 1422.15,365.30 1424.63,358.93 1427.10,349.00 1429.58,336.53 1432.06,331.97 1434.53,336.00 1437.01,353.90 1439.49,346.46 1441.97,357.84 1444.44,352.52 1446.92,348.54 1449.40,350.60 1451.87,350.79 1454.35,360.41 1456.83,360.40 1459.30,375.38 1461.78,378.20 1464.26,362.79 1466.73,353.90 1469.21,350.46 1471.69,355.52 1474.17,339.30 1476.64,342.09 1479.12,337.41 1481.60,340.31 1484.07,338.96 1486.55,341.34 1489.03,337.70 1491.50,342.83 1493.98,342.05 1496.46,347.40 1498.93,343.41 1501.41,342.11 1503.89,333.43 1506.36,332.80 1508.84,340.68 1511.32,347.40 1513.80,346.54 1516.27,359.95 1518.75,357.10 1521.23,361.47 1523.70,346.76 1526.18,347.40 1528.66,346.79 1531.13,338.71 1533.61,332.80 1536.09,339.15 1538.56,343.20 1541.04,351.34 1543.52,355.50 1546.00,332.80 1548.47,338.44 1550.95,328.54 1553.43,339.77 1555.90,334.36 1558.38,336.00 1560.86,334.72 1563.33,343.32 1565.81,350.21 1568.29,350.60 1570.76,319.00 1573.24,326.13 1575.72,335.24 1578.19,340.90 1580.67,344.43 1583.15,348.36 1585.63,355.50 1588.10,357.25 1590.58,344.88 1593.06,345.80 1595.53,360.51 1598.01,365.30 1600.49,360.60 1602.96,353.16 1605.44,348.00 1607.92,342.39 1610.39,337.70 1612.87,331.66 1615.35,326.90 1617.83,326.20 1620.30,325.42 1622.78,324.42 1625.26,323.90 1627.73,318.49 1630.21,317.72 1632.69,324.08 1635.16,321.14 1637.64,322.40 1640.12,318.97 1642.59,318.03 1645.07,316.30 1647.55,331.40 1650.03,319.51 1652.50,313.30 1654.98,309.34 1657.46,296.70 1659.93,298.88 1662.41,300.45 1664.89,302.80 1667.36,304.59 1669.84,311.80 1672.32,307.55 1674.79,298.20 1677.27,280.10 1679.75,279.71 1682.22,279.28 1684.70,272.60 1687.18,298.20 1689.66,303.80 1692.13,302.20 1694.61,304.00 1697.09,310.30 1699.56,319.45 1702.04,320.90 1704.52,290.70 1706.99,285.28 1709.47,283.20 1711.95,266.60 1714.42,266.96 1716.90,267.33 1719.38,268.10 1721.86,259.00 1724.33,250.00 1726.81,231.90 1729.29,219.80 1731.76,220.31 1734.24,219.44 1736.72,216.80 1739.19,201.37 1741.67,191.20 1744.15,209.22 1746.62,230.40 1749.10,204.80 1751.58,183.60 1754.05,193.42 1756.53,212.30 1759.01,161.00 1761.49,182.10 1763.96,160.42 1766.44,135.40 1768.92,147.17 1771.39,159.50 1773.87,188.20 1776.35,163.46 1778.82,147.50 1781.30,186.70 1783.78,158.00 1786.25,133.90 1788.73,129.31 1791.21,118.80 1793.69,135.40 1796.16,93.20 1798.64,142.90 1801.12,195.70 1803.59,184.59 1806.07,173.10 1808.55,147.50 1811.02,124.80 1813.50,158.00 1815.98,94.70 1818.45,138.40 1820.93,212.30 1823.41,215.30 1825.88,170.10 1828.36,117.30 1830.84,125.29 1833.32,138.40 1835.79,156.50 1838.27,151.04 1840.75,147.50 1843.22,179.10" fill="none" stroke="#f00" stroke-width="1.25" stroke-linejoin="round" />
<path d="M1061.58 485.40a3.90 3.90 0 1 0 7.80 0a3.90 3.90 0 1 0 -7.80 0M1064.05 485.00a3.90 3.90 0 1 0 7.80 0a3.90 3.90 0 1 0 -7.80 0M1066.53 469.10a3.90 3.90 0 1 0 7.80 0a3.90 3.90 0 1 0 -7.80 0M1069.01 455.30a3.90 3.90 0 1 0 7.80 0a3.90 3.90 0 1 0 -7.80 0M1071.48 455.61a3.90 3.90 0 1 0 7.80 0a3.90 3.90 0 1 0 -7.80 0M1073.96 452.80a3.90 3.90 0 1 0 7.80 0a3.90 3.90 0 1 0 -7.80 0M1076.44 452.10a3.90 3.90 0 1 0 7.80 0a3.90 3.90 0 1 0 -7.80 0M1078.92 456.00a3.90 3.90 0 1 0 7.80 0a3.90 3.90 0 1 0 -7.80 0M1081.39 442.63a3.90 3.90 0 1 0 7.80 0a3.90 3.90 0 1 0 -7.80 0M1083.87 435.80a3.90 3.90 0 1 0 7.80 0a3.90 3.90 0 1 0 -7.80 0M1086.35 436.90a3.90 3.90 0 1 0 7.80 0a3.90 3.90 0 1 0 -7.80 0M1088.82 438.14a3.90 3.90 0 1 0 7.80 0a3.90 3.90 0 1 0 -7.80 0M1091.30 437.50a3.90 3.90 0 1 0 7.80 0a3.90 3.90 0 1 0 -7.80 0M1093.78 434.48a3.90 3.90 0 1 0 7.80 0a3.90 3.90 0 1 0 -7.80 0M1096.25 432.28a3.90 3.90 0 1 0 7.80 0a3.90 3.90 0 1 0 -7.80 0M1098.73 432.60a3.90 3.90 0 1 0 7.80 0a3.90 3.90 0 1 0 -7.80 0M1101.21 429.20a3.90 3.90 0 1 0 7.80 0a3.90 3.90 0 1 0 -7.80 0M1103.68 422.90a3.90 3.90 0 1 0 7.80 0a3.90 3.90 0 1 0 -7.80 0M1106.16 411.94a3.90 3.90 0 1 0 7.80 0a3.90 3.90 0 1 0 -7.80 0M1108.64 403.40a3.90 3.90 0 1 0 7.80 0a3.90 3.90 0 1 0 -7.80 0M1111.11 405.61a3.90 3.90 0 1 0 7.80 0a3.90 3.90 0 1 0 -7.80 0M1113.59 402.83a3.90 3.90 0 1 0 7.80 0a3.90 3.90 0 1 0 -7.80 0M1116.07 398.55a3.90 3.90 0 1 0 7.80 0a3.90 3.90 0 1 0 -7.80 0M1118.55 399.82a3.90 3.90 0 1 0 7.80 0a3.90 3.90 0 1 0 -7.80 0M1121.02 403.40a3.90 3.90 0 1 0 7.80 0a3.90 3.90 0 1 0 -7.80 0M1123.50 398.90a3.90 3.90 0 1 0 7.80 0a3.90 3.90 0 1 0 -7.80 0M1125.98 393.65a3.90 3.90 0 1 0 7.80 0a3.90 3.90 0 1 0 -7.80 0M1128.45 396.90a3.90 3.90 0 1 0 7.80 0a3.90 3.90 0 1 0 -7.80 0M1130.93 394.66a3.90 3.90 0 1 0 7.80 0a3.90 3.90 0 1 0 -7.80 0M1133.41 392.06a3.90 3.90 0 1 0 7.80 0a3.90 3.90 0 1 0 -7.80 0M1135.88 393.37a3.90 3.90 0 1 0 7.80 0a3.90 3.90 0 1 0 -7.80 0M1138.36 388.80a3.90 3.90 0 1 0 7.80 0a3.90 3.90 0 1 0 -7.80 0M1140.84 413.10a3.90 3.90 0 1 0 7.80 0a3.90 3.90 0 1 0 -7.80 0M1143.31 408.30a3.90 3.90 0 1 0 7.80 0a3.90 3.90 0 1 0 -7.80 0M1145.79 408.20a3.90 3.90 0 1 0 7.80 0a3.90 3.90 0 1 0 -7.80 0M1148.27 409.74a3.90 3.90 0 1 0 7.80 0a3.90 3.90 0 1 0 -7.80 0M1150.75 414.10a3.90 3.90 0 1 0 7.80 0a3.90 3.90 0 1 0 -7.80 0M1153.22 414.70a3.90 3.90 0 1 0 7.80 0a3.90 3.90 0 1 0 -7.80 0M1155.70 411.85a3.90 3.90 0 1 0 7.80 0a3.90 3.90 0 1 0 -7.80 0M1158.18 402.18a3.90 3.90 0 1 0 7.80 0a3.90 3.90 0 1 0 -7.80 0M1160.65 400.10a3.90 3.90 0 1 0 7.80 0a3.90 3.90 0 1 0 -7.80 0M1163.13 405.35a3.90 3.90 0 1 0 7.80 0a3.90 3.90 0 1 0 -7.80 0M1165.61 400.60a3.90 3.90 0 1 0 7.80 0a3.90 3.90 0 1 0 -7.80 0M1168.08 403.40a3.90 3.90 0 1 0 7.80 0a3.90 3.90 0 1 0 -7.80 0M1170.56 413.90a3.90 3.90 0 1 0 7.80 0a3.90 3.90 0 1 0 -7.80 0M1173.04 401.00a3.90 3.90 0 1 0 7.80 0a3.90 3.90 0 1 0 -7.80 0M1175.51 403.96a3.90 3.90 0 1 0 7.80 0a3.90 3.90 0 1 0 -7.80 0M1177.99 399.59a3.90 3.90 0 1 0 7.80 0a3.90 3.90 0 1 0 -7.80 0M1180.47 400.10a3.90 3.90 0 1 0 7.80 0a3.90 3.90 0 1 0 -7.80 0M1182.94 398.26a3.90 3.90 0 1 0 7.80 0a3.90 3.90 0 1 0 -7.80 0M1185.42 395.31a3.90 3.90 0 1 0 7.80 0a3.90 3.90 0 1 0 -7.80 0M1187.90 398.00a3.90 3.90 0 1 0 7.80 0a3.90 3.90 0 1 0 -7.80 0M1190.38 396.19a3.90 3.90 0 1 0 7.80 0a3.90 3.90 0 1 0 -7.80 0M1192.85 401.57a3.90 3.90 0 1 0 7.80 0a3.90 3.90 0 1 0 -7.80 0M1195.33 393.60a3.90 3.90 0 1 0 7.80 0a3.90 3.90 0 1 0 -7.80 0M1197.81 383.90a3.90 3.90 0 1 0 7.80 0a3.90 3.90 0 1 0 -7.80 0M1200.28 396.00a3.90 3.90 0 1 0 7.80 0a3.90 3.90 0 1 0 -7.80 0M1202.76 396.32a3.90 3.90 0 1 0 7.80 0a3.90 3.90 0 1 0 -7.80 0M1205.24 400.10a3.90 3.90 0 1 0 7.80 0a3.90 3.90 0 1 0 -7.80 0M1207.71 401.05a3.90 3.90 0 1 0 7.80 0a3.90 3.90 0 1 0 -7.80 0M1210.19 397.25a3.90 3.90 0 1 0 7.80 0a3.90 3.90 0 1 0 -7.80 0M1212.67 390.40a3.90 3.90 0 1 0 7.80 0a3.90 3.90 0 1 0 -7.80 0M1215.14 390.54a3.90 3.90 0 1 0 7.80 0a3.90 3.90 0 1 0 -7.80 0M1217.62 395.84a3.90 3.90 0 1 0 7.80 0a3.90 3.90 0 1 0 -7.80 0M1220.10 394.00a3.90 3.90 0 1 0 7.80 0a3.90 3.90 0 1 0 -7.80 0M1222.58 400.92a3.90 3.90 0 1 0 7.80 0a3.90 3.90 0 1 0 -7.80 0M1225.05 399.44a3.90 3.90 0 1 0 7.80 0a3.90 3.90 0 1 0 -7.80 0M1227.53 403.40a3.90 3.90 0 1 0 7.80 0a3.90 3.90 0 1 0 -7.80 0M1230.01 397.62a3.90 3.90 0 1 0 7.80 0a3.90 3.90 0 1 0 -7.80 0M1232.48 397.79a3.90 3.90 0 1 0 7.80 0a3.90 3.90 0 1 0 -7.80 0M1234.96 390.40a3.90 3.90 0 1 0 7.80 0a3.90 3.90 0 1 0 -7.80 0M1237.44 391.11a3.90 3.90 0 1 0 7.80 0a3.90 3.90 0 1 0 -7.80 0M1239.91 395.66a3.90 3.90 0 1 0 7.80 0a3.90 3.90 0 1 0 -7.80 0M1242.39 390.79a3.90 3.90 0 1 0 7.80 0a3.90 3.90 0 1 0 -7.80 0M1244.87 386.20a3.90 3.90 0 1 0 7.80 0a3.90 3.90 0 1 0 -7.80 0M1247.34 388.94a3.90 3.90 0 1 0 7.80 0a3.90 3.90 0 1 0 -7.80 0M1249.82 388.80a3.90 3.90 0 1 0 7.80 0a3.90 3.90 0 1 0 -7.80 0M1252.30 380.68a3.90 3.90 0 1 0 7.80 0a3.90 3.90 0 1 0 -7.80 0M1254.77 379.00a3.90 3.90 0 1 0 7.80 0a3.90 3.90 0 1 0 -7.80 0M1257.25 390.01a3.90 3.90 0 1 0 7.80 0a3.90 3.90 0 1 0 -7.80 0M1259.73 396.90a3.90 3.90 0 1 0 7.80 0a3.90 3.90 0 1 0 -7.80 0M1262.21 396.66a3.90 3.90 0 1 0 7.80 0a3.90 3.90 0 1 0 -7.80 0M1264.68 391.45a3.90 3.90 0 1 0 7.80 0a3.90 3.90 0 1 0 -7.80 0M1267.16 390.40a3.90 3.90 0 1 0 7.80 0a3.90 3.90 0 1 0 -7.80 0M1269.64 388.69a3.90 3.90 0 1 0 7.80 0a3.90 3.90 0 1 0 -7.80 0M1272.11 394.25a3.90 3.90 0 1 0 7.80 0a3.90 3.90 0 1 0 -7.80 0M1274.59 391.48a3.90 3.90 0 1 0 7.80 0a3.90 3.90 0 1 0 -7.80 0M1277.07 396.55a3.90 3.90 0 1 0 7.80 0a3.90 3.90 0 1 0 -7.80 0M1279.54 391.23a3.90 3.90 0 1 0 7.80 0a3.90 3.90 0 1 0 -7.80 0M1282.02 393.86a3.90 3.90 0 1 0 7.80 0a3.90 3.90 0 1 0 -7.80 0M1284.50 395.30a3.90 3.90 0 1 0 7.80 0a3.90 3.90 0 1 0 -7.80 0M1286.97 385.67a3.90 3.90 0 1 0 7.80 0a3.90 3.90 0 1 0 -7.80 0M1289.45 379.00a3.90 3.90 0 1 0 7.80 0a3.90 3.90 0 1 0 -7.80 0M1291.93 381.45a3.90 3.90 0 1 0 7.80 0a3.90 3.90 0 1 0 -7.80 0M1294.41 396.98a3.90 3.90 0 1 0 7.80 0a3.90 3.90 0 1 0 -7.80 0M1296.88 399.42a3.90 3.90 0 1 0 7.80 0a3.90 3.90 0 1 0 -7.80 0M1299.36 400.10a3.90 3.90 0 1 0 7.80 0a3.90 3.90 0 1 0 -7.80 0M1301.84 394.35a3.90 3.90 0 1 0 7.80 0a3.90 3.90 0 1 0 -7.80 0M1304.31 394.18a3.90 3.90 0 1 0 7.80 0a3.90 3.90 0 1 0 -7.80 0M1306.79 383.04a3.90 3.90 0 1 0 7.80 0a3.90 3.90 0 1 0 -7.80 0M1309.27 383.90a3.90 3.90 0 1 0 7.80 0a3.90 3.90 0 1 0 -7.80 0M1311.74 387.33a3.90 3.90 0 1 0 7.80 0a3.90 3.90 0 1 0 -7.80 0M1314.22 386.87a3.90 3.90 0 1 0 7.80 0a3.90 3.90 0 1 0 -7.80 0M1316.70 382.98a3.90 3.90 0 1 0 7.80 0a3.90 3.90 0 1 0 -7.80 0M1319.17 382.95a3.90 3.90 0 1 0 7.80 0a3.90 3.90 0 1 0 -7.80 0M1321.65 384.58a3.90 3.90 0 1 0 7.80 0a3.90 3.90 0 1 0 -7.80 0M1324.13 383.90a3.90 3.90 0 1 0 7.80 0a3.90 3.90 0 1 0 -7.80 0M1326.61 382.61a3.90 3.90 0 1 0 7.80 0a3.90 3.90 0 1 0 -7.80 0M1329.08 377.81a3.90 3.90 0 1 0 7.80 0a3.90 3.90 0 1 0 -7.80 0M1331.56 373.92a3.90 3.90 0 1 0 7.80 0a3.90 3.90 0 1 0 -7.80 0M1334.04 372.98a3.90 3.90 0 1 0 7.80 0a3.90 3.90 0 1 0 -7.80 0M1336.51 369.12a3.90 3.90 0 1 0 7.80 0a3.90 3.90 0 1 0 -7.80 0M1338.99 372.29a3.90 3.90 0 1 0 7.80 0a3.90 3.90 0 1 0 -7.80 0M1341.47 366.00a3.90 3.90 0 1 0 7.80 0a3.90 3.90 0 1 0 -7.80 0M1343.94 371.75a3.90 3.90 0 1 0 7.80 0a3.90 3.90 0 1 0 -7.80 0M1346.42 376.60a3.90 3.90 0 1 0 7.80 0a3.90 3.90 0 1 0 -7.80 0M1348.90 376.95a3.90 3.90 0 1 0 7.80 0a3.90 3.90 0 1 0 -7.80 0M1351.37 367.18a3.90 3.90 0 1 0 7.80 0a3.90 3.90 0 1 0 -7.80 0M1353.85 372.43a3.90 3.90 0 1 0 7.80 0a3.90 3.90 0 1 0 -7.80 0M1356.33 371.58a3.90 3.90 0 1 0 7.80 0a3.90 3.90 0 1 0 -7.80 0M1358.80 370.19a3.90 3.90 0 1 0 7.80 0a3.90 3.90 0 1 0 -7.80 0M1361.28 371.80a3.90 3.90 0 1 0 7.80 0a3.90 3.90 0 1 0 -7.80 0M1363.76 369.66a3.90 3.90 0 1 0 7.80 0a3.90 3.90 0 1 0 -7.80 0M1366.24 367.15a3.90 3.90 0 1 0 7.80 0a3.90 3.90 0 1 0 -7.80 0M1368.71 359.75a3.90 3.90 0 1 0 7.80 0a3.90 3.90 0 1 0 -7.80 0M1371.19 369.76a3.90 3.90 0 1 0 7.80 0a3.90 3.90 0 1 0 -7.80 0M1373.67 368.03a3.90 3.90 0 1 0 7.80 0a3.90 3.90 0 1 0 -7.80 0M1376.14 362.00a3.90 3.90 0 1 0 7.80 0a3.90 3.90 0 1 0 -7.80 0M1378.62 370.00a3.90 3.90 0 1 0 7.80 0a3.90 3.90 0 1 0 -7.80 0M1381.10 383.10a3.90 3.90 0 1 0 7.80 0a3.90 3.90 0 1 0 -7.80 0M1383.57 375.32a3.90 3.90 0 1 0 7.80 0a3.90 3.90 0 1 0 -7.80 0M1386.05 375.31a3.90 3.90 0 1 0 7.80 0a3.90 3.90 0 1 0 -7.80 0M1388.53 366.90a3.90 3.90 0 1 0 7.80 0a3.90 3.90 0 1 0 -7.80 0M1391.00 362.01a3.90 3.90 0 1 0 7.80 0a3.90 3.90 0 1 0 -7.80 0M1393.48 359.90a3.90 3.90 0 1 0 7.80 0a3.90 3.90 0 1 0 -7.80 0M1395.96 364.36a3.90 3.90 0 1 0 7.80 0a3.90 3.90 0 1 0 -7.80 0M1398.44 372.11a3.90 3.90 0 1 0 7.80 0a3.90 3.90 0 1 0 -7.80 0M1400.91 363.74a3.90 3.90 0 1 0 7.80 0a3.90 3.90 0 1 0 -7.80 0M1403.39 363.60a3.90 3.90 0 1 0 7.80 0a3.90 3.90 0 1 0 -7.80 0M1405.87 353.63a3.90 3.90 0 1 0 7.80 0a3.90 3.90 0 1 0 -7.80 0M1408.34 359.17a3.90 3.90 0 1 0 7.80 0a3.90 3.90 0 1 0 -7.80 0M1410.82 352.51a3.90 3.90 0 1 0 7.80 0a3.90 3.90 0 1 0 -7.80 0M1413.30 352.30a3.90 3.90 0 1 0 7.80 0a3.90 3.90 0 1 0 -7.80 0M1415.77 355.51a3.90 3.90 0 1 0 7.80 0a3.90 3.90 0 1 0 -7.80 0M1418.25 365.30a3.90 3.90 0 1 0 7.80 0a3.90 3.90 0 1 0 -7.80 0M1420.73 358.93a3.90 3.90 0 1 0 7.80 0a3.90 3.90 0 1 0 -7.80 0M1423.20 349.00a3.90 3.90 0 1 0 7.80 0a3.90 3.90 0 1 0 -7.80 0M1425.68 336.53a3.90 3.90 0 1 0 7.80 0a3.90 3.90 0 1 0 -7.80 0M1428.16 331.97a3.90 3.90 0 1 0 7.80 0a3.90 3.90 0 1 0 -7.80 0M1430.63 336.00a3.90 3.90 0 1 0 7.80 0a3.90 3.90 0 1 0 -7.80 0M1433.11 353.90a3.90 3.90 0 1 0 7.80 0a3.90 3.90 0 1 0 -7.80 0M1435.59 346.46a3.90 3.90 0 1 0 7.80 0a3.90 3.90 0 1 0 -7.80 0M1438.07 357.84a3.90 3.90 0 1 0 7.80 0a3.90 3.90 0 1 0 -7.80 0M1440.54 352.52a3.90 3.90 0 1 0 7.80 0a3.90 3.90 0 1 0 -7.80 0M1443.02 348.54a3.90 3.90 0 1 0 7.80 0a3.90 3.90 0 1 0 -7.80 0M1445.50 350.60a3.90 3.90 0 1 0 7.80 0a3.90 3.90 0 1 0 -7.80 0M1447.97 350.79a3.90 3.90 0 1 0 7.80 0a3.90 3.90 0 1 0 -7.80 0M1450.45 360.41a3.90 3.90 0 1 0 7.80 0a3.90 3.90 0 1 0 -7.80 0M1452.93 360.40a3.90 3.90 0 1 0 7.80 0a3.90 3.90 0 1 0 -7.80 0M1455.40 375.38a3.90 3.90 0 1 0 7.80 0a3.90 3.90 0 1 0 -7.80 0M1457.88 378.20a3.90 3.90 0 1 0 7.80 0a3.90 3.90 0 1 0 -7.80 0M1460.36 362.79a3.90 3.90 0 1 0 7.80 0a3.90 3.90 0 1 0 -7.80 0M1462.83 353.90a3.90 3.90 0 1 0 7.80 0a3.90 3.90 0 1 0 -7.80 0M1465.31 350.46a3.90 3.90 0 1 0 7.80 0a3.90 3.90 0 1 0 -7.80 0M1467.79 355.52a3.90 3.90 0 1 0 7.80 0a3.90 3.90 0 1 0 -7.80 0M1470.27 339.30a3.90 3.90 0 1 0 7.80 0a3.90 3.90 0 1 0 -7.80 0M1472.74 342.09a3.90 3.90 0 1 0 7.80 0a3.90 3.90 0 1 0 -7.80 0M1475.22 337.41a3.90 3.90 0 1 0 7.80 0a3.90 3.90 0 1 0 -7.80 0M1477.70 340.31a3.90 3.90 0 1 0 7.80 0a3.90 3.90 0 1 0 -7.80 0M1480.17 338.96a3.90 3.90 0 1 0 7.80 0a3.90 3.90 0 1 0 -7.80 0M1482.65 341.34a3.90 3.90 0 1 0 7.80 0a3.90 3.90 0 1 0 -7.80 0M1485.13 337.70a3.90 3.90 0 1 0 7.80 0a3.90 3.90 0 1 0 -7.80 0M1487.60 342.83a3.90 3.90 0 1 0 7.80 0a3.90 3.90 0 1 0 -7.80 0M1490.08 342.05a3.90 3.90 0 1 0 7.80 0a3.90 3.90 0 1 0 -7.80 0M1492.56 347.40a3.90 3.90 0 1 0 7.80 0a3.90 3.90 0 1 0 -7.80 0M1495.03 343.41a3.90 3.90 0 1 0 7.80 0a3.90 3.90 0 1 0 -7.80 0M1497.51 342.11a3.90 3.90 0 1 0 7.80 0a3.90 3.90 0 1 0 -7.80 0M1499.99 333.43a3.90 3.90 0 1 0 7.80 0a3.90 3.90 0 1 0 -7.80 0M1502.46 332.80a3.90 3.90 0 1 0 7.80 0a3.90 3.90 0 1 0 -7.80 0M1504.94 340.68a3.90 3.90 0 1 0 7.80 0a3.90 3.90 0 1 0 -7.80 0M1507.42 347.40a3.90 3.90 0 1 0 7.80 0a3.90 3.90 0 1 0 -7.80 0M1509.90 346.54a3.90 3.90 0 1 0 7.80 0a3.90 3.90 0 1 0 -7.80 0M1512.37 359.95a3.90 3.90 0 1 0 7.80 0a3.90 3.90 0 1 0 -7.80 0M1514.85 357.10a3.90 3.90 0 1 0 7.80 0a3.90 3.90 0 1 0 -7.80 0M1517.33 361.47a3.90 3.90 0 1 0 7.80 0a3.90 3.90 0 1 0 -7.80 0M1519.80 346.76a3.90 3.90 0 1 0 7.80 0a3.90 3.90 0 1 0 -7.80 0M1522.28 347.40a3.90 3.90 0 1 0 7.80 0a3.90 3.90 0 1 0 -7.80 0M1524.76 346.79a3.90 3.90 0 1 0 7.80 0a3.90 3.90 0 1 0 -7.80 0M1527.23 338.71a3.90 3.90 0 1 0 7.80 0a3.90 3.90 0 1 0 -7.80 0M1529.71 332.80a3.90 3.90 0 1 0 7.80 0a3.90 3.90 0 1 0 -7.80 0M1532.19 339.15a3.90 3.90 0 1 0 7.80 0a3.90 3.90 0 1 0 -7.80 0M1534.66 343.20a3.90 3.90 0 1 0 7.80 0a3.90 3.90 0 1 0 -7.80 0M1537.14 351.34a3.90 3.90 0 1 0 7.80 0a3.90 3.90 0 1 0 -7.80 0M1539.62 355.50a3.90 3.90 0 1 0 7.80 0a3.90 3.90 0 1 0 -7.80 0M1542.10 332.80a3.90 3.90 0 1 0 7.80 0a3.90 3.90 0 1 0 -7.80 0M1544.57 338.44a3.90 3.90 0 1 0 7.80 0a3.90 3.90 0 1 0 -7.80 0M1547.05 328.54a3.90 3.90 0 1 0 7.80 0a3.90 3.90 0 1 0 -7.80 0M1549.53 339.77a3.90 3.90 0 1 0 7.80 0a3.90 3.90 0 1 0 -7.80 0M1552.00 334.36a3.90 3.90 0 1 0 7.80 0a3.90 3.90 0 1 0 -7.80 0M1554.48 336.00a3.90 3.90 0 1 0 7.80 0a3.90 3.90 0 1 0 -7.80 0M1556.96 334.72a3.90 3.90 0 1 0 7.80 0a3.90 3.90 0 1 0 -7.80 0M1559.43 343.32a3.90 3.90 0 1 0 7.80 0a3.90 3.90 0 1 0 -7.80 0M1561.91 350.21a3.90 3.90 0 1 0 7.80 0a3.90 3.90 0 1 0 -7.80 0M1564.39 350.60a3.90 3.90 0 1 0 7.80 0a3.90 3.90 0 1 0 -7.80 0M1566.86 319.00a3.90 3.90 0 1 0 7.80 0a3.90 3.90 0 1 0 -7.80 0M1569.34 326.13a3.90 3.90 0 1 0 7.80 0a3.90 3.90 0 1 0 -7.80 0M1571.82 335.24a3.90 3.90 0 1 0 7.80 0a3.90 3.90 0 1 0 -7.80 0M1574.29 340.90a3.90 3.90 0 1 0 7.80 0a3.90 3.90 0 1 0 -7.80 0M1576.77 344.43a3.90 3.90 0 1 0 7.80 0a3.90 3.90 0 1 0 -7.80 0M1579.25 348.36a3.90 3.90 0 1 0 7.80 0a3.90 3.90 0 1 0 -7.80 0M1581.73 355.50a3.90 3.90 0 1 0 7.80 0a3.90 3.90 0 1 0 -7.80 0M1584.20 357.25a3.90 3.90 0 1 0 7.80 0a3.90 3.90 0 1 0 -7.80 0M1586.68 344.88a3.90 3.90 0 1 0 7.80 0a3.90 3.90 0 1 0 -7.80 0M1589.16 345.80a3.90 3.90 0 1 0 7.80 0a3.90 3.90 0 1 0 -7.80 0M1591.63 360.51a3.90 3.90 0 1 0 7.80 0a3.90 3.90 0 1 0 -7.80 0M1594.11 365.30a3.90 3.90 0 1 0 7.80 0a3.90 3.90 0 1 0 -7.80 0M1596.59 360.60a3.90 3.90 0 1 0 7.80 0a3.90 3.90 0 1 0 -7.80 0M1599.06 353.16a3.90 3.90 0 1 0 7.80 0a3.90 3.90 0 1 0 -7.80 0M1601.54 348.00a3.90 3.90 0 1 0 7.80 0a3.90 3.90 0 1 0 -7.80 0M1604.02 342.39a3.90 3.90 0 1 0 7.80 0a3.90 3.90 0 1 0 -7.80 0M1606.49 337.70a3.90 3.90 0 1 0 7.80 0a3.90 3.90 0 1 0 -7.80 0M1608.97 331.66a3.90 3.90 0 1 0 7.80 0a3.90 3.90 0 1 0 -7.80 0M1611.45 326.90a3.90 3.90 0 1 0 7.80 0a3.90 3.90 0 1 0 -7.80 0M1613.93 326.20a3.90 3.90 0 1 0 7.80 0a3.90 3.90 0 1 0 -7.80 0M1616.40 325.42a3.90 3.90 0 1 0 7.80 0a3.90 3.90 0 1 0 -7.80 0M1618.88 324.42a3.90 3.90 0 1 0 7.80 0a3.90 3.90 0 1 0 -7.80 0M1621.36 323.90a3.90 3.90 0 1 0 7.80 0a3.90 3.90 0 1 0 -7.80 0M1623.83 318.49a3.90 3.90 0 1 0 7.80 0a3.90 3.90 0 1 0 -7.80 0M1626.31 317.72a3.90 3.90 0 1 0 7.80 0a3.90 3.90 0 1 0 -7.80 0M1628.79 324.08a3.90 3.90 0 1 0 7.80 0a3.90 3.90 0 1 0 -7.80 0M1631.26 321.14a3.90 3.90 0 1 0 7.80 0a3.90 3.90 0 1 0 -7.80 0M1633.74 322.40a3.90 3.90 0 1 0 7.80 0a3.90 3.90 0 1 0 -7.80 0M1636.22 318.97a3.90 3.90 0 1 0 7.80 0a3.90 3.90 0 1 0 -7.80 0M1638.69 318.03a3.90 3.90 0 1 0 7.80 0a3.90 3.90 0 1 0 -7.80 0M1641.17 316.30a3.90 3.90 0 1 0 7.80 0a3.90 3.90 0 1 0 -7.80 0M1643.65 331.40a3.90 3.90 0 1 0 7.80 0a3.90 3.90 0 1 0 -7.80 0M1646.12 319.51a3.90 3.90 0 1 0 7.80 0a3.90 3.90 0 1 0 -7.80 0M1648.60 313.30a3.90 3.90 0 1 0 7.80 0a3.90 3.90 0 1 0 -7.80 0M1651.08 309.34a3.90 3.90 0 1 0 7.80 0a3.90 3.90 0 1 0 -7.80 0M1653.56 296.70a3.90 3.90 0 1 0 7.80 0a3.90 3.90 0 1 0 -7.80 0M1656.03 298.88a3.90 3.90 0 1 0 7.80 0a3.90 3.90 0 1 0 -7.80 0M1658.51 300.45a3.90 3.90 0 1 0 7.80 0a3.90 3.90 0 1 0 -7.80 0M1660.99 302.80a3.90 3.90 0 1 0 7.80 0a3.90 3.90 0 1 0 -7.80 0M1663.46 304.59a3.90 3.90 0 1 0 7.80 0a3.90 3.90 0 1 0 -7.80 0M1665.94 311.80a3.90 3.90 0 1 0 7.80 0a3.90 3.90 0 1 0 -7.80 0M1668.42 307.55a3.90 3.90 0 1 0 7.80 0a3.90 3.90 0 1 0 -7.80 0M1670.89 298.20a3.90 3.90 0 1 0 7.80 0a3.90 3.90 0 1 0 -7.80 0M1673.37 280.10a3.90 3.90 0 1 0 7.80 0a3.90 3.90 0 1 0 -7.80 0M1675.85 279.71a3.90 3.90 0 1 0 7.80 0a3.90 3.90 0 1 0 -7.80 0M1678.32 279.28a3.90 3.90 0 1 0 7.80 0a3.90 3.90 0 1 0 -7.80 0M1680.80 272.60a3.90 3.90 0 1 0 7.80 0a3.90 3.90 0 1 0 -7.80 0M1683.28 298.20a3.90 3.90 0 1 0 7.80 0a3.90 3.90 0 1 0 -7.80 0M1685.76 303.80a3.90 3.90 0 1 0 7.80 0a3.90 3.90 0 1 0 -7.80 0M1688.23 302.20a3.90 3.90 0 1 0 7.80 0a3.90 3.90 0 1 0 -7.80 0M1690.71 304.00a3.90 3.90 0 1 0 7.80 0a3.90 3.90 0 1 0 -7.80 0M1693.19 310.30a3.90 3.90 0 1 0 7.80 0a3.90 3.90 0 1 0 -7.80 0M1695.66 319.45a3.90 3.90 0 1 0 7.80 0a3.90 3.90 0 1 0 -7.80 0M1698.14 320.90a3.90 3.90 0 1 0 7.80 0a3.90 3.90 0 1 0 -7.80 0M1700.62 290.70a3.90 3.90 0 1 0 7.80 0a3.90 3.90 0 1 0 -7.80 0M1703.09 285.28a3.90 3.90 0 1 0 7.80 0a3.90 3.90 0 1 0 -7.80 0M1705.57 283.20a3.90 3.90 0 1 0 7.80 0a3.90 3.90 0 1 0 -7.80 0M1708.05 266.60a3.90 3.90 0 1 0 7.80 0a3.90 3.90 0 1 0 -7.80 0M1710.52 266.96a3.90 3.90 0 1 0 7.80 0a3.90 3.90 0 1 0 -7.80 0M1713.00 267.33a3.90 3.90 0 1 0 7.80 0a3.90 3.90 0 1 0 -7.80 0M1715.48 268.10a3.90 3.90 0 1 0 7.80 0a3.90 3.90 0 1 0 -7.80 0M1717.96 259.00a3.90 3.90 0 1 0 7.80 0a3.90 3.90 0 1 0 -7.80 0M1720.43 250.00a3.90 3.90 0 1 0 7.80 0a3.90 3.90 0 1 0 -7.80 0M1722.91 231.90a3.90 3.90 0 1 0 7.80 0a3.90 3.90 0 1 0 -7.80 0M1725.39 219.80a3.90 3.90 0 1 0 7.80 0a3.90 3.90 0 1 0 -7.80 0M1727.86 220.31a3.90 3.90 0 1 0 7.80 0a3.90 3.90 0 1 0 -7.80 0M1730.34 219.44a3.90 3.90 0 1 0 7.80 0a3.90 3.90 0 1 0 -7.80 0M1732.82 216.80a3.90 3.90 0 1 0 7.80 0a3.90 3.90 0 1 0 -7.80 0M1735.29 201.37a3.90 3.90 0 1 0 7.80 0a3.90 3.90 0 1 0 -7.80 0M1737.77 191.20a3.90 3.90 0 1 0 7.80 0a3.90 3.90 0 1 0 -7.80 0M1740.25 209.22a3.90 3.90 0 1 0 7.80 0a3.90 3.90 0 1 0 -7.80 0M1742.72 230.40a3.90 3.90 0 1 0 7.80 0a3.90 3.90 0 1 0 -7.80 0M1745.20 204.80a3.90 3.90 0 1 0 7.80 0a3.90 3.90 0 1 0 -7.80 0M1747.68 183.60a3.90 3.90 0 1 0 7.80 0a3.90 3.90 0 1 0 -7.80 0M1750.15 193.42a3.90 3.90 0 1 0 7.80 0a3.90 3.90 0 1 0 -7.80 0M1752.63 212.30a3.90 3.90 0 1 0 7.80 0a3.90 3.90 0 1 0 -7.80 0M1755.11 161.00a3.90 3.90 0 1 0 7.80 0a3.90 3.90 0 1 0 -7.80 0M1757.59 182.10a3.90 3.90 0 1 0 7.80 0a3.90 3.90 0 1 0 -7.80 0M1760.06 160.42a3.90 3.90 0 1 0 7.80 0a3.90 3.90 0 1 0 -7.80 0M1762.54 135.40a3.90 3.90 0 1 0 7.80 0a3.90 3.90 0 1 0 -7.80 0M1765.02 147.17a3.90 3.90 0 1 0 7.80 0a3.90 3.90 0 1 0 -7.80 0M1767.49 159.50a3.90 3.90 0 1 0 7.80 0a3.90 3.90 0 1 0 -7.80 0M1769.97 188.20a3.90 3.90 0 1 0 7.80 0a3.90 3.90 0 1 0 -7.80 0M1772.45 163.46a3.90 3.90 0 1 0 7.80 0a3.90 3.90 0 1 0 -7.80 0M1774.92 147.50a3.90 3.90 0 1 0 7.80 0a3.90 3.90 0 1 0 -7.80 0M1777.40 186.70a3.90 3.90 0 1 0 7.80 0a3.90 3.90 0 1 0 -7.80 0M1779.88 158.00a3.90 3.90 0 1 0 7.80 0a3.90 3.90 0 1 0 -7.80 0M1782.35 133.90a3.90 3.90 0 1 0 7.80 0a3.90 3.90 0 1 0 -7.80 0M1784.83 129.31a3.90 3.90 0 1 0 7.80 0a3.90 3.90 0 1 0 -7.80 0M1787.31 118.80a3.90 3.90 0 1 0 7.80 0a3.90 3.90 0 1 0 -7.80 0M1789.79 135.40a3.90 3.90 0 1 0 7.80 0a3.90 3.90 0 1 0 -7.80 0M1792.26 93.20a3.90 3.90 0 1 0 7.80 0a3.90 3.90 0 1 0 -7.80 0M1794.74 142.90a3.90 3.90 0 1 0 7.80 0a3.90 3.90 0 1 0 -7.80 0M1797.22 195.70a3.90 3.90 0 1 0 7.80 0a3.90 3.90 0 1 0 -7.80 0M1799.69 184.59a3.90 3.90 0 1 0 7.80 0a3.90 3.90 0 1 0 -7.80 0M1802.17 173.10a3.90 3.90 0 1 0 7.80 0a3.90 3.90 0 1 0 -7.80 0M1804.65 147.50a3.90 3.90 0 1 0 7.80 0a3.90 3.90 0 1 0 -7.80 0M1807.12 124.80a3.90 3.90 0 1 0 7.80 0a3.90 3.90 0 1 0 -7.80 0M1809.60 158.00a3.90 3.90 0 1 0 7.80 0a3.90 3.90 0 1 0 -7.80 0M1812.08 94.70a3.90 3.90 0 1 0 7.80 0a3.90 3.90 0 1 0 -7.80 0M1814.55 138.40a3.90 3.90 0 1 0 7.80 0a3.90 3.90 0 1 0 -7.80 0M1817.03 212.30a3.90 3.90 0 1 0 7.80 0a3.90 3.90 0 1 0 -7.80 0M1819.51 215.30a3.90 3.90 0 1 0 7.80 0a3.90 3.90 0 1 0 -7.80 0M1821.98 170.10a3.90 3.90 0 1 0 7.80 0a3.90 3.90 0 1 0 -7.80 0M1824.46 117.30a3.90 3.90 0 1 0 7.80 0a3.90 3.90 0 1 0 -7.80 0M1826.94 125.29a3.90 3.90 0 1 0 7.80 0a3.90 3.90 0 1 0 -7.80 0M1829.42 138.40a3.90 3.90 0 1 0 7.80 0a3.90 3.90 0 1 0 -7.80 0M1831.89 156.50a3.90 3.90 0 1 0 7.80 0a3.90 3.90 0 1 0 -7.80 0M1834.37 151.04a3.90 3.90 0 1 0 7.80 0a3.90 3.90 0 1 0 -7.80 0M1836.85 147.50a3.90 3.90 0 1 0 7.80 0a3.90 3.90 0 1 0 -7.80 0M1839.32 179.10a3.90 3.90 0 1 0 7.80 0a3.90 3.90 0 1 0 -7.80 0" fill="none" stroke="#f00" stroke-width="1.15"/>
<path d="M1064.49 571.40h1.98v-32.40h-1.98zM1066.96 571.40h1.98v-25.31h-1.98zM1069.44 571.40h1.98v-33.81h-1.98zM1071.92 571.40h1.98v-41.30h-1.98zM1074.39 571.40h1.98v-35.38h-1.98zM1076.87 571.40h1.98v-32.34h-1.98zM1079.35 571.40h1.98v-27.51h-1.98zM1081.82 571.40h1.98v-18.51h-1.98zM1084.30 571.40h1.98v-27.37h-1.98zM1086.78 571.40h1.98v-29.99h-1.98zM1089.26 571.40h1.98v-24.98h-1.98zM1091.73 571.40h1.98v-20.12h-1.98zM1094.21 571.40h1.98v-17.35h-1.98zM1096.69 571.40h1.98v-17.26h-1.98zM1099.16 571.40h1.98v-16.67h-1.98zM1101.64 571.40h1.98v-13.90h-1.98zM1104.12 571.40h1.98v-15.17h-1.98zM1106.59 571.40h1.98v-19.51h-1.98zM1109.07 571.40h1.98v-28.68h-1.98zM1111.55 571.40h1.98v-35.61h-1.98zM1114.02 571.40h1.98v-31.96h-1.98zM1116.50 571.40h1.98v-33.53h-1.98zM1118.98 571.40h1.98v-36.68h-1.98zM1121.45 571.40h1.98v-34.34h-1.98zM1123.93 571.40h1.98v-29.74h-1.98zM1126.41 571.40h1.98v-33.28h-1.98zM1128.89 571.40h1.98v-37.62h-1.98zM1131.36 571.40h1.98v-33.53h-1.98zM1133.84 571.40h1.98v-35.03h-1.98zM1136.32 571.40h1.98v-36.99h-1.98zM1138.79 571.40h1.98v-35.07h-1.98zM1141.27 571.40h1.98v-39.09h-1.98zM1143.75 571.40h1.98v-14.27h-1.98zM1146.22 571.40h1.98v-18.60h-1.98zM1148.70 571.40h1.98v-18.27h-1.98zM1151.18 571.40h1.98v-16.34h-1.98zM1153.65 571.40h1.98v-11.61h-1.98zM1156.13 571.40h1.98v-10.64h-1.98zM1158.61 571.40h1.98v-13.12h-1.98zM1161.09 571.40h1.98v-22.42h-1.98zM1163.56 571.40h1.98v-24.14h-1.98zM1166.04 571.40h1.98v-18.52h-1.98zM1168.52 571.40h1.98v-22.91h-1.98zM1170.99 571.40h1.98v-19.73h-1.98zM1173.47 571.40h1.98v-8.86h-1.98zM1175.95 571.40h1.98v-21.39h-1.98zM1178.42 571.40h1.98v-18.06h-1.98zM1180.90 571.40h1.98v-22.06h-1.98zM1183.38 571.40h1.98v-21.18h-1.98zM1185.85 571.40h1.98v-22.64h-1.98zM1188.33 571.40h1.98v-25.22h-1.98zM1190.81 571.40h1.98v-22.16h-1.98zM1193.28 571.40h1.98v-23.59h-1.98zM1195.76 571.40h1.98v-17.83h-1.98zM1198.24 571.40h1.98v-25.40h-1.98zM1200.72 571.40h1.98v-34.66h-1.98zM1203.19 571.40h1.98v-22.10h-1.98zM1205.67 571.40h1.98v-21.30h-1.98zM1208.15 571.40h1.98v-17.00h-1.98zM1210.62 571.40h1.98v-15.50h-1.98zM1213.10 571.40h1.98v-18.73h-1.98zM1215.58 571.40h1.98v-24.98h-1.98zM1218.05 571.40h1.98v-24.22h-1.98zM1220.53 571.40h1.98v-18.30h-1.98zM1223.01 571.40h1.98v-19.47h-1.98zM1225.48 571.40h1.98v-11.82h-1.98zM1227.96 571.40h1.98v-12.48h-1.98zM1230.44 571.40h1.98v-7.65h-1.98zM1232.92 571.40h1.98v-12.48h-1.98zM1235.39 571.40h1.98v-11.30h-1.98zM1237.87 571.40h1.98v-17.60h-1.98zM1240.35 571.40h1.98v-15.74h-1.98zM1242.82 571.40h1.98v-9.95h-1.98zM1245.30 571.40h1.98v-13.61h-1.98zM1247.78 571.40h1.98v-17.02h-1.98zM1250.25 571.40h1.98v-13.14h-1.98zM1252.73 571.40h1.98v-12.19h-1.98zM1255.21 571.40h1.98v-19.26h-1.98zM1257.68 571.40h1.98v-19.94h-1.98zM1260.16 571.40h1.98v-7.96h-1.98zM1262.64 571.40h1.98v-0.15h-1.98zM1265.11 571.40h1.98v-0.49h-1.98zM1267.59 571.40h1.98v-3.86h-1.98zM1270.07 571.40h1.98v-4.05h-1.98zM1272.55 571.40h1.98v-4.90h-1.98zM1275.02 571.40h1.98v-1.52h-1.98zM1277.50 571.40h1.98v-0.38h-1.98zM1279.98 571.40h1.98v-5.60h-1.98zM1282.45 571.40h1.98v-1.21h-1.98zM1284.93 571.40h1.98v-4.80h-1.98zM1287.41 571.40h1.98v-7.23h-1.98zM1289.88 571.40h1.98v-1.39h-1.98zM1292.36 571.40h1.98v-7.01h-1.98zM1294.84 571.40h1.98v-3.49h-1.98zM1297.31 571.40h1.98v-13.14h-1.98zM1299.79 571.40h1.98v-16.70h-1.98zM1302.27 571.40h1.98v-18.49h-1.98zM1304.75 571.40h1.98v-13.85h-1.98zM1307.22 571.40h1.98v-14.80h-1.98zM1309.70 571.40h1.98v-4.76h-1.98zM1312.18 571.40h1.98v-6.66h-1.98zM1314.65 571.40h1.98v-11.07h-1.98zM1317.13 571.40h1.98v-11.53h-1.98zM1319.61 571.40h1.98v-8.50h-1.98zM1322.08 571.40h1.98v-9.28h-1.98zM1324.56 571.40h1.98v-11.66h-1.98zM1327.04 571.40h1.98v-11.67h-1.98zM1329.51 571.40h1.98v-11.01h-1.98zM1331.99 571.40h1.98v-6.81h-1.98zM1334.47 571.40h1.98v-3.52h-1.98zM1336.95 571.40h1.98v-3.17h-1.98zM1339.42 571.40h1.98v-0.10h-1.98zM1341.90 571.40h1.98v-3.64h-1.98zM1344.38 571.40h1.98v-2.10h-1.98zM1346.85 571.40h1.98v-4.16h-1.98zM1349.33 571.40h1.98v-9.51h-1.98zM1351.81 571.40h1.98v-10.33h-1.98zM1354.28 571.40h1.98v-1.00h-1.98zM1356.76 571.40h1.98v-6.67h-1.98zM1359.24 571.40h1.98v-6.22h-1.98zM1361.71 571.40h1.98v-5.21h-1.98zM1364.19 571.40h1.98v-7.19h-1.98zM1366.67 571.40h1.98v-5.42h-1.98zM1369.14 571.40h1.98v-3.29h-1.98zM1371.62 571.40h1.98v-3.74h-1.98zM1374.10 571.40h1.98v-6.63h-1.98zM1376.58 571.40h1.98v-5.24h-1.98zM1379.05 571.40h1.98v-0.46h-1.98zM1381.53 571.40h1.98v-7.86h-1.98zM1384.01 571.40h1.98v-21.26h-1.98zM1386.48 571.40h1.98v-13.77h-1.98zM1388.96 571.40h1.98v-14.04h-1.98zM1391.44 571.40h1.98v-5.88h-1.98zM1393.91 571.40h1.98v-1.23h-1.98zM1396.39 571.40h1.98v-0.63h-1.98zM1398.87 571.40h1.98v-4.07h-1.98zM1401.34 571.40h1.98v-12.07h-1.98zM1403.82 571.40h1.98v-3.95h-1.98zM1406.30 571.40h1.98v-4.02h-1.98zM1408.78 571.40h1.98v-5.76h-1.98zM1411.25 571.40h1.98v-0.05h-1.98zM1413.73 571.40h1.98v-6.57h-1.98zM1416.21 571.40h1.98v-6.67h-1.98zM1418.68 571.40h1.98v-3.38h-1.98zM1421.16 571.40h1.98v-6.47h-1.98zM1423.64 571.40h1.98v-0.12h-1.98zM1426.11 571.40h1.98v-9.80h-1.98zM1428.59 571.40h1.98v-22.27h-1.98zM1431.07 571.40h1.98v-26.83h-1.98zM1433.54 571.40h1.98v-22.80h-1.98zM1436.02 571.40h1.98v-4.90h-1.98zM1438.50 571.40h1.98v-12.34h-1.98zM1440.97 571.40h1.98v-0.96h-1.98zM1443.45 571.40h1.98v-6.29h-1.98zM1445.93 571.40h1.98v-10.29h-1.98zM1448.41 571.40h1.98v-8.24h-1.98zM1450.88 571.40h1.98v-8.06h-1.98zM1453.36 571.40h1.98v-1.54h-1.98zM1455.84 571.40h1.98v-1.51h-1.98zM1458.31 571.40h1.98v-16.47h-1.98zM1460.79 571.40h1.98v-19.27h-1.98zM1463.27 571.40h1.98v-3.83h-1.98zM1465.74 571.40h1.98v-5.08h-1.98zM1468.22 571.40h1.98v-8.54h-1.98zM1470.70 571.40h1.98v-3.50h-1.98zM1473.17 571.40h1.98v-19.74h-1.98zM1475.65 571.40h1.98v-16.97h-1.98zM1478.13 571.40h1.98v-21.66h-1.98zM1480.61 571.40h1.98v-18.78h-1.98zM1483.08 571.40h1.98v-20.13h-1.98zM1485.56 571.40h1.98v-17.75h-1.98zM1488.04 571.40h1.98v-21.40h-1.98zM1490.51 571.40h1.98v-16.27h-1.98zM1492.99 571.40h1.98v-17.05h-1.98zM1495.47 571.40h1.98v-11.70h-1.98zM1497.94 571.40h1.98v-15.69h-1.98zM1500.42 571.40h1.98v-16.99h-1.98zM1502.90 571.40h1.98v-25.67h-1.98zM1505.37 571.40h1.98v-26.30h-1.98zM1507.85 571.40h1.98v-18.42h-1.98zM1510.33 571.40h1.98v-11.70h-1.98zM1512.80 571.40h1.98v-12.56h-1.98zM1515.28 571.40h1.98v-0.85h-1.98zM1517.76 571.40h1.98v-2.00h-1.98zM1520.24 571.40h1.98v-2.37h-1.98zM1522.71 571.40h1.98v-12.34h-1.98zM1525.19 571.40h1.98v-11.70h-1.98zM1527.67 571.40h1.98v-12.31h-1.98zM1530.14 571.40h1.98v-20.39h-1.98zM1532.62 571.40h1.98v-26.30h-1.98zM1535.10 571.40h1.98v-19.94h-1.98zM1537.57 571.40h1.98v-15.85h-1.98zM1540.05 571.40h1.98v-7.66h-1.98zM1542.53 571.40h1.98v-3.42h-1.98zM1545.00 571.40h1.98v-26.02h-1.98zM1547.48 571.40h1.98v-20.26h-1.98zM1549.96 571.40h1.98v-30.01h-1.98zM1552.44 571.40h1.98v-18.61h-1.98zM1554.91 571.40h1.98v-23.83h-1.98zM1557.39 571.40h1.98v-21.99h-1.98zM1559.87 571.40h1.98v-23.00h-1.98zM1562.34 571.40h1.98v-14.05h-1.98zM1564.82 571.40h1.98v-6.71h-1.98zM1567.30 571.40h1.98v-5.77h-1.98zM1569.77 571.40h1.98v-36.73h-1.98zM1572.25 571.40h1.98v-28.92h-1.98zM1574.73 571.40h1.98v-19.07h-1.98zM1577.20 571.40h1.98v-12.64h-1.98zM1579.68 571.40h1.98v-8.28h-1.98zM1582.16 571.40h1.98v-3.54h-1.98zM1584.63 571.40h1.98v-4.45h-1.98zM1587.11 571.40h1.98v-7.10h-1.98zM1589.59 571.40h1.98v-4.32h-1.98zM1592.07 571.40h1.98v-2.38h-1.98zM1594.54 571.40h1.98v-13.44h-1.98zM1597.02 571.40h1.98v-19.43h-1.98zM1599.50 571.40h1.98v-15.98h-1.98zM1601.97 571.40h1.98v-9.85h-1.98zM1604.45 571.40h1.98v-6.06h-1.98zM1606.93 571.40h1.98v-1.79h-1.98zM1609.40 571.40h1.98v-1.59h-1.98zM1611.88 571.40h1.98v-6.37h-1.98zM1614.36 571.40h1.98v-9.91h-1.98zM1616.83 571.40h1.98v-9.44h-1.98zM1619.31 571.40h1.98v-9.07h-1.98zM1621.79 571.40h1.98v-8.85h-1.98zM1624.27 571.40h1.98v-8.06h-1.98zM1626.74 571.40h1.98v-12.08h-1.98zM1629.22 571.40h1.98v-11.39h-1.98zM1631.70 571.40h1.98v-3.48h-1.98zM1634.17 571.40h1.98v-4.80h-1.98zM1636.65 571.40h1.98v-1.83h-1.98zM1639.13 571.40h1.98v-3.48h-1.98zM1641.60 571.40h1.98v-2.57h-1.98zM1644.08 571.40h1.98v-2.43h-1.98zM1646.56 571.40h1.98v-14.53h-1.98zM1649.03 571.40h1.98v-4.49h-1.98zM1651.51 571.40h1.98v-0.19h-1.98zM1653.99 571.40h1.98v-1.80h-1.98zM1656.46 571.40h1.98v-12.43h-1.98zM1658.94 571.40h1.98v-8.18h-1.98zM1661.42 571.40h1.98v-4.49h-1.98zM1663.90 571.40h1.98v-0.05h-1.98zM1666.37 571.40h1.98v-4.08h-1.98zM1668.85 571.40h1.98v-13.57h-1.98zM1671.33 571.40h1.98v-11.67h-1.98zM1673.80 571.40h1.98v-4.67h-1.98zM1676.28 571.40h1.98v-11.07h-1.98zM1678.76 571.40h1.98v-9.10h-1.98zM1681.23 571.40h1.98v-7.18h-1.98zM1683.71 571.40h1.98v-11.48h-1.98zM1686.19 571.40h1.98v-16.51h-1.98zM1688.66 571.40h1.98v-24.52h-1.98zM1691.14 571.40h1.98v-25.33h-1.98zM1693.62 571.40h1.98v-29.57h-1.98zM1696.10 571.40h1.98v-38.31h-1.98zM1698.57 571.40h1.98v-49.92h-1.98zM1701.05 571.40h1.98v-53.84h-1.98zM1703.53 571.40h1.98v-26.12h-1.98zM1706.00 571.40h1.98v-23.17h-1.98zM1708.48 571.40h1.98v-23.57h-1.98zM1710.96 571.40h1.98v-9.47h-1.98zM1713.43 571.40h1.98v-12.37h-1.98zM1715.91 571.40h1.98v-15.32h-1.98zM1718.39 571.40h1.98v-18.71h-1.98zM1720.86 571.40h1.98v-12.27h-1.98zM1723.34 571.40h1.98v-5.97h-1.98zM1725.82 571.40h1.98v-9.38h-1.98zM1728.30 571.40h1.98v-18.70h-1.98zM1730.77 571.40h1.98v-15.37h-1.98zM1733.25 571.40h1.98v-13.39h-1.98zM1735.73 571.40h1.98v-13.18h-1.98zM1738.20 571.40h1.98v-25.77h-1.98zM1740.68 571.40h1.98v-33.09h-1.98zM1743.16 571.40h1.98v-12.24h-1.98zM1745.63 571.40h1.98v-11.75h-1.98zM1748.11 571.40h1.98v-11.04h-1.98zM1750.59 571.40h1.98v-29.45h-1.98zM1753.06 571.40h1.98v-16.85h-1.98zM1755.54 571.40h1.98v-4.79h-1.98zM1758.02 571.40h1.98v-43.75h-1.98zM1760.49 571.40h1.98v-19.91h-1.98zM1762.97 571.40h1.98v-38.86h-1.98zM1765.45 571.40h1.98v-61.15h-1.98zM1767.93 571.40h1.98v-46.65h-1.98zM1770.40 571.40h1.98v-31.59h-1.98zM1772.88 571.40h1.98v-0.16h-1.98zM1775.36 571.40h1.98v-22.17h-1.98zM1777.83 571.40h1.98v-35.40h-1.98zM1780.31 571.40h1.98v-6.52h-1.98zM1782.79 571.40h1.98v-19.46h-1.98zM1785.26 571.40h1.98v-40.84h-1.98zM1787.74 571.40h1.98v-42.71h-1.98zM1790.22 571.40h1.98v-50.50h-1.98zM1792.69 571.40h1.98v-31.19h-1.98zM1795.17 571.40h1.98v-70.67h-1.98zM1797.65 571.40h1.98v-18.26h-1.98zM1800.13 571.40h1.98v-37.26h-1.98zM1802.60 571.40h1.98v-28.82h-1.98zM1805.08 571.40h1.98v-19.97h-1.98zM1807.56 571.40h1.98v-3.04h-1.98zM1810.03 571.40h1.98v-23.18h-1.98zM1812.51 571.40h1.98v-12.54h-1.98zM1814.99 571.40h1.98v-48.29h-1.98zM1817.46 571.40h1.98v-2.15h-1.98zM1819.94 571.40h1.98v-74.14h-1.98zM1822.42 571.40h1.98v-79.50h-1.98zM1824.89 571.40h1.98v-36.65h-1.98zM1827.37 571.40h1.98v-13.80h-1.98zM1829.85 571.40h1.98v-3.46h-1.98zM1832.32 571.40h1.98v-11.81h-1.98zM1834.80 571.40h1.98v-32.20h-1.98zM1837.28 571.40h1.98v-29.00h-1.98zM1839.76 571.40h1.98v-27.56h-1.98zM1842.23 571.40h1.98v-60.30h-1.98z" fill="#2424ff" stroke="none" stroke-width="0"/>
<path d="M1064.49 539.00h1.98M1066.96 546.09h1.98M1069.44 537.59h1.98M1071.92 530.10h1.98M1074.39 536.02h1.98M1076.87 539.06h1.98M1079.35 543.89h1.98M1081.82 552.89h1.98M1084.30 544.03h1.98M1086.78 541.41h1.98M1089.26 546.42h1.98M1091.73 551.28h1.98M1094.21 554.05h1.98M1096.69 554.14h1.98M1099.16 554.73h1.98M1101.64 557.50h1.98M1104.12 556.23h1.98M1106.59 551.89h1.98M1109.07 542.72h1.98M1111.55 535.79h1.98M1114.02 539.44h1.98M1116.50 537.87h1.98M1118.98 534.72h1.98M1121.45 537.06h1.98M1123.93 541.66h1.98M1126.41 538.12h1.98M1128.89 533.78h1.98M1131.36 537.87h1.98M1133.84 536.37h1.98M1136.32 534.41h1.98M1138.79 536.33h1.98M1141.27 532.31h1.98M1143.75 557.13h1.98M1146.22 552.80h1.98M1148.70 553.13h1.98M1151.18 555.06h1.98M1153.65 559.79h1.98M1156.13 560.76h1.98M1158.61 558.28h1.98M1161.09 548.98h1.98M1163.56 547.26h1.98M1166.04 552.88h1.98M1168.52 548.49h1.98M1170.99 551.67h1.98M1173.47 562.54h1.98M1175.95 550.01h1.98M1178.42 553.34h1.98M1180.90 549.34h1.98M1183.38 550.22h1.98M1185.85 548.76h1.98M1188.33 546.18h1.98M1190.81 549.24h1.98M1193.28 547.81h1.98M1195.76 553.57h1.98M1198.24 546.00h1.98M1200.72 536.74h1.98M1203.19 549.30h1.98M1205.67 550.10h1.98M1208.15 554.40h1.98M1210.62 555.90h1.98M1213.10 552.67h1.98M1215.58 546.42h1.98M1218.05 547.18h1.98M1220.53 553.10h1.98M1223.01 551.93h1.98M1225.48 559.58h1.98M1227.96 558.92h1.98M1230.44 563.75h1.98M1232.92 558.92h1.98M1235.39 560.10h1.98M1237.87 553.80h1.98M1240.35 555.66h1.98M1242.82 561.45h1.98M1245.30 557.79h1.98M1247.78 554.38h1.98M1250.25 558.26h1.98M1252.73 559.21h1.98M1255.21 552.14h1.98M1257.68 551.46h1.98M1260.16 563.44h1.98M1262.64 571.25h1.98M1265.11 570.91h1.98M1267.59 567.54h1.98M1270.07 567.35h1.98M1272.55 566.50h1.98M1275.02 569.88h1.98M1277.50 571.02h1.98M1279.98 565.80h1.98M1282.45 570.19h1.98M1284.93 566.60h1.98M1287.41 564.17h1.98M1289.88 570.01h1.98M1292.36 564.39h1.98M1294.84 567.91h1.98M1297.31 558.26h1.98M1299.79 554.70h1.98M1302.27 552.91h1.98M1304.75 557.55h1.98M1307.22 556.60h1.98M1309.70 566.64h1.98M1312.18 564.74h1.98M1314.65 560.33h1.98M1317.13 559.87h1.98M1319.61 562.90h1.98M1322.08 562.12h1.98M1324.56 559.74h1.98M1327.04 559.73h1.98M1329.51 560.39h1.98M1331.99 564.59h1.98M1334.47 567.88h1.98M1336.95 568.23h1.98M1339.42 571.30h1.98M1341.90 567.76h1.98M1344.38 569.30h1.98M1346.85 567.24h1.98M1349.33 561.89h1.98M1351.81 561.07h1.98M1354.28 570.40h1.98M1356.76 564.73h1.98M1359.24 565.18h1.98M1361.71 566.19h1.98M1364.19 564.21h1.98M1366.67 565.98h1.98M1369.14 568.11h1.98M1371.62 567.66h1.98M1374.10 564.77h1.98M1376.58 566.16h1.98M1379.05 570.94h1.98M1381.53 563.54h1.98M1384.01 550.14h1.98M1386.48 557.63h1.98M1388.96 557.36h1.98M1391.44 565.52h1.98M1393.91 570.17h1.98M1396.39 570.77h1.98M1398.87 567.33h1.98M1401.34 559.33h1.98M1403.82 567.45h1.98M1406.30 567.38h1.98M1408.78 565.64h1.98M1411.25 571.35h1.98M1413.73 564.83h1.98M1416.21 564.73h1.98M1418.68 568.02h1.98M1421.16 564.93h1.98M1423.64 571.28h1.98M1426.11 561.60h1.98M1428.59 549.13h1.98M1431.07 544.57h1.98M1433.54 548.60h1.98M1436.02 566.50h1.98M1438.50 559.06h1.98M1440.97 570.44h1.98M1443.45 565.11h1.98M1445.93 561.11h1.98M1448.41 563.16h1.98M1450.88 563.34h1.98M1453.36 569.86h1.98M1455.84 569.89h1.98M1458.31 554.93h1.98M1460.79 552.13h1.98M1463.27 567.57h1.98M1465.74 566.32h1.98M1468.22 562.86h1.98M1470.70 567.90h1.98M1473.17 551.66h1.98M1475.65 554.43h1.98M1478.13 549.74h1.98M1480.61 552.62h1.98M1483.08 551.27h1.98M1485.56 553.65h1.98M1488.04 550.00h1.98M1490.51 555.13h1.98M1492.99 554.35h1.98M1495.47 559.70h1.98M1497.94 555.71h1.98M1500.42 554.41h1.98M1502.90 545.73h1.98M1505.37 545.10h1.98M1507.85 552.98h1.98M1510.33 559.70h1.98M1512.80 558.84h1.98M1515.28 570.55h1.98M1517.76 569.40h1.98M1520.24 569.03h1.98M1522.71 559.06h1.98M1525.19 559.70h1.98M1527.67 559.09h1.98M1530.14 551.01h1.98M1532.62 545.10h1.98M1535.10 551.46h1.98M1537.57 555.55h1.98M1540.05 563.74h1.98M1542.53 567.98h1.98M1545.00 545.38h1.98M1547.48 551.14h1.98M1549.96 541.39h1.98M1552.44 552.79h1.98M1554.91 547.57h1.98M1557.39 549.41h1.98M1559.87 548.40h1.98M1562.34 557.35h1.98M1564.82 564.69h1.98M1567.30 565.63h1.98M1569.77 534.67h1.98M1572.25 542.48h1.98M1574.73 552.33h1.98M1577.20 558.76h1.98M1579.68 563.12h1.98M1582.16 567.86h1.98M1584.63 566.95h1.98M1587.11 564.30h1.98M1589.59 567.08h1.98M1592.07 569.02h1.98M1594.54 557.96h1.98M1597.02 551.97h1.98M1599.50 555.42h1.98M1601.97 561.55h1.98M1604.45 565.34h1.98M1606.93 569.61h1.98M1609.40 569.81h1.98M1611.88 565.03h1.98M1614.36 561.49h1.98M1616.83 561.96h1.98M1619.31 562.33h1.98M1621.79 562.55h1.98M1624.27 563.34h1.98M1626.74 559.32h1.98M1629.22 560.01h1.98M1631.70 567.92h1.98M1634.17 566.60h1.98M1636.65 569.57h1.98M1639.13 567.92h1.98M1641.60 568.83h1.98M1644.08 568.97h1.98M1646.56 556.87h1.98M1649.03 566.91h1.98M1651.51 571.21h1.98M1653.99 569.60h1.98M1656.46 558.97h1.98M1658.94 563.22h1.98M1661.42 566.91h1.98M1663.90 571.35h1.98M1666.37 567.32h1.98M1668.85 557.83h1.98M1671.33 559.73h1.98M1673.80 566.73h1.98M1676.28 560.33h1.98M1678.76 562.30h1.98M1681.23 564.22h1.98M1683.71 559.92h1.98M1686.19 554.89h1.98M1688.66 546.88h1.98M1691.14 546.07h1.98M1693.62 541.83h1.98M1696.10 533.09h1.98M1698.57 521.48h1.98M1701.05 517.56h1.98M1703.53 545.28h1.98M1706.00 548.23h1.98M1708.48 547.83h1.98M1710.96 561.93h1.98M1713.43 559.03h1.98M1715.91 556.08h1.98M1718.39 552.69h1.98M1720.86 559.13h1.98M1723.34 565.43h1.98M1725.82 562.02h1.98M1728.30 552.70h1.98M1730.77 556.03h1.98M1733.25 558.01h1.98M1735.73 558.22h1.98M1738.20 545.63h1.98M1740.68 538.31h1.98M1743.16 559.16h1.98M1745.63 559.65h1.98M1748.11 560.36h1.98M1750.59 541.95h1.98M1753.06 554.55h1.98M1755.54 566.61h1.98M1758.02 527.65h1.98M1760.49 551.49h1.98M1762.97 532.54h1.98M1765.45 510.25h1.98M1767.93 524.75h1.98M1770.40 539.81h1.98M1772.88 571.24h1.98M1775.36 549.23h1.98M1777.83 536.00h1.98M1780.31 564.88h1.98M1782.79 551.94h1.98M1785.26 530.56h1.98M1787.74 528.69h1.98M1790.22 520.90h1.98M1792.69 540.21h1.98M1795.17 500.73h1.98M1797.65 553.14h1.98M1800.13 534.14h1.98M1802.60 542.58h1.98M1805.08 551.43h1.98M1807.56 568.36h1.98M1810.03 548.22h1.98M1812.51 558.86h1.98M1814.99 523.11h1.98M1817.46 569.25h1.98M1819.94 497.26h1.98M1822.42 491.90h1.98M1824.89 534.75h1.98M1827.37 557.60h1.98M1829.85 567.94h1.98M1832.32 559.59h1.98M1834.80 539.20h1.98M1837.28 542.40h1.98M1839.76 543.84h1.98M1842.23 511.10h1.98" stroke="#000050" stroke-width="0.8" fill="none"/>
</g>
<line x1="1091.80" y1="56.30" x2="1164.80" y2="56.30" stroke="#000" stroke-width="2.4"/>
<line x1="1091.80" y1="95.80" x2="1164.80" y2="95.80" stroke="#f00" stroke-width="1.1"/>
<circle cx="1128.30" cy="95.80" r="3.9" fill="none" stroke="#f00" stroke-width="1.1"/>
<rect x="1091.80" y="121.10" width="73.00" height="27.8" fill="#0000ff" stroke="#00008a" stroke-width="0.6"/>
<text x="1172.00" y="68.00" font-size="29.3">Actual wear value</text>
<text x="1172.00" y="107.50" font-size="29.3">Predicted wear value</text>
<text x="1172.00" y="146.70" font-size="29.3">Error</text>
<rect x="1238.90" y="460.00" width="374.90" height="54.80" fill="#fff" stroke="#262626" stroke-width="1.3"/>
<text x="1250.80" y="497.20" font-size="29.3">Predicted tool wear of C4</text>
<text x="1063.00" y="612.30" text-anchor="middle" font-size="29.3" fill="#262626">0</text>
<text x="1186.84" y="612.30" text-anchor="middle" font-size="29.3" fill="#262626">50</text>
<text x="1310.69" y="612.30" text-anchor="middle" font-size="29.3" fill="#262626">100</text>
<text x="1434.53" y="612.30" text-anchor="middle" font-size="29.3" fill="#262626">150</text>
<text x="1558.38" y="612.30" text-anchor="middle" font-size="29.3" fill="#262626">200</text>
<text x="1682.22" y="612.30" text-anchor="middle" font-size="29.3" fill="#262626">250</text>
<text x="1806.07" y="612.30" text-anchor="middle" font-size="29.3" fill="#262626">300</text>
<text x="1051.60" y="583.00" text-anchor="end" font-size="29.3" fill="#262626">0</text>
<text x="1051.60" y="471.36" text-anchor="end" font-size="29.3" fill="#262626">50</text>
<text x="1051.60" y="359.72" text-anchor="end" font-size="29.3" fill="#262626">100</text>
<text x="1051.60" y="248.08" text-anchor="end" font-size="29.3" fill="#262626">150</text>
<text x="1051.60" y="136.44" text-anchor="end" font-size="29.3" fill="#262626">200</text>
<text x="1051.60" y="24.80" text-anchor="end" font-size="29.3" fill="#262626">250</text>
<text x="1454.35" y="654.00" text-anchor="middle" font-size="32.7" fill="#262626">Cut number</text>
<text transform="translate(987.70 292.30) rotate(-90)" text-anchor="middle" font-size="32.7" fill="#262626">Flank wear(μm)</text>
<clipPath id="c3"><rect x="102.60" y="680.50" width="782.90" height="558.30"/></clipPath>
<g clip-path="url(#c3)">
<polyline points="105.08,1168.10 107.56,1149.91 110.03,1131.71 112.51,1115.25 114.99,1110.87 117.47,1106.50 119.94,1102.12 122.42,1097.78 124.90,1093.43 127.38,1089.09 129.85,1084.74 132.33,1080.40 134.81,1078.25 137.29,1076.26 139.76,1074.27 142.24,1072.28 144.72,1070.30 147.20,1068.31 149.67,1066.61 152.15,1065.37 154.63,1064.32 157.11,1062.96 159.58,1061.70 162.06,1060.50 164.54,1059.32 167.02,1058.15 169.49,1056.99 171.97,1055.85 174.45,1054.72 176.93,1053.61 179.40,1052.50 181.88,1051.39 184.36,1050.27 186.84,1049.16 189.31,1048.03 191.79,1046.89 194.27,1045.74 196.75,1044.57 199.22,1043.39 201.70,1042.20 204.18,1040.99 206.66,1039.77 209.13,1038.54 211.61,1037.30 214.09,1036.06 216.57,1034.83 219.04,1033.60 221.52,1032.36 224.00,1031.13 226.48,1029.90 228.95,1028.66 231.43,1027.43 233.91,1026.19 236.39,1024.96 238.86,1023.75 241.34,1022.57 243.82,1021.41 246.30,1020.28 248.77,1019.18 251.25,1018.11 253.73,1017.06 256.21,1016.05 258.68,1015.05 261.16,1014.06 263.64,1013.07 266.12,1012.08 268.59,1011.09 271.07,1010.11 273.55,1009.15 276.03,1008.20 278.50,1007.27 280.98,1006.34 283.46,1005.43 285.94,1004.53 288.41,1003.65 290.89,1002.77 293.37,1001.90 295.85,1001.03 298.32,1000.16 300.80,999.29 303.28,998.45 305.76,997.64 308.24,996.88 310.71,996.14 313.19,995.45 315.67,994.78 318.15,994.16 320.62,993.57 323.10,993.02 325.58,992.47 328.06,991.92 330.53,991.37 333.01,990.83 335.49,990.32 337.97,989.82 340.44,989.33 342.92,988.86 345.40,988.40 347.88,987.97 350.35,987.55 352.83,987.18 355.31,986.83 357.79,986.52 360.26,986.23 362.74,985.97 365.22,985.75 367.70,985.55 370.17,985.38 372.65,985.23 375.13,985.08 377.61,984.94 380.08,984.79 382.56,984.63 385.04,984.46 387.52,984.28 389.99,984.08 392.47,983.88 394.95,983.66 397.43,983.43 399.90,983.19 402.38,982.94 404.86,982.69 407.34,982.44 409.81,982.19 412.29,981.94 414.77,981.69 417.25,981.44 419.72,981.19 422.20,980.94 424.68,980.69 427.16,980.44 429.63,980.20 432.11,979.95 434.59,979.71 437.07,979.46 439.54,979.22 442.02,978.97 444.50,978.73 446.98,978.48 449.45,978.24 451.93,977.99 454.41,977.74 456.89,977.49 459.36,977.24 461.84,976.99 464.32,976.74 466.80,976.49 469.27,976.24 471.75,975.99 474.23,975.74 476.71,975.49 479.18,975.23 481.66,974.97 484.14,974.70 486.62,974.43 489.09,974.15 491.57,973.86 494.05,973.57 496.53,973.27 499.01,972.97 501.48,972.67 503.96,972.36 506.44,972.06 508.92,971.75 511.39,971.43 513.87,971.10 516.35,970.74 518.83,970.36 521.30,969.95 523.78,969.53 526.26,969.08 528.74,968.62 531.21,968.13 533.69,967.63 536.17,967.14 538.65,966.64 541.12,966.14 543.60,965.63 546.08,965.07 548.56,964.47 551.03,963.83 553.51,963.14 555.99,962.42 558.47,961.65 560.94,960.85 563.42,960.00 565.90,959.13 568.38,958.26 570.85,957.39 573.33,956.52 575.81,955.63 578.29,954.67 580.76,953.64 583.24,952.54 585.72,951.37 588.20,950.14 590.67,948.84 593.15,947.47 595.63,946.04 598.11,944.56 600.58,943.08 603.06,941.60 605.54,940.12 608.02,938.64 610.49,937.18 612.97,935.72 615.45,934.27 617.93,932.84 620.40,931.41 622.88,929.99 625.36,928.58 627.84,927.18 630.31,925.79 632.79,924.40 635.27,923.01 637.75,921.62 640.22,920.23 642.70,918.83 645.18,917.44 647.66,916.05 650.13,914.59 652.61,913.04 655.09,911.41 657.57,909.70 660.04,907.90 662.52,906.05 665.00,904.14 667.48,902.19 669.95,900.17 672.43,898.18 674.91,896.22 677.39,894.28 679.86,892.38 682.34,890.50 684.82,888.63 687.30,886.75 689.77,884.88 692.25,883.01 694.73,881.15 697.21,879.28 699.69,877.42 702.16,875.56 704.64,873.70 707.12,871.85 709.60,869.99 712.07,868.14 714.55,866.30 717.03,864.47 719.51,862.66 721.98,860.86 724.46,859.07 726.94,857.29 729.42,855.53 731.89,853.78 734.37,852.03 736.85,850.29 739.33,848.55 741.80,846.80 744.28,845.07 746.76,843.33 749.24,841.59 751.71,839.86 754.19,838.13 756.67,836.40 759.15,834.67 761.62,832.94 764.10,831.21 766.58,829.49 769.06,827.78 771.53,826.08 774.01,824.40 776.49,822.73 778.97,821.07 781.44,819.42 783.92,817.79 786.40,816.17 788.88,814.55 791.35,812.94 793.83,811.31 796.31,809.68 798.79,808.03 801.26,806.37 803.74,804.70 806.22,803.01 808.70,801.32 811.17,799.61 813.65,797.88 816.13,796.16 818.61,794.43 821.08,792.71 823.56,791.00 826.04,789.31 828.52,787.63 830.99,785.96 833.47,784.31 835.95,782.67 838.43,781.04 840.90,779.43 843.38,777.82 845.86,776.21 848.34,774.63 850.81,773.07 853.29,771.56 855.77,770.08 858.25,768.63 860.72,767.21 863.20,765.83 865.68,764.49 868.16,763.18 870.63,761.88 873.11,760.62 875.59,759.33 878.07,758.06 880.54,756.81 883.02,755.80" fill="none" stroke="#000" stroke-width="2.4" stroke-linejoin="round" />
<polyline points="105.08,1098.00 107.56,1093.90 110.03,1081.80 112.51,1068.80 114.99,1064.19 117.47,1064.70 119.94,1067.14 122.42,1072.00 124.90,1073.46 127.38,1072.13 129.85,1074.40 132.33,1064.27 134.81,1059.00 137.29,1056.79 139.76,1062.53 142.24,1061.98 144.72,1063.90 147.20,1056.90 149.67,1050.84 152.15,1047.70 154.63,1042.90 157.11,1048.39 159.58,1046.76 162.06,1049.30 164.54,1045.67 167.02,1042.80 169.49,1045.07 171.97,1041.01 174.45,1041.06 176.93,1041.20 179.40,1047.68 181.88,1050.90 184.36,1047.32 186.84,1045.08 189.31,1039.59 191.79,1037.18 194.27,1036.30 196.75,1034.06 199.22,1040.48 201.70,1042.27 204.18,1041.20 206.66,1037.84 209.13,1036.28 211.61,1033.54 214.09,1032.20 216.57,1036.00 219.04,1046.00 221.52,1043.95 224.00,1031.40 226.48,1031.71 228.95,1027.87 231.43,1027.90 233.91,1027.59 236.39,1021.30 238.86,1021.70 241.34,1027.83 243.82,1032.67 246.30,1036.30 248.77,1033.12 251.25,1031.39 253.73,1028.99 256.21,1023.30 258.68,1022.00 261.16,1004.60 263.64,1024.00 266.12,1037.10 268.59,1033.70 271.07,1029.43 273.55,1026.60 276.03,1025.24 278.50,1020.48 280.98,1017.74 283.46,1013.60 285.94,1022.44 288.41,1024.17 290.89,1028.20 293.37,1024.91 295.85,1019.14 298.32,1019.26 300.80,1015.20 303.28,1017.06 305.76,1018.61 308.24,1018.40 310.71,1017.46 313.19,1015.63 315.67,1012.00 318.15,1010.30 320.62,1031.40 323.10,1014.00 325.58,1013.52 328.06,1011.90 330.53,1010.15 333.01,1008.89 335.49,1005.50 337.97,1009.11 340.44,1013.41 342.92,1020.10 345.40,1013.91 347.88,1011.75 350.35,1007.10 352.83,1001.00 355.31,1000.85 357.79,999.00 360.26,1002.29 362.74,1006.83 365.22,1007.74 367.70,1013.47 370.17,1016.80 372.65,1008.88 375.13,1000.60 377.61,998.02 380.08,997.59 382.56,995.48 385.04,994.10 387.52,992.99 389.99,995.48 392.47,995.35 394.95,998.00 397.43,1011.90 399.90,1011.80 402.38,994.10 404.86,983.40 407.34,986.14 409.81,980.85 412.29,980.10 414.77,982.26 417.25,983.95 419.72,990.00 422.20,1013.40 424.68,994.70 427.16,991.14 429.63,988.24 432.11,983.93 434.59,980.10 437.07,981.15 439.54,985.47 442.02,989.01 444.50,994.70 446.98,987.62 449.45,978.01 451.93,972.00 454.41,971.53 456.89,974.85 459.36,967.22 461.84,970.40 464.32,972.42 466.80,975.30 469.27,974.80 471.75,980.10 474.23,993.90 476.71,978.00 479.18,977.17 481.66,972.00 484.14,969.12 486.62,967.10 489.09,967.14 491.57,966.75 494.05,967.60 496.53,963.90 499.01,974.87 501.48,988.20 503.96,984.64 506.44,980.94 508.92,978.55 511.39,978.50 513.87,980.25 516.35,973.82 518.83,969.35 521.30,972.21 523.78,968.80 526.26,987.00 528.74,998.00 531.21,970.00 533.69,966.73 536.17,967.10 538.65,965.95 541.12,962.13 543.60,959.74 546.08,962.19 548.56,959.05 551.03,957.90 553.51,959.00 555.99,987.40 558.47,957.00 560.94,955.62 563.42,954.87 565.90,952.50 568.38,949.34 570.85,949.47 573.33,942.83 575.81,941.20 578.29,939.91 580.76,941.64 583.24,943.64 585.72,942.52 588.20,939.68 590.67,937.36 593.15,936.30 595.63,935.88 598.11,943.65 600.58,942.80 603.06,920.10 605.54,940.72 608.02,961.50 610.49,928.00 612.97,931.69 615.45,926.13 617.93,924.90 620.40,910.30 622.88,906.17 625.36,911.97 627.84,909.77 630.31,908.02 632.79,908.70 635.27,943.60 637.75,912.00 640.22,909.95 642.70,907.10 645.18,899.50 647.66,891.70 650.13,895.34 652.61,894.16 655.09,900.60 657.57,892.18 660.04,883.50 662.52,874.80 665.00,868.10 667.48,865.67 669.95,861.30 672.43,859.85 674.91,863.20 677.39,880.20 679.86,861.30 682.34,868.47 684.82,870.07 687.30,874.80 689.77,865.39 692.25,864.00 694.73,857.14 697.21,843.70 699.69,862.60 702.16,857.88 704.64,854.69 707.12,850.14 709.60,846.40 712.07,891.00 714.55,859.90 717.03,839.60 719.51,846.28 721.98,845.00 724.46,839.11 726.94,832.90 729.42,838.34 731.89,846.40 734.37,832.99 736.85,822.00 739.33,851.80 741.80,844.95 744.28,835.60 746.76,831.03 749.24,822.62 751.71,818.00 754.19,814.58 756.67,807.20 759.15,800.47 761.62,796.30 764.10,816.60 766.58,858.60 769.06,796.30 771.53,785.50 774.01,788.62 776.49,792.07 778.97,793.60 781.44,777.40 783.92,763.90 786.40,762.51 788.88,759.80 791.35,762.49 793.83,763.90 796.31,847.70 798.79,754.40 801.26,746.30 803.74,740.86 806.22,734.10 808.70,741.29 811.17,750.30 813.65,731.40 816.13,694.20 818.61,789.60 821.08,759.80 823.56,743.60 826.04,746.14 828.52,747.60 830.99,744.11 833.47,736.68 835.95,734.80 838.43,755.80 840.90,761.13 843.38,772.00 845.86,774.70 848.34,773.14 850.81,770.21 853.29,767.90 855.77,743.60 858.25,741.33 860.72,738.20 863.20,744.50 865.68,747.60 868.16,753.89 870.63,757.48 873.11,763.90 875.59,744.90 878.07,748.77 880.54,748.98 883.02,753.00" fill="none" stroke="#f00" stroke-width="1.25" stroke-linejoin="round" />
<path d="M101.18 1098.00a3.90 3.90 0 1 0 7.80 0a3.90 3.90 0 1 0 -7.80 0M103.66 1093.90a3.90 3.90 0 1 0 7.80 0a3.90 3.90 0 1 0 -7.80 0M106.13 1081.80a3.90 3.90 0 1 0 7.80 0a3.90 3.90 0 1 0 -7.80 0M108.61 1068.80a3.90 3.90 0 1 0 7.80 0a3.90 3.90 0 1 0 -7.80 0M111.09 1064.19a3.90 3.90 0 1 0 7.80 0a3.90 3.90 0 1 0 -7.80 0M113.57 1064.70a3.90 3.90 0 1 0 7.80 0a3.90 3.90 0 1 0 -7.80 0M116.04 1067.14a3.90 3.90 0 1 0 7.80 0a3.90 3.90 0 1 0 -7.80 0M118.52 1072.00a3.90 3.90 0 1 0 7.80 0a3.90 3.90 0 1 0 -7.80 0M121.00 1073.46a3.90 3.90 0 1 0 7.80 0a3.90 3.90 0 1 0 -7.80 0M123.48 1072.13a3.90 3.90 0 1 0 7.80 0a3.90 3.90 0 1 0 -7.80 0M125.95 1074.40a3.90 3.90 0 1 0 7.80 0a3.90 3.90 0 1 0 -7.80 0M128.43 1064.27a3.90 3.90 0 1 0 7.80 0a3.90 3.90 0 1 0 -7.80 0M130.91 1059.00a3.90 3.90 0 1 0 7.80 0a3.90 3.90 0 1 0 -7.80 0M133.39 1056.79a3.90 3.90 0 1 0 7.80 0a3.90 3.90 0 1 0 -7.80 0M135.86 1062.53a3.90 3.90 0 1 0 7.80 0a3.90 3.90 0 1 0 -7.80 0M138.34 1061.98a3.90 3.90 0 1 0 7.80 0a3.90 3.90 0 1 0 -7.80 0M140.82 1063.90a3.90 3.90 0 1 0 7.80 0a3.90 3.90 0 1 0 -7.80 0M143.30 1056.90a3.90 3.90 0 1 0 7.80 0a3.90 3.90 0 1 0 -7.80 0M145.77 1050.84a3.90 3.90 0 1 0 7.80 0a3.90 3.90 0 1 0 -7.80 0M148.25 1047.70a3.90 3.90 0 1 0 7.80 0a3.90 3.90 0 1 0 -7.80 0M150.73 1042.90a3.90 3.90 0 1 0 7.80 0a3.90 3.90 0 1 0 -7.80 0M153.21 1048.39a3.90 3.90 0 1 0 7.80 0a3.90 3.90 0 1 0 -7.80 0M155.68 1046.76a3.90 3.90 0 1 0 7.80 0a3.90 3.90 0 1 0 -7.80 0M158.16 1049.30a3.90 3.90 0 1 0 7.80 0a3.90 3.90 0 1 0 -7.80 0M160.64 1045.67a3.90 3.90 0 1 0 7.80 0a3.90 3.90 0 1 0 -7.80 0M163.12 1042.80a3.90 3.90 0 1 0 7.80 0a3.90 3.90 0 1 0 -7.80 0M165.59 1045.07a3.90 3.90 0 1 0 7.80 0a3.90 3.90 0 1 0 -7.80 0M168.07 1041.01a3.90 3.90 0 1 0 7.80 0a3.90 3.90 0 1 0 -7.80 0M170.55 1041.06a3.90 3.90 0 1 0 7.80 0a3.90 3.90 0 1 0 -7.80 0M173.03 1041.20a3.90 3.90 0 1 0 7.80 0a3.90 3.90 0 1 0 -7.80 0M175.50 1047.68a3.90 3.90 0 1 0 7.80 0a3.90 3.90 0 1 0 -7.80 0M177.98 1050.90a3.90 3.90 0 1 0 7.80 0a3.90 3.90 0 1 0 -7.80 0M180.46 1047.32a3.90 3.90 0 1 0 7.80 0a3.90 3.90 0 1 0 -7.80 0M182.94 1045.08a3.90 3.90 0 1 0 7.80 0a3.90 3.90 0 1 0 -7.80 0M185.41 1039.59a3.90 3.90 0 1 0 7.80 0a3.90 3.90 0 1 0 -7.80 0M187.89 1037.18a3.90 3.90 0 1 0 7.80 0a3.90 3.90 0 1 0 -7.80 0M190.37 1036.30a3.90 3.90 0 1 0 7.80 0a3.90 3.90 0 1 0 -7.80 0M192.85 1034.06a3.90 3.90 0 1 0 7.80 0a3.90 3.90 0 1 0 -7.80 0M195.32 1040.48a3.90 3.90 0 1 0 7.80 0a3.90 3.90 0 1 0 -7.80 0M197.80 1042.27a3.90 3.90 0 1 0 7.80 0a3.90 3.90 0 1 0 -7.80 0M200.28 1041.20a3.90 3.90 0 1 0 7.80 0a3.90 3.90 0 1 0 -7.80 0M202.76 1037.84a3.90 3.90 0 1 0 7.80 0a3.90 3.90 0 1 0 -7.80 0M205.23 1036.28a3.90 3.90 0 1 0 7.80 0a3.90 3.90 0 1 0 -7.80 0M207.71 1033.54a3.90 3.90 0 1 0 7.80 0a3.90 3.90 0 1 0 -7.80 0M210.19 1032.20a3.90 3.90 0 1 0 7.80 0a3.90 3.90 0 1 0 -7.80 0M212.67 1036.00a3.90 3.90 0 1 0 7.80 0a3.90 3.90 0 1 0 -7.80 0M215.14 1046.00a3.90 3.90 0 1 0 7.80 0a3.90 3.90 0 1 0 -7.80 0M217.62 1043.95a3.90 3.90 0 1 0 7.80 0a3.90 3.90 0 1 0 -7.80 0M220.10 1031.40a3.90 3.90 0 1 0 7.80 0a3.90 3.90 0 1 0 -7.80 0M222.58 1031.71a3.90 3.90 0 1 0 7.80 0a3.90 3.90 0 1 0 -7.80 0M225.05 1027.87a3.90 3.90 0 1 0 7.80 0a3.90 3.90 0 1 0 -7.80 0M227.53 1027.90a3.90 3.90 0 1 0 7.80 0a3.90 3.90 0 1 0 -7.80 0M230.01 1027.59a3.90 3.90 0 1 0 7.80 0a3.90 3.90 0 1 0 -7.80 0M232.49 1021.30a3.90 3.90 0 1 0 7.80 0a3.90 3.90 0 1 0 -7.80 0M234.96 1021.70a3.90 3.90 0 1 0 7.80 0a3.90 3.90 0 1 0 -7.80 0M237.44 1027.83a3.90 3.90 0 1 0 7.80 0a3.90 3.90 0 1 0 -7.80 0M239.92 1032.67a3.90 3.90 0 1 0 7.80 0a3.90 3.90 0 1 0 -7.80 0M242.40 1036.30a3.90 3.90 0 1 0 7.80 0a3.90 3.90 0 1 0 -7.80 0M244.87 1033.12a3.90 3.90 0 1 0 7.80 0a3.90 3.90 0 1 0 -7.80 0M247.35 1031.39a3.90 3.90 0 1 0 7.80 0a3.90 3.90 0 1 0 -7.80 0M249.83 1028.99a3.90 3.90 0 1 0 7.80 0a3.90 3.90 0 1 0 -7.80 0M252.31 1023.30a3.90 3.90 0 1 0 7.80 0a3.90 3.90 0 1 0 -7.80 0M254.78 1022.00a3.90 3.90 0 1 0 7.80 0a3.90 3.90 0 1 0 -7.80 0M257.26 1004.60a3.90 3.90 0 1 0 7.80 0a3.90 3.90 0 1 0 -7.80 0M259.74 1024.00a3.90 3.90 0 1 0 7.80 0a3.90 3.90 0 1 0 -7.80 0M262.22 1037.10a3.90 3.90 0 1 0 7.80 0a3.90 3.90 0 1 0 -7.80 0M264.69 1033.70a3.90 3.90 0 1 0 7.80 0a3.90 3.90 0 1 0 -7.80 0M267.17 1029.43a3.90 3.90 0 1 0 7.80 0a3.90 3.90 0 1 0 -7.80 0M269.65 1026.60a3.90 3.90 0 1 0 7.80 0a3.90 3.90 0 1 0 -7.80 0M272.13 1025.24a3.90 3.90 0 1 0 7.80 0a3.90 3.90 0 1 0 -7.80 0M274.60 1020.48a3.90 3.90 0 1 0 7.80 0a3.90 3.90 0 1 0 -7.80 0M277.08 1017.74a3.90 3.90 0 1 0 7.80 0a3.90 3.90 0 1 0 -7.80 0M279.56 1013.60a3.90 3.90 0 1 0 7.80 0a3.90 3.90 0 1 0 -7.80 0M282.04 1022.44a3.90 3.90 0 1 0 7.80 0a3.90 3.90 0 1 0 -7.80 0M284.51 1024.17a3.90 3.90 0 1 0 7.80 0a3.90 3.90 0 1 0 -7.80 0M286.99 1028.20a3.90 3.90 0 1 0 7.80 0a3.90 3.90 0 1 0 -7.80 0M289.47 1024.91a3.90 3.90 0 1 0 7.80 0a3.90 3.90 0 1 0 -7.80 0M291.95 1019.14a3.90 3.90 0 1 0 7.80 0a3.90 3.90 0 1 0 -7.80 0M294.43 1019.26a3.90 3.90 0 1 0 7.80 0a3.90 3.90 0 1 0 -7.80 0M296.90 1015.20a3.90 3.90 0 1 0 7.80 0a3.90 3.90 0 1 0 -7.80 0M299.38 1017.06a3.90 3.90 0 1 0 7.80 0a3.90 3.90 0 1 0 -7.80 0M301.86 1018.61a3.90 3.90 0 1 0 7.80 0a3.90 3.90 0 1 0 -7.80 0M304.34 1018.40a3.90 3.90 0 1 0 7.80 0a3.90 3.90 0 1 0 -7.80 0M306.81 1017.46a3.90 3.90 0 1 0 7.80 0a3.90 3.90 0 1 0 -7.80 0M309.29 1015.63a3.90 3.90 0 1 0 7.80 0a3.90 3.90 0 1 0 -7.80 0M311.77 1012.00a3.90 3.90 0 1 0 7.80 0a3.90 3.90 0 1 0 -7.80 0M314.25 1010.30a3.90 3.90 0 1 0 7.80 0a3.90 3.90 0 1 0 -7.80 0M316.72 1031.40a3.90 3.90 0 1 0 7.80 0a3.90 3.90 0 1 0 -7.80 0M319.20 1014.00a3.90 3.90 0 1 0 7.80 0a3.90 3.90 0 1 0 -7.80 0M321.68 1013.52a3.90 3.90 0 1 0 7.80 0a3.90 3.90 0 1 0 -7.80 0M324.16 1011.90a3.90 3.90 0 1 0 7.80 0a3.90 3.90 0 1 0 -7.80 0M326.63 1010.15a3.90 3.90 0 1 0 7.80 0a3.90 3.90 0 1 0 -7.80 0M329.11 1008.89a3.90 3.90 0 1 0 7.80 0a3.90 3.90 0 1 0 -7.80 0M331.59 1005.50a3.90 3.90 0 1 0 7.80 0a3.90 3.90 0 1 0 -7.80 0M334.07 1009.11a3.90 3.90 0 1 0 7.80 0a3.90 3.90 0 1 0 -7.80 0M336.54 1013.41a3.90 3.90 0 1 0 7.80 0a3.90 3.90 0 1 0 -7.80 0M339.02 1020.10a3.90 3.90 0 1 0 7.80 0a3.90 3.90 0 1 0 -7.80 0M341.50 1013.91a3.90 3.90 0 1 0 7.80 0a3.90 3.90 0 1 0 -7.80 0M343.98 1011.75a3.90 3.90 0 1 0 7.80 0a3.90 3.90 0 1 0 -7.80 0M346.45 1007.10a3.90 3.90 0 1 0 7.80 0a3.90 3.90 0 1 0 -7.80 0M348.93 1001.00a3.90 3.90 0 1 0 7.80 0a3.90 3.90 0 1 0 -7.80 0M351.41 1000.85a3.90 3.90 0 1 0 7.80 0a3.90 3.90 0 1 0 -7.80 0M353.89 999.00a3.90 3.90 0 1 0 7.80 0a3.90 3.90 0 1 0 -7.80 0M356.36 1002.29a3.90 3.90 0 1 0 7.80 0a3.90 3.90 0 1 0 -7.80 0M358.84 1006.83a3.90 3.90 0 1 0 7.80 0a3.90 3.90 0 1 0 -7.80 0M361.32 1007.74a3.90 3.90 0 1 0 7.80 0a3.90 3.90 0 1 0 -7.80 0M363.80 1013.47a3.90 3.90 0 1 0 7.80 0a3.90 3.90 0 1 0 -7.80 0M366.27 1016.80a3.90 3.90 0 1 0 7.80 0a3.90 3.90 0 1 0 -7.80 0M368.75 1008.88a3.90 3.90 0 1 0 7.80 0a3.90 3.90 0 1 0 -7.80 0M371.23 1000.60a3.90 3.90 0 1 0 7.80 0a3.90 3.90 0 1 0 -7.80 0M373.71 998.02a3.90 3.90 0 1 0 7.80 0a3.90 3.90 0 1 0 -7.80 0M376.18 997.59a3.90 3.90 0 1 0 7.80 0a3.90 3.90 0 1 0 -7.80 0M378.66 995.48a3.90 3.90 0 1 0 7.80 0a3.90 3.90 0 1 0 -7.80 0M381.14 994.10a3.90 3.90 0 1 0 7.80 0a3.90 3.90 0 1 0 -7.80 0M383.62 992.99a3.90 3.90 0 1 0 7.80 0a3.90 3.90 0 1 0 -7.80 0M386.09 995.48a3.90 3.90 0 1 0 7.80 0a3.90 3.90 0 1 0 -7.80 0M388.57 995.35a3.90 3.90 0 1 0 7.80 0a3.90 3.90 0 1 0 -7.80 0M391.05 998.00a3.90 3.90 0 1 0 7.80 0a3.90 3.90 0 1 0 -7.80 0M393.53 1011.90a3.90 3.90 0 1 0 7.80 0a3.90 3.90 0 1 0 -7.80 0M396.00 1011.80a3.90 3.90 0 1 0 7.80 0a3.90 3.90 0 1 0 -7.80 0M398.48 994.10a3.90 3.90 0 1 0 7.80 0a3.90 3.90 0 1 0 -7.80 0M400.96 983.40a3.90 3.90 0 1 0 7.80 0a3.90 3.90 0 1 0 -7.80 0M403.44 986.14a3.90 3.90 0 1 0 7.80 0a3.90 3.90 0 1 0 -7.80 0M405.91 980.85a3.90 3.90 0 1 0 7.80 0a3.90 3.90 0 1 0 -7.80 0M408.39 980.10a3.90 3.90 0 1 0 7.80 0a3.90 3.90 0 1 0 -7.80 0M410.87 982.26a3.90 3.90 0 1 0 7.80 0a3.90 3.90 0 1 0 -7.80 0M413.35 983.95a3.90 3.90 0 1 0 7.80 0a3.90 3.90 0 1 0 -7.80 0M415.82 990.00a3.90 3.90 0 1 0 7.80 0a3.90 3.90 0 1 0 -7.80 0M418.30 1013.40a3.90 3.90 0 1 0 7.80 0a3.90 3.90 0 1 0 -7.80 0M420.78 994.70a3.90 3.90 0 1 0 7.80 0a3.90 3.90 0 1 0 -7.80 0M423.26 991.14a3.90 3.90 0 1 0 7.80 0a3.90 3.90 0 1 0 -7.80 0M425.73 988.24a3.90 3.90 0 1 0 7.80 0a3.90 3.90 0 1 0 -7.80 0M428.21 983.93a3.90 3.90 0 1 0 7.80 0a3.90 3.90 0 1 0 -7.80 0M430.69 980.10a3.90 3.90 0 1 0 7.80 0a3.90 3.90 0 1 0 -7.80 0M433.17 981.15a3.90 3.90 0 1 0 7.80 0a3.90 3.90 0 1 0 -7.80 0M435.64 985.47a3.90 3.90 0 1 0 7.80 0a3.90 3.90 0 1 0 -7.80 0M438.12 989.01a3.90 3.90 0 1 0 7.80 0a3.90 3.90 0 1 0 -7.80 0M440.60 994.70a3.90 3.90 0 1 0 7.80 0a3.90 3.90 0 1 0 -7.80 0M443.08 987.62a3.90 3.90 0 1 0 7.80 0a3.90 3.90 0 1 0 -7.80 0M445.55 978.01a3.90 3.90 0 1 0 7.80 0a3.90 3.90 0 1 0 -7.80 0M448.03 972.00a3.90 3.90 0 1 0 7.80 0a3.90 3.90 0 1 0 -7.80 0M450.51 971.53a3.90 3.90 0 1 0 7.80 0a3.90 3.90 0 1 0 -7.80 0M452.99 974.85a3.90 3.90 0 1 0 7.80 0a3.90 3.90 0 1 0 -7.80 0M455.46 967.22a3.90 3.90 0 1 0 7.80 0a3.90 3.90 0 1 0 -7.80 0M457.94 970.40a3.90 3.90 0 1 0 7.80 0a3.90 3.90 0 1 0 -7.80 0M460.42 972.42a3.90 3.90 0 1 0 7.80 0a3.90 3.90 0 1 0 -7.80 0M462.90 975.30a3.90 3.90 0 1 0 7.80 0a3.90 3.90 0 1 0 -7.80 0M465.37 974.80a3.90 3.90 0 1 0 7.80 0a3.90 3.90 0 1 0 -7.80 0M467.85 980.10a3.90 3.90 0 1 0 7.80 0a3.90 3.90 0 1 0 -7.80 0M470.33 993.90a3.90 3.90 0 1 0 7.80 0a3.90 3.90 0 1 0 -7.80 0M472.81 978.00a3.90 3.90 0 1 0 7.80 0a3.90 3.90 0 1 0 -7.80 0M475.28 977.17a3.90 3.90 0 1 0 7.80 0a3.90 3.90 0 1 0 -7.80 0M477.76 972.00a3.90 3.90 0 1 0 7.80 0a3.90 3.90 0 1 0 -7.80 0M480.24 969.12a3.90 3.90 0 1 0 7.80 0a3.90 3.90 0 1 0 -7.80 0M482.72 967.10a3.90 3.90 0 1 0 7.80 0a3.90 3.90 0 1 0 -7.80 0M485.19 967.14a3.90 3.90 0 1 0 7.80 0a3.90 3.90 0 1 0 -7.80 0M487.67 966.75a3.90 3.90 0 1 0 7.80 0a3.90 3.90 0 1 0 -7.80 0M490.15 967.60a3.90 3.90 0 1 0 7.80 0a3.90 3.90 0 1 0 -7.80 0M492.63 963.90a3.90 3.90 0 1 0 7.80 0a3.90 3.90 0 1 0 -7.80 0M495.11 974.87a3.90 3.90 0 1 0 7.80 0a3.90 3.90 0 1 0 -7.80 0M497.58 988.20a3.90 3.90 0 1 0 7.80 0a3.90 3.90 0 1 0 -7.80 0M500.06 984.64a3.90 3.90 0 1 0 7.80 0a3.90 3.90 0 1 0 -7.80 0M502.54 980.94a3.90 3.90 0 1 0 7.80 0a3.90 3.90 0 1 0 -7.80 0M505.02 978.55a3.90 3.90 0 1 0 7.80 0a3.90 3.90 0 1 0 -7.80 0M507.49 978.50a3.90 3.90 0 1 0 7.80 0a3.90 3.90 0 1 0 -7.80 0M509.97 980.25a3.90 3.90 0 1 0 7.80 0a3.90 3.90 0 1 0 -7.80 0M512.45 973.82a3.90 3.90 0 1 0 7.80 0a3.90 3.90 0 1 0 -7.80 0M514.93 969.35a3.90 3.90 0 1 0 7.80 0a3.90 3.90 0 1 0 -7.80 0M517.40 972.21a3.90 3.90 0 1 0 7.80 0a3.90 3.90 0 1 0 -7.80 0M519.88 968.80a3.90 3.90 0 1 0 7.80 0a3.90 3.90 0 1 0 -7.80 0M522.36 987.00a3.90 3.90 0 1 0 7.80 0a3.90 3.90 0 1 0 -7.80 0M524.84 998.00a3.90 3.90 0 1 0 7.80 0a3.90 3.90 0 1 0 -7.80 0M527.31 970.00a3.90 3.90 0 1 0 7.80 0a3.90 3.90 0 1 0 -7.80 0M529.79 966.73a3.90 3.90 0 1 0 7.80 0a3.90 3.90 0 1 0 -7.80 0M532.27 967.10a3.90 3.90 0 1 0 7.80 0a3.90 3.90 0 1 0 -7.80 0M534.75 965.95a3.90 3.90 0 1 0 7.80 0a3.90 3.90 0 1 0 -7.80 0M537.22 962.13a3.90 3.90 0 1 0 7.80 0a3.90 3.90 0 1 0 -7.80 0M539.70 959.74a3.90 3.90 0 1 0 7.80 0a3.90 3.90 0 1 0 -7.80 0M542.18 962.19a3.90 3.90 0 1 0 7.80 0a3.90 3.90 0 1 0 -7.80 0M544.66 959.05a3.90 3.90 0 1 0 7.80 0a3.90 3.90 0 1 0 -7.80 0M547.13 957.90a3.90 3.90 0 1 0 7.80 0a3.90 3.90 0 1 0 -7.80 0M549.61 959.00a3.90 3.90 0 1 0 7.80 0a3.90 3.90 0 1 0 -7.80 0M552.09 987.40a3.90 3.90 0 1 0 7.80 0a3.90 3.90 0 1 0 -7.80 0M554.57 957.00a3.90 3.90 0 1 0 7.80 0a3.90 3.90 0 1 0 -7.80 0M557.04 955.62a3.90 3.90 0 1 0 7.80 0a3.90 3.90 0 1 0 -7.80 0M559.52 954.87a3.90 3.90 0 1 0 7.80 0a3.90 3.90 0 1 0 -7.80 0M562.00 952.50a3.90 3.90 0 1 0 7.80 0a3.90 3.90 0 1 0 -7.80 0M564.48 949.34a3.90 3.90 0 1 0 7.80 0a3.90 3.90 0 1 0 -7.80 0M566.95 949.47a3.90 3.90 0 1 0 7.80 0a3.90 3.90 0 1 0 -7.80 0M569.43 942.83a3.90 3.90 0 1 0 7.80 0a3.90 3.90 0 1 0 -7.80 0M571.91 941.20a3.90 3.90 0 1 0 7.80 0a3.90 3.90 0 1 0 -7.80 0M574.39 939.91a3.90 3.90 0 1 0 7.80 0a3.90 3.90 0 1 0 -7.80 0M576.86 941.64a3.90 3.90 0 1 0 7.80 0a3.90 3.90 0 1 0 -7.80 0M579.34 943.64a3.90 3.90 0 1 0 7.80 0a3.90 3.90 0 1 0 -7.80 0M581.82 942.52a3.90 3.90 0 1 0 7.80 0a3.90 3.90 0 1 0 -7.80 0M584.30 939.68a3.90 3.90 0 1 0 7.80 0a3.90 3.90 0 1 0 -7.80 0M586.77 937.36a3.90 3.90 0 1 0 7.80 0a3.90 3.90 0 1 0 -7.80 0M589.25 936.30a3.90 3.90 0 1 0 7.80 0a3.90 3.90 0 1 0 -7.80 0M591.73 935.88a3.90 3.90 0 1 0 7.80 0a3.90 3.90 0 1 0 -7.80 0M594.21 943.65a3.90 3.90 0 1 0 7.80 0a3.90 3.90 0 1 0 -7.80 0M596.68 942.80a3.90 3.90 0 1 0 7.80 0a3.90 3.90 0 1 0 -7.80 0M599.16 920.10a3.90 3.90 0 1 0 7.80 0a3.90 3.90 0 1 0 -7.80 0M601.64 940.72a3.90 3.90 0 1 0 7.80 0a3.90 3.90 0 1 0 -7.80 0M604.12 961.50a3.90 3.90 0 1 0 7.80 0a3.90 3.90 0 1 0 -7.80 0M606.59 928.00a3.90 3.90 0 1 0 7.80 0a3.90 3.90 0 1 0 -7.80 0M609.07 931.69a3.90 3.90 0 1 0 7.80 0a3.90 3.90 0 1 0 -7.80 0M611.55 926.13a3.90 3.90 0 1 0 7.80 0a3.90 3.90 0 1 0 -7.80 0M614.03 924.90a3.90 3.90 0 1 0 7.80 0a3.90 3.90 0 1 0 -7.80 0M616.50 910.30a3.90 3.90 0 1 0 7.80 0a3.90 3.90 0 1 0 -7.80 0M618.98 906.17a3.90 3.90 0 1 0 7.80 0a3.90 3.90 0 1 0 -7.80 0M621.46 911.97a3.90 3.90 0 1 0 7.80 0a3.90 3.90 0 1 0 -7.80 0M623.94 909.77a3.90 3.90 0 1 0 7.80 0a3.90 3.90 0 1 0 -7.80 0M626.41 908.02a3.90 3.90 0 1 0 7.80 0a3.90 3.90 0 1 0 -7.80 0M628.89 908.70a3.90 3.90 0 1 0 7.80 0a3.90 3.90 0 1 0 -7.80 0M631.37 943.60a3.90 3.90 0 1 0 7.80 0a3.90 3.90 0 1 0 -7.80 0M633.85 912.00a3.90 3.90 0 1 0 7.80 0a3.90 3.90 0 1 0 -7.80 0M636.32 909.95a3.90 3.90 0 1 0 7.80 0a3.90 3.90 0 1 0 -7.80 0M638.80 907.10a3.90 3.90 0 1 0 7.80 0a3.90 3.90 0 1 0 -7.80 0M641.28 899.50a3.90 3.90 0 1 0 7.80 0a3.90 3.90 0 1 0 -7.80 0M643.76 891.70a3.90 3.90 0 1 0 7.80 0a3.90 3.90 0 1 0 -7.80 0M646.23 895.34a3.90 3.90 0 1 0 7.80 0a3.90 3.90 0 1 0 -7.80 0M648.71 894.16a3.90 3.90 0 1 0 7.80 0a3.90 3.90 0 1 0 -7.80 0M651.19 900.60a3.90 3.90 0 1 0 7.80 0a3.90 3.90 0 1 0 -7.80 0M653.67 892.18a3.90 3.90 0 1 0 7.80 0a3.90 3.90 0 1 0 -7.80 0M656.14 883.50a3.90 3.90 0 1 0 7.80 0a3.90 3.90 0 1 0 -7.80 0M658.62 874.80a3.90 3.90 0 1 0 7.80 0a3.90 3.90 0 1 0 -7.80 0M661.10 868.10a3.90 3.90 0 1 0 7.80 0a3.90 3.90 0 1 0 -7.80 0M663.58 865.67a3.90 3.90 0 1 0 7.80 0a3.90 3.90 0 1 0 -7.80 0M666.05 861.30a3.90 3.90 0 1 0 7.80 0a3.90 3.90 0 1 0 -7.80 0M668.53 859.85a3.90 3.90 0 1 0 7.80 0a3.90 3.90 0 1 0 -7.80 0M671.01 863.20a3.90 3.90 0 1 0 7.80 0a3.90 3.90 0 1 0 -7.80 0M673.49 880.20a3.90 3.90 0 1 0 7.80 0a3.90 3.90 0 1 0 -7.80 0M675.96 861.30a3.90 3.90 0 1 0 7.80 0a3.90 3.90 0 1 0 -7.80 0M678.44 868.47a3.90 3.90 0 1 0 7.80 0a3.90 3.90 0 1 0 -7.80 0M680.92 870.07a3.90 3.90 0 1 0 7.80 0a3.90 3.90 0 1 0 -7.80 0M683.40 874.80a3.90 3.90 0 1 0 7.80 0a3.90 3.90 0 1 0 -7.80 0M685.88 865.39a3.90 3.90 0 1 0 7.80 0a3.90 3.90 0 1 0 -7.80 0M688.35 864.00a3.90 3.90 0 1 0 7.80 0a3.90 3.90 0 1 0 -7.80 0M690.83 857.14a3.90 3.90 0 1 0 7.80 0a3.90 3.90 0 1 0 -7.80 0M693.31 843.70a3.90 3.90 0 1 0 7.80 0a3.90 3.90 0 1 0 -7.80 0M695.79 862.60a3.90 3.90 0 1 0 7.80 0a3.90 3.90 0 1 0 -7.80 0M698.26 857.88a3.90 3.90 0 1 0 7.80 0a3.90 3.90 0 1 0 -7.80 0M700.74 854.69a3.90 3.90 0 1 0 7.80 0a3.90 3.90 0 1 0 -7.80 0M703.22 850.14a3.90 3.90 0 1 0 7.80 0a3.90 3.90 0 1 0 -7.80 0M705.70 846.40a3.90 3.90 0 1 0 7.80 0a3.90 3.90 0 1 0 -7.80 0M708.17 891.00a3.90 3.90 0 1 0 7.80 0a3.90 3.90 0 1 0 -7.80 0M710.65 859.90a3.90 3.90 0 1 0 7.80 0a3.90 3.90 0 1 0 -7.80 0M713.13 839.60a3.90 3.90 0 1 0 7.80 0a3.90 3.90 0 1 0 -7.80 0M715.61 846.28a3.90 3.90 0 1 0 7.80 0a3.90 3.90 0 1 0 -7.80 0M718.08 845.00a3.90 3.90 0 1 0 7.80 0a3.90 3.90 0 1 0 -7.80 0M720.56 839.11a3.90 3.90 0 1 0 7.80 0a3.90 3.90 0 1 0 -7.80 0M723.04 832.90a3.90 3.90 0 1 0 7.80 0a3.90 3.90 0 1 0 -7.80 0M725.52 838.34a3.90 3.90 0 1 0 7.80 0a3.90 3.90 0 1 0 -7.80 0M727.99 846.40a3.90 3.90 0 1 0 7.80 0a3.90 3.90 0 1 0 -7.80 0M730.47 832.99a3.90 3.90 0 1 0 7.80 0a3.90 3.90 0 1 0 -7.80 0M732.95 822.00a3.90 3.90 0 1 0 7.80 0a3.90 3.90 0 1 0 -7.80 0M735.43 851.80a3.90 3.90 0 1 0 7.80 0a3.90 3.90 0 1 0 -7.80 0M737.90 844.95a3.90 3.90 0 1 0 7.80 0a3.90 3.90 0 1 0 -7.80 0M740.38 835.60a3.90 3.90 0 1 0 7.80 0a3.90 3.90 0 1 0 -7.80 0M742.86 831.03a3.90 3.90 0 1 0 7.80 0a3.90 3.90 0 1 0 -7.80 0M745.34 822.62a3.90 3.90 0 1 0 7.80 0a3.90 3.90 0 1 0 -7.80 0M747.81 818.00a3.90 3.90 0 1 0 7.80 0a3.90 3.90 0 1 0 -7.80 0M750.29 814.58a3.90 3.90 0 1 0 7.80 0a3.90 3.90 0 1 0 -7.80 0M752.77 807.20a3.90 3.90 0 1 0 7.80 0a3.90 3.90 0 1 0 -7.80 0M755.25 800.47a3.90 3.90 0 1 0 7.80 0a3.90 3.90 0 1 0 -7.80 0M757.72 796.30a3.90 3.90 0 1 0 7.80 0a3.90 3.90 0 1 0 -7.80 0M760.20 816.60a3.90 3.90 0 1 0 7.80 0a3.90 3.90 0 1 0 -7.80 0M762.68 858.60a3.90 3.90 0 1 0 7.80 0a3.90 3.90 0 1 0 -7.80 0M765.16 796.30a3.90 3.90 0 1 0 7.80 0a3.90 3.90 0 1 0 -7.80 0M767.63 785.50a3.90 3.90 0 1 0 7.80 0a3.90 3.90 0 1 0 -7.80 0M770.11 788.62a3.90 3.90 0 1 0 7.80 0a3.90 3.90 0 1 0 -7.80 0M772.59 792.07a3.90 3.90 0 1 0 7.80 0a3.90 3.90 0 1 0 -7.80 0M775.07 793.60a3.90 3.90 0 1 0 7.80 0a3.90 3.90 0 1 0 -7.80 0M777.54 777.40a3.90 3.90 0 1 0 7.80 0a3.90 3.90 0 1 0 -7.80 0M780.02 763.90a3.90 3.90 0 1 0 7.80 0a3.90 3.90 0 1 0 -7.80 0M782.50 762.51a3.90 3.90 0 1 0 7.80 0a3.90 3.90 0 1 0 -7.80 0M784.98 759.80a3.90 3.90 0 1 0 7.80 0a3.90 3.90 0 1 0 -7.80 0M787.45 762.49a3.90 3.90 0 1 0 7.80 0a3.90 3.90 0 1 0 -7.80 0M789.93 763.90a3.90 3.90 0 1 0 7.80 0a3.90 3.90 0 1 0 -7.80 0M792.41 847.70a3.90 3.90 0 1 0 7.80 0a3.90 3.90 0 1 0 -7.80 0M794.89 754.40a3.90 3.90 0 1 0 7.80 0a3.90 3.90 0 1 0 -7.80 0M797.36 746.30a3.90 3.90 0 1 0 7.80 0a3.90 3.90 0 1 0 -7.80 0M799.84 740.86a3.90 3.90 0 1 0 7.80 0a3.90 3.90 0 1 0 -7.80 0M802.32 734.10a3.90 3.90 0 1 0 7.80 0a3.90 3.90 0 1 0 -7.80 0M804.80 741.29a3.90 3.90 0 1 0 7.80 0a3.90 3.90 0 1 0 -7.80 0M807.27 750.30a3.90 3.90 0 1 0 7.80 0a3.90 3.90 0 1 0 -7.80 0M809.75 731.40a3.90 3.90 0 1 0 7.80 0a3.90 3.90 0 1 0 -7.80 0M812.23 694.20a3.90 3.90 0 1 0 7.80 0a3.90 3.90 0 1 0 -7.80 0M814.71 789.60a3.90 3.90 0 1 0 7.80 0a3.90 3.90 0 1 0 -7.80 0M817.18 759.80a3.90 3.90 0 1 0 7.80 0a3.90 3.90 0 1 0 -7.80 0M819.66 743.60a3.90 3.90 0 1 0 7.80 0a3.90 3.90 0 1 0 -7.80 0M822.14 746.14a3.90 3.90 0 1 0 7.80 0a3.90 3.90 0 1 0 -7.80 0M824.62 747.60a3.90 3.90 0 1 0 7.80 0a3.90 3.90 0 1 0 -7.80 0M827.09 744.11a3.90 3.90 0 1 0 7.80 0a3.90 3.90 0 1 0 -7.80 0M829.57 736.68a3.90 3.90 0 1 0 7.80 0a3.90 3.90 0 1 0 -7.80 0M832.05 734.80a3.90 3.90 0 1 0 7.80 0a3.90 3.90 0 1 0 -7.80 0M834.53 755.80a3.90 3.90 0 1 0 7.80 0a3.90 3.90 0 1 0 -7.80 0M837.00 761.13a3.90 3.90 0 1 0 7.80 0a3.90 3.90 0 1 0 -7.80 0M839.48 772.00a3.90 3.90 0 1 0 7.80 0a3.90 3.90 0 1 0 -7.80 0M841.96 774.70a3.90 3.90 0 1 0 7.80 0a3.90 3.90 0 1 0 -7.80 0M844.44 773.14a3.90 3.90 0 1 0 7.80 0a3.90 3.90 0 1 0 -7.80 0M846.91 770.21a3.90 3.90 0 1 0 7.80 0a3.90 3.90 0 1 0 -7.80 0M849.39 767.90a3.90 3.90 0 1 0 7.80 0a3.90 3.90 0 1 0 -7.80 0M851.87 743.60a3.90 3.90 0 1 0 7.80 0a3.90 3.90 0 1 0 -7.80 0M854.35 741.33a3.90 3.90 0 1 0 7.80 0a3.90 3.90 0 1 0 -7.80 0M856.82 738.20a3.90 3.90 0 1 0 7.80 0a3.90 3.90 0 1 0 -7.80 0M859.30 744.50a3.90 3.90 0 1 0 7.80 0a3.90 3.90 0 1 0 -7.80 0M861.78 747.60a3.90 3.90 0 1 0 7.80 0a3.90 3.90 0 1 0 -7.80 0M864.26 753.89a3.90 3.90 0 1 0 7.80 0a3.90 3.90 0 1 0 -7.80 0M866.73 757.48a3.90 3.90 0 1 0 7.80 0a3.90 3.90 0 1 0 -7.80 0M869.21 763.90a3.90 3.90 0 1 0 7.80 0a3.90 3.90 0 1 0 -7.80 0M871.69 744.90a3.90 3.90 0 1 0 7.80 0a3.90 3.90 0 1 0 -7.80 0M874.17 748.77a3.90 3.90 0 1 0 7.80 0a3.90 3.90 0 1 0 -7.80 0M876.64 748.98a3.90 3.90 0 1 0 7.80 0a3.90 3.90 0 1 0 -7.80 0M879.12 753.00a3.90 3.90 0 1 0 7.80 0a3.90 3.90 0 1 0 -7.80 0" fill="none" stroke="#f00" stroke-width="1.15"/>
<path d="M104.09 1238.80h1.98v-70.10h-1.98zM106.56 1238.80h1.98v-56.01h-1.98zM109.04 1238.80h1.98v-49.91h-1.98zM111.52 1238.80h1.98v-46.45h-1.98zM114.00 1238.80h1.98v-46.68h-1.98zM116.47 1238.80h1.98v-41.80h-1.98zM118.95 1238.80h1.98v-34.98h-1.98zM121.43 1238.80h1.98v-25.78h-1.98zM123.91 1238.80h1.98v-19.97h-1.98zM126.38 1238.80h1.98v-16.96h-1.98zM128.86 1238.80h1.98v-10.34h-1.98zM131.34 1238.80h1.98v-16.13h-1.98zM133.82 1238.80h1.98v-19.25h-1.98zM136.29 1238.80h1.98v-19.47h-1.98zM138.77 1238.80h1.98v-11.74h-1.98zM141.25 1238.80h1.98v-10.31h-1.98zM143.73 1238.80h1.98v-6.40h-1.98zM146.20 1238.80h1.98v-11.41h-1.98zM148.68 1238.80h1.98v-15.77h-1.98zM151.16 1238.80h1.98v-17.67h-1.98zM153.64 1238.80h1.98v-21.42h-1.98zM156.11 1238.80h1.98v-14.57h-1.98zM158.59 1238.80h1.98v-14.93h-1.98zM161.07 1238.80h1.98v-11.20h-1.98zM163.55 1238.80h1.98v-13.65h-1.98zM166.02 1238.80h1.98v-15.35h-1.98zM168.50 1238.80h1.98v-11.93h-1.98zM170.98 1238.80h1.98v-14.84h-1.98zM173.46 1238.80h1.98v-13.67h-1.98zM175.93 1238.80h1.98v-12.41h-1.98zM178.41 1238.80h1.98v-4.82h-1.98zM180.89 1238.80h1.98v-0.49h-1.98zM183.37 1238.80h1.98v-2.95h-1.98zM185.85 1238.80h1.98v-4.08h-1.98zM188.32 1238.80h1.98v-8.44h-1.98zM190.80 1238.80h1.98v-9.72h-1.98zM193.28 1238.80h1.98v-9.44h-1.98zM195.76 1238.80h1.98v-10.51h-1.98zM198.23 1238.80h1.98v-2.91h-1.98zM200.71 1238.80h1.98v-0.07h-1.98zM203.19 1238.80h1.98v-0.21h-1.98zM205.67 1238.80h1.98v-1.93h-1.98zM208.14 1238.80h1.98v-2.25h-1.98zM210.62 1238.80h1.98v-3.76h-1.98zM213.10 1238.80h1.98v-3.86h-1.98zM215.58 1238.80h1.98v-1.17h-1.98zM218.05 1238.80h1.98v-12.40h-1.98zM220.53 1238.80h1.98v-11.59h-1.98zM223.01 1238.80h1.98v-0.27h-1.98zM225.49 1238.80h1.98v-1.82h-1.98zM227.96 1238.80h1.98v-0.79h-1.98zM230.44 1238.80h1.98v-0.48h-1.98zM232.92 1238.80h1.98v-1.39h-1.98zM235.40 1238.80h1.98v-3.65h-1.98zM237.87 1238.80h1.98v-2.05h-1.98zM240.35 1238.80h1.98v-5.26h-1.98zM242.83 1238.80h1.98v-11.25h-1.98zM245.31 1238.80h1.98v-16.02h-1.98zM247.78 1238.80h1.98v-13.94h-1.98zM250.26 1238.80h1.98v-13.28h-1.98zM252.74 1238.80h1.98v-11.92h-1.98zM255.22 1238.80h1.98v-7.25h-1.98zM257.69 1238.80h1.98v-6.95h-1.98zM260.17 1238.80h1.98v-9.46h-1.98zM262.65 1238.80h1.98v-10.93h-1.98zM265.13 1238.80h1.98v-25.02h-1.98zM267.60 1238.80h1.98v-22.61h-1.98zM270.08 1238.80h1.98v-19.31h-1.98zM272.56 1238.80h1.98v-17.45h-1.98zM275.04 1238.80h1.98v-17.03h-1.98zM277.51 1238.80h1.98v-13.22h-1.98zM279.99 1238.80h1.98v-11.40h-1.98zM282.47 1238.80h1.98v-8.17h-1.98zM284.95 1238.80h1.98v-17.91h-1.98zM287.42 1238.80h1.98v-20.52h-1.98zM289.90 1238.80h1.98v-25.43h-1.98zM292.38 1238.80h1.98v-23.00h-1.98zM294.86 1238.80h1.98v-18.11h-1.98zM297.33 1238.80h1.98v-19.10h-1.98zM299.81 1238.80h1.98v-15.91h-1.98zM302.29 1238.80h1.98v-18.62h-1.98zM304.77 1238.80h1.98v-20.96h-1.98zM307.24 1238.80h1.98v-21.52h-1.98zM309.72 1238.80h1.98v-21.32h-1.98zM312.20 1238.80h1.98v-20.19h-1.98zM314.68 1238.80h1.98v-17.22h-1.98zM317.15 1238.80h1.98v-16.14h-1.98zM319.63 1238.80h1.98v-37.83h-1.98zM322.11 1238.80h1.98v-20.98h-1.98zM324.59 1238.80h1.98v-21.05h-1.98zM327.06 1238.80h1.98v-19.98h-1.98zM329.54 1238.80h1.98v-18.78h-1.98zM332.02 1238.80h1.98v-18.05h-1.98zM334.50 1238.80h1.98v-15.18h-1.98zM336.97 1238.80h1.98v-19.29h-1.98zM339.45 1238.80h1.98v-24.08h-1.98zM341.93 1238.80h1.98v-31.24h-1.98zM344.41 1238.80h1.98v-25.51h-1.98zM346.88 1238.80h1.98v-23.78h-1.98zM349.36 1238.80h1.98v-19.55h-1.98zM351.84 1238.80h1.98v-13.82h-1.98zM354.32 1238.80h1.98v-14.02h-1.98zM356.79 1238.80h1.98v-12.48h-1.98zM359.27 1238.80h1.98v-16.06h-1.98zM361.75 1238.80h1.98v-20.86h-1.98zM364.23 1238.80h1.98v-21.99h-1.98zM366.70 1238.80h1.98v-27.92h-1.98zM369.18 1238.80h1.98v-31.42h-1.98zM371.66 1238.80h1.98v-23.65h-1.98zM374.14 1238.80h1.98v-15.52h-1.98zM376.61 1238.80h1.98v-13.09h-1.98zM379.09 1238.80h1.98v-12.80h-1.98zM381.57 1238.80h1.98v-10.85h-1.98zM384.05 1238.80h1.98v-9.64h-1.98zM386.53 1238.80h1.98v-8.71h-1.98zM389.00 1238.80h1.98v-11.40h-1.98zM391.48 1238.80h1.98v-11.47h-1.98zM393.96 1238.80h1.98v-14.34h-1.98zM396.44 1238.80h1.98v-28.47h-1.98zM398.91 1238.80h1.98v-28.61h-1.98zM401.39 1238.80h1.98v-11.16h-1.98zM403.87 1238.80h1.98v-0.71h-1.98zM406.35 1238.80h1.98v-3.70h-1.98zM408.82 1238.80h1.98v-1.34h-1.98zM411.30 1238.80h1.98v-1.84h-1.98zM413.78 1238.80h1.98v-0.57h-1.98zM416.26 1238.80h1.98v-2.51h-1.98zM418.73 1238.80h1.98v-8.81h-1.98zM421.21 1238.80h1.98v-32.46h-1.98zM423.69 1238.80h1.98v-14.01h-1.98zM426.17 1238.80h1.98v-10.69h-1.98zM428.64 1238.80h1.98v-8.04h-1.98zM431.12 1238.80h1.98v-3.98h-1.98zM433.60 1238.80h1.98v-0.39h-1.98zM436.08 1238.80h1.98v-1.69h-1.98zM438.55 1238.80h1.98v-6.25h-1.98zM441.03 1238.80h1.98v-10.04h-1.98zM443.51 1238.80h1.98v-15.97h-1.98zM445.99 1238.80h1.98v-9.14h-1.98zM448.46 1238.80h1.98v-0.22h-1.98zM450.94 1238.80h1.98v-5.99h-1.98zM453.42 1238.80h1.98v-6.21h-1.98zM455.90 1238.80h1.98v-2.65h-1.98zM458.37 1238.80h1.98v-10.02h-1.98zM460.85 1238.80h1.98v-6.59h-1.98zM463.33 1238.80h1.98v-4.32h-1.98zM465.81 1238.80h1.98v-1.20h-1.98zM468.28 1238.80h1.98v-1.44h-1.98zM470.76 1238.80h1.98v-4.11h-1.98zM473.24 1238.80h1.98v-18.16h-1.98zM475.72 1238.80h1.98v-2.51h-1.98zM478.19 1238.80h1.98v-1.94h-1.98zM480.67 1238.80h1.98v-2.97h-1.98zM483.15 1238.80h1.98v-5.58h-1.98zM485.63 1238.80h1.98v-7.33h-1.98zM488.10 1238.80h1.98v-7.01h-1.98zM490.58 1238.80h1.98v-7.12h-1.98zM493.06 1238.80h1.98v-5.97h-1.98zM495.54 1238.80h1.98v-9.37h-1.98zM498.01 1238.80h1.98v-1.90h-1.98zM500.49 1238.80h1.98v-15.53h-1.98zM502.97 1238.80h1.98v-12.27h-1.98zM505.45 1238.80h1.98v-8.88h-1.98zM507.92 1238.80h1.98v-6.80h-1.98zM510.40 1238.80h1.98v-7.07h-1.98zM512.88 1238.80h1.98v-9.15h-1.98zM515.36 1238.80h1.98v-3.09h-1.98zM517.83 1238.80h1.98v-1.01h-1.98zM520.31 1238.80h1.98v-2.25h-1.98zM522.79 1238.80h1.98v-0.73h-1.98zM525.27 1238.80h1.98v-17.91h-1.98zM527.74 1238.80h1.98v-29.38h-1.98zM530.22 1238.80h1.98v-1.87h-1.98zM532.70 1238.80h1.98v-0.90h-1.98zM535.18 1238.80h1.98v-0.05h-1.98zM537.65 1238.80h1.98v-0.69h-1.98zM540.13 1238.80h1.98v-4.02h-1.98zM542.61 1238.80h1.98v-5.88h-1.98zM545.09 1238.80h1.98v-2.88h-1.98zM547.56 1238.80h1.98v-5.41h-1.98zM550.04 1238.80h1.98v-5.93h-1.98zM552.52 1238.80h1.98v-4.14h-1.98zM555.00 1238.80h1.98v-24.98h-1.98zM557.47 1238.80h1.98v-4.65h-1.98zM559.95 1238.80h1.98v-5.23h-1.98zM562.43 1238.80h1.98v-5.13h-1.98zM564.91 1238.80h1.98v-6.63h-1.98zM567.38 1238.80h1.98v-8.92h-1.98zM569.86 1238.80h1.98v-7.92h-1.98zM572.34 1238.80h1.98v-13.69h-1.98zM574.82 1238.80h1.98v-14.43h-1.98zM577.30 1238.80h1.98v-14.76h-1.98zM579.77 1238.80h1.98v-11.99h-1.98zM582.25 1238.80h1.98v-8.90h-1.98zM584.73 1238.80h1.98v-8.86h-1.98zM587.21 1238.80h1.98v-10.46h-1.98zM589.68 1238.80h1.98v-11.48h-1.98zM592.16 1238.80h1.98v-11.17h-1.98zM594.64 1238.80h1.98v-10.16h-1.98zM597.12 1238.80h1.98v-0.91h-1.98zM599.59 1238.80h1.98v-0.28h-1.98zM602.07 1238.80h1.98v-21.50h-1.98zM604.55 1238.80h1.98v-0.60h-1.98zM607.03 1238.80h1.98v-22.86h-1.98zM609.50 1238.80h1.98v-9.18h-1.98zM611.98 1238.80h1.98v-4.03h-1.98zM614.46 1238.80h1.98v-8.14h-1.98zM616.94 1238.80h1.98v-7.94h-1.98zM619.41 1238.80h1.98v-21.11h-1.98zM621.89 1238.80h1.98v-23.82h-1.98zM624.37 1238.80h1.98v-16.61h-1.98zM626.85 1238.80h1.98v-17.42h-1.98zM629.32 1238.80h1.98v-17.78h-1.98zM631.80 1238.80h1.98v-15.70h-1.98zM634.28 1238.80h1.98v-20.59h-1.98zM636.76 1238.80h1.98v-9.62h-1.98zM639.23 1238.80h1.98v-10.28h-1.98zM641.71 1238.80h1.98v-11.73h-1.98zM644.19 1238.80h1.98v-17.94h-1.98zM646.67 1238.80h1.98v-24.35h-1.98zM649.14 1238.80h1.98v-19.24h-1.98zM651.62 1238.80h1.98v-18.88h-1.98zM654.10 1238.80h1.98v-10.81h-1.98zM656.58 1238.80h1.98v-17.51h-1.98zM659.05 1238.80h1.98v-24.40h-1.98zM661.53 1238.80h1.98v-31.25h-1.98zM664.01 1238.80h1.98v-36.04h-1.98zM666.49 1238.80h1.98v-36.52h-1.98zM668.96 1238.80h1.98v-38.87h-1.98zM671.44 1238.80h1.98v-38.33h-1.98zM673.92 1238.80h1.98v-33.02h-1.98zM676.40 1238.80h1.98v-14.08h-1.98zM678.87 1238.80h1.98v-31.08h-1.98zM681.35 1238.80h1.98v-22.04h-1.98zM683.83 1238.80h1.98v-18.56h-1.98zM686.31 1238.80h1.98v-11.95h-1.98zM688.78 1238.80h1.98v-19.49h-1.98zM691.26 1238.80h1.98v-19.01h-1.98zM693.74 1238.80h1.98v-24.01h-1.98zM696.22 1238.80h1.98v-35.58h-1.98zM698.69 1238.80h1.98v-14.82h-1.98zM701.17 1238.80h1.98v-17.68h-1.98zM703.65 1238.80h1.98v-19.02h-1.98zM706.13 1238.80h1.98v-21.71h-1.98zM708.60 1238.80h1.98v-23.59h-1.98zM711.08 1238.80h1.98v-22.86h-1.98zM713.56 1238.80h1.98v-6.40h-1.98zM716.04 1238.80h1.98v-24.87h-1.98zM718.51 1238.80h1.98v-16.38h-1.98zM720.99 1238.80h1.98v-15.86h-1.98zM723.47 1238.80h1.98v-19.96h-1.98zM725.95 1238.80h1.98v-24.39h-1.98zM728.42 1238.80h1.98v-17.18h-1.98zM730.90 1238.80h1.98v-7.38h-1.98zM733.38 1238.80h1.98v-19.04h-1.98zM735.86 1238.80h1.98v-28.29h-1.98zM738.33 1238.80h1.98v-3.25h-1.98zM740.81 1238.80h1.98v-1.86h-1.98zM743.29 1238.80h1.98v-9.47h-1.98zM745.77 1238.80h1.98v-12.30h-1.98zM748.24 1238.80h1.98v-18.97h-1.98zM750.72 1238.80h1.98v-21.86h-1.98zM753.20 1238.80h1.98v-23.54h-1.98zM755.68 1238.80h1.98v-29.20h-1.98zM758.15 1238.80h1.98v-34.19h-1.98zM760.63 1238.80h1.98v-36.64h-1.98zM763.11 1238.80h1.98v-14.61h-1.98zM765.59 1238.80h1.98v-29.11h-1.98zM768.06 1238.80h1.98v-31.48h-1.98zM770.54 1238.80h1.98v-40.58h-1.98zM773.02 1238.80h1.98v-35.78h-1.98zM775.50 1238.80h1.98v-30.65h-1.98zM777.98 1238.80h1.98v-27.47h-1.98zM780.45 1238.80h1.98v-42.02h-1.98zM782.93 1238.80h1.98v-53.89h-1.98zM785.41 1238.80h1.98v-53.65h-1.98zM787.89 1238.80h1.98v-54.75h-1.98zM790.36 1238.80h1.98v-50.45h-1.98zM792.84 1238.80h1.98v-47.41h-1.98zM795.32 1238.80h1.98v-38.02h-1.98zM797.80 1238.80h1.98v-53.63h-1.98zM800.27 1238.80h1.98v-60.07h-1.98zM802.75 1238.80h1.98v-63.84h-1.98zM805.23 1238.80h1.98v-68.91h-1.98zM807.71 1238.80h1.98v-60.02h-1.98zM810.18 1238.80h1.98v-49.31h-1.98zM812.66 1238.80h1.98v-66.48h-1.98zM815.14 1238.80h1.98v-101.96h-1.98zM817.62 1238.80h1.98v-4.83h-1.98zM820.09 1238.80h1.98v-32.91h-1.98zM822.57 1238.80h1.98v-47.40h-1.98zM825.05 1238.80h1.98v-43.17h-1.98zM827.53 1238.80h1.98v-40.03h-1.98zM830.00 1238.80h1.98v-41.85h-1.98zM832.48 1238.80h1.98v-47.63h-1.98zM834.96 1238.80h1.98v-47.87h-1.98zM837.44 1238.80h1.98v-25.24h-1.98zM839.91 1238.80h1.98v-18.29h-1.98zM842.39 1238.80h1.98v-5.82h-1.98zM844.87 1238.80h1.98v-1.51h-1.98zM847.35 1238.80h1.98v-1.48h-1.98zM849.82 1238.80h1.98v-2.87h-1.98zM852.30 1238.80h1.98v-3.66h-1.98zM854.78 1238.80h1.98v-26.48h-1.98zM857.26 1238.80h1.98v-27.29h-1.98zM859.73 1238.80h1.98v-29.01h-1.98zM862.21 1238.80h1.98v-21.34h-1.98zM864.69 1238.80h1.98v-16.89h-1.98zM867.17 1238.80h1.98v-9.28h-1.98zM869.64 1238.80h1.98v-4.39h-1.98zM872.12 1238.80h1.98v-3.28h-1.98zM874.60 1238.80h1.98v-14.43h-1.98zM877.08 1238.80h1.98v-9.29h-1.98zM879.55 1238.80h1.98v-7.83h-1.98zM882.03 1238.80h1.98v-2.80h-1.98z" fill="#2424ff" stroke="none" stroke-width="0"/>
<path d="M104.09 1168.70h1.98M106.56 1182.79h1.98M109.04 1188.89h1.98M111.52 1192.35h1.98M114.00 1192.12h1.98M116.47 1197.00h1.98M118.95 1203.82h1.98M121.43 1213.02h1.98M123.91 1218.83h1.98M126.38 1221.84h1.98M128.86 1228.46h1.98M131.34 1222.67h1.98M133.82 1219.55h1.98M136.29 1219.33h1.98M138.77 1227.06h1.98M141.25 1228.49h1.98M143.73 1232.40h1.98M146.20 1227.39h1.98M148.68 1223.03h1.98M151.16 1221.13h1.98M153.64 1217.38h1.98M156.11 1224.23h1.98M158.59 1223.87h1.98M161.07 1227.60h1.98M163.55 1225.15h1.98M166.02 1223.45h1.98M168.50 1226.87h1.98M170.98 1223.96h1.98M173.46 1225.13h1.98M175.93 1226.39h1.98M178.41 1233.98h1.98M180.89 1238.31h1.98M183.37 1235.85h1.98M185.85 1234.72h1.98M188.32 1230.36h1.98M190.80 1229.08h1.98M193.28 1229.36h1.98M195.76 1228.29h1.98M198.23 1235.89h1.98M200.71 1238.73h1.98M203.19 1238.59h1.98M205.67 1236.87h1.98M208.14 1236.55h1.98M210.62 1235.04h1.98M213.10 1234.94h1.98M215.58 1237.63h1.98M218.05 1226.40h1.98M220.53 1227.21h1.98M223.01 1238.53h1.98M225.49 1236.98h1.98M227.96 1238.01h1.98M230.44 1238.32h1.98M232.92 1237.41h1.98M235.40 1235.15h1.98M237.87 1236.75h1.98M240.35 1233.54h1.98M242.83 1227.55h1.98M245.31 1222.78h1.98M247.78 1224.86h1.98M250.26 1225.52h1.98M252.74 1226.88h1.98M255.22 1231.55h1.98M257.69 1231.85h1.98M260.17 1229.34h1.98M262.65 1227.87h1.98M265.13 1213.78h1.98M267.60 1216.19h1.98M270.08 1219.49h1.98M272.56 1221.35h1.98M275.04 1221.77h1.98M277.51 1225.58h1.98M279.99 1227.40h1.98M282.47 1230.63h1.98M284.95 1220.89h1.98M287.42 1218.28h1.98M289.90 1213.37h1.98M292.38 1215.80h1.98M294.86 1220.69h1.98M297.33 1219.70h1.98M299.81 1222.89h1.98M302.29 1220.18h1.98M304.77 1217.84h1.98M307.24 1217.28h1.98M309.72 1217.48h1.98M312.20 1218.61h1.98M314.68 1221.58h1.98M317.15 1222.66h1.98M319.63 1200.97h1.98M322.11 1217.82h1.98M324.59 1217.75h1.98M327.06 1218.82h1.98M329.54 1220.02h1.98M332.02 1220.75h1.98M334.50 1223.62h1.98M336.97 1219.51h1.98M339.45 1214.72h1.98M341.93 1207.56h1.98M344.41 1213.29h1.98M346.88 1215.02h1.98M349.36 1219.25h1.98M351.84 1224.98h1.98M354.32 1224.78h1.98M356.79 1226.32h1.98M359.27 1222.74h1.98M361.75 1217.94h1.98M364.23 1216.81h1.98M366.70 1210.88h1.98M369.18 1207.38h1.98M371.66 1215.15h1.98M374.14 1223.28h1.98M376.61 1225.71h1.98M379.09 1226.00h1.98M381.57 1227.95h1.98M384.05 1229.16h1.98M386.53 1230.09h1.98M389.00 1227.40h1.98M391.48 1227.33h1.98M393.96 1224.46h1.98M396.44 1210.33h1.98M398.91 1210.19h1.98M401.39 1227.64h1.98M403.87 1238.09h1.98M406.35 1235.10h1.98M408.82 1237.46h1.98M411.30 1236.96h1.98M413.78 1238.23h1.98M416.26 1236.29h1.98M418.73 1229.99h1.98M421.21 1206.34h1.98M423.69 1224.79h1.98M426.17 1228.11h1.98M428.64 1230.76h1.98M431.12 1234.82h1.98M433.60 1238.41h1.98M436.08 1237.11h1.98M438.55 1232.55h1.98M441.03 1228.76h1.98M443.51 1222.83h1.98M445.99 1229.66h1.98M448.46 1238.58h1.98M450.94 1232.81h1.98M453.42 1232.59h1.98M455.90 1236.15h1.98M458.37 1228.78h1.98M460.85 1232.21h1.98M463.33 1234.48h1.98M465.81 1237.60h1.98M468.28 1237.36h1.98M470.76 1234.69h1.98M473.24 1220.64h1.98M475.72 1236.29h1.98M478.19 1236.86h1.98M480.67 1235.83h1.98M483.15 1233.22h1.98M485.63 1231.47h1.98M488.10 1231.79h1.98M490.58 1231.68h1.98M493.06 1232.83h1.98M495.54 1229.43h1.98M498.01 1236.90h1.98M500.49 1223.27h1.98M502.97 1226.53h1.98M505.45 1229.92h1.98M507.92 1232.00h1.98M510.40 1231.73h1.98M512.88 1229.65h1.98M515.36 1235.71h1.98M517.83 1237.79h1.98M520.31 1236.55h1.98M522.79 1238.07h1.98M525.27 1220.89h1.98M527.74 1209.42h1.98M530.22 1236.93h1.98M532.70 1237.90h1.98M535.18 1238.75h1.98M537.65 1238.11h1.98M540.13 1234.78h1.98M542.61 1232.92h1.98M545.09 1235.92h1.98M547.56 1233.39h1.98M550.04 1232.87h1.98M552.52 1234.66h1.98M555.00 1213.82h1.98M557.47 1234.15h1.98M559.95 1233.57h1.98M562.43 1233.67h1.98M564.91 1232.17h1.98M567.38 1229.88h1.98M569.86 1230.88h1.98M572.34 1225.11h1.98M574.82 1224.37h1.98M577.30 1224.04h1.98M579.77 1226.81h1.98M582.25 1229.90h1.98M584.73 1229.94h1.98M587.21 1228.34h1.98M589.68 1227.32h1.98M592.16 1227.63h1.98M594.64 1228.64h1.98M597.12 1237.89h1.98M599.59 1238.52h1.98M602.07 1217.30h1.98M604.55 1238.20h1.98M607.03 1215.94h1.98M609.50 1229.62h1.98M611.98 1234.77h1.98M614.46 1230.66h1.98M616.94 1230.86h1.98M619.41 1217.69h1.98M621.89 1214.98h1.98M624.37 1222.19h1.98M626.85 1221.38h1.98M629.32 1221.02h1.98M631.80 1223.10h1.98M634.28 1218.21h1.98M636.76 1229.18h1.98M639.23 1228.52h1.98M641.71 1227.07h1.98M644.19 1220.86h1.98M646.67 1214.45h1.98M649.14 1219.56h1.98M651.62 1219.92h1.98M654.10 1227.99h1.98M656.58 1221.29h1.98M659.05 1214.40h1.98M661.53 1207.55h1.98M664.01 1202.76h1.98M666.49 1202.28h1.98M668.96 1199.93h1.98M671.44 1200.47h1.98M673.92 1205.78h1.98M676.40 1224.72h1.98M678.87 1207.72h1.98M681.35 1216.76h1.98M683.83 1220.24h1.98M686.31 1226.85h1.98M688.78 1219.31h1.98M691.26 1219.79h1.98M693.74 1214.79h1.98M696.22 1203.22h1.98M698.69 1223.98h1.98M701.17 1221.12h1.98M703.65 1219.78h1.98M706.13 1217.09h1.98M708.60 1215.21h1.98M711.08 1215.94h1.98M713.56 1232.40h1.98M716.04 1213.93h1.98M718.51 1222.42h1.98M720.99 1222.94h1.98M723.47 1218.84h1.98M725.95 1214.41h1.98M728.42 1221.62h1.98M730.90 1231.42h1.98M733.38 1219.76h1.98M735.86 1210.51h1.98M738.33 1235.55h1.98M740.81 1236.94h1.98M743.29 1229.33h1.98M745.77 1226.50h1.98M748.24 1219.83h1.98M750.72 1216.94h1.98M753.20 1215.26h1.98M755.68 1209.60h1.98M758.15 1204.61h1.98M760.63 1202.16h1.98M763.11 1224.19h1.98M765.59 1209.69h1.98M768.06 1207.32h1.98M770.54 1198.22h1.98M773.02 1203.02h1.98M775.50 1208.15h1.98M777.98 1211.33h1.98M780.45 1196.78h1.98M782.93 1184.91h1.98M785.41 1185.15h1.98M787.89 1184.05h1.98M790.36 1188.35h1.98M792.84 1191.39h1.98M795.32 1200.78h1.98M797.80 1185.17h1.98M800.27 1178.73h1.98M802.75 1174.96h1.98M805.23 1169.89h1.98M807.71 1178.78h1.98M810.18 1189.49h1.98M812.66 1172.32h1.98M815.14 1136.84h1.98M817.62 1233.97h1.98M820.09 1205.89h1.98M822.57 1191.40h1.98M825.05 1195.63h1.98M827.53 1198.77h1.98M830.00 1196.95h1.98M832.48 1191.17h1.98M834.96 1190.93h1.98M837.44 1213.56h1.98M839.91 1220.51h1.98M842.39 1232.98h1.98M844.87 1237.29h1.98M847.35 1237.32h1.98M849.82 1235.93h1.98M852.30 1235.14h1.98M854.78 1212.32h1.98M857.26 1211.51h1.98M859.73 1209.79h1.98M862.21 1217.46h1.98M864.69 1221.91h1.98M867.17 1229.52h1.98M869.64 1234.41h1.98M872.12 1235.52h1.98M874.60 1224.37h1.98M877.08 1229.51h1.98M879.55 1230.97h1.98M882.03 1236.00h1.98" stroke="#000050" stroke-width="0.8" fill="none"/>
</g>
<line x1="131.40" y1="723.60" x2="204.40" y2="723.60" stroke="#000" stroke-width="2.4"/>
<line x1="131.40" y1="763.10" x2="204.40" y2="763.10" stroke="#f00" stroke-width="1.1"/>
<circle cx="167.90" cy="763.10" r="3.9" fill="none" stroke="#f00" stroke-width="1.1"/>
<rect x="131.40" y="788.40" width="73.00" height="27.8" fill="#0000ff" stroke="#00008a" stroke-width="0.6"/>
<text x="211.60" y="735.30" font-size="29.3">Actual wear value</text>
<text x="211.60" y="774.80" font-size="29.3">Predicted wear value</text>
<text x="211.60" y="814.00" font-size="29.3">Error</text>
<rect x="263.80" y="1082.60" width="374.50" height="54.00" fill="#fff" stroke="#262626" stroke-width="1.3"/>
<text x="275.10" y="1119.30" font-size="29.3">Predicted tool wear of C6</text>
<text x="102.60" y="1279.70" text-anchor="middle" font-size="29.3" fill="#262626">0</text>
<text x="226.48" y="1279.70" text-anchor="middle" font-size="29.3" fill="#262626">50</text>
<text x="350.35" y="1279.70" text-anchor="middle" font-size="29.3" fill="#262626">100</text>
<text x="474.23" y="1279.70" text-anchor="middle" font-size="29.3" fill="#262626">150</text>
<text x="598.11" y="1279.70" text-anchor="middle" font-size="29.3" fill="#262626">200</text>
<text x="721.98" y="1279.70" text-anchor="middle" font-size="29.3" fill="#262626">250</text>
<text x="845.86" y="1279.70" text-anchor="middle" font-size="29.3" fill="#262626">300</text>
<text x="91.20" y="1250.40" text-anchor="end" font-size="29.3" fill="#262626">0</text>
<text x="91.20" y="1138.74" text-anchor="end" font-size="29.3" fill="#262626">50</text>
<text x="91.20" y="1027.08" text-anchor="end" font-size="29.3" fill="#262626">100</text>
<text x="91.20" y="915.42" text-anchor="end" font-size="29.3" fill="#262626">150</text>
<text x="91.20" y="803.76" text-anchor="end" font-size="29.3" fill="#262626">200</text>
<text x="91.20" y="692.10" text-anchor="end" font-size="29.3" fill="#262626">250</text>
<text x="494.05" y="1321.40" text-anchor="middle" font-size="32.7" fill="#262626">Cut number</text>
<text transform="translate(27.90 959.65) rotate(-90)" text-anchor="middle" font-size="32.7" fill="#262626">Flank wear(μm)</text>
<clipPath id="c4"><rect x="1054.60" y="680.50" width="786.00" height="558.00"/></clipPath>
<g clip-path="url(#c4)">
<polyline points="1115.85,1238.50 1166.89,1117.60 1217.92,1117.60 1268.96,1080.40 1320.00,1061.80 1371.04,1052.50 1422.08,1024.60 1473.12,1024.60 1524.16,996.70 1575.20,978.10 1626.24,931.60 1677.28,903.70 1728.31,829.30 1779.35,727.00" fill="none" stroke="#000" stroke-width="2.4" stroke-linejoin="round" />
<polyline points="1115.85,1172.47 1166.89,1154.34 1217.92,1140.20 1268.96,1097.14 1320.00,1073.52 1371.04,1065.52 1422.08,1064.03 1473.12,1041.62 1524.16,973.17 1575.20,974.94 1626.24,904.63 1677.28,918.12 1728.31,846.60 1779.35,783.27" fill="none" stroke="#f00" stroke-width="1.25" stroke-linejoin="round" />
<path d="M1111.95 1172.47a3.90 3.90 0 1 0 7.80 0a3.90 3.90 0 1 0 -7.80 0M1162.99 1154.34a3.90 3.90 0 1 0 7.80 0a3.90 3.90 0 1 0 -7.80 0M1214.02 1140.20a3.90 3.90 0 1 0 7.80 0a3.90 3.90 0 1 0 -7.80 0M1265.06 1097.14a3.90 3.90 0 1 0 7.80 0a3.90 3.90 0 1 0 -7.80 0M1316.10 1073.52a3.90 3.90 0 1 0 7.80 0a3.90 3.90 0 1 0 -7.80 0M1367.14 1065.52a3.90 3.90 0 1 0 7.80 0a3.90 3.90 0 1 0 -7.80 0M1418.18 1064.03a3.90 3.90 0 1 0 7.80 0a3.90 3.90 0 1 0 -7.80 0M1469.22 1041.62a3.90 3.90 0 1 0 7.80 0a3.90 3.90 0 1 0 -7.80 0M1520.26 973.17a3.90 3.90 0 1 0 7.80 0a3.90 3.90 0 1 0 -7.80 0M1571.30 974.94a3.90 3.90 0 1 0 7.80 0a3.90 3.90 0 1 0 -7.80 0M1622.34 904.63a3.90 3.90 0 1 0 7.80 0a3.90 3.90 0 1 0 -7.80 0M1673.38 918.12a3.90 3.90 0 1 0 7.80 0a3.90 3.90 0 1 0 -7.80 0M1724.41 846.60a3.90 3.90 0 1 0 7.80 0a3.90 3.90 0 1 0 -7.80 0M1775.45 783.27a3.90 3.90 0 1 0 7.80 0a3.90 3.90 0 1 0 -7.80 0" fill="none" stroke="#f00" stroke-width="1.15"/>
<path d="M1095.43 1238.50h40.83v-65.94h-40.83zM1146.47 1238.50h40.83v-36.27h-40.83zM1197.51 1238.50h40.83v-22.32h-40.83zM1248.55 1238.50h40.83v-16.65h-40.83zM1299.59 1238.50h40.83v-11.81h-40.83zM1350.63 1238.50h40.83v-13.21h-40.83zM1401.66 1238.50h40.83v-39.71h-40.83zM1452.70 1238.50h40.83v-17.67h-40.83zM1503.74 1238.50h40.83v-22.97h-40.83zM1554.78 1238.50h40.83v-2.79h-40.83zM1605.82 1238.50h40.83v-27.25h-40.83zM1656.86 1238.50h40.83v-13.95h-40.83zM1707.90 1238.50h40.83v-17.67h-40.83zM1758.94 1238.50h40.83v-56.17h-40.83z" fill="#0000ff" stroke="#000030" stroke-width="0.6"/>
</g>
<line x1="1083.40" y1="723.60" x2="1156.40" y2="723.60" stroke="#000" stroke-width="2.4"/>
<line x1="1083.40" y1="763.10" x2="1156.40" y2="763.10" stroke="#f00" stroke-width="1.1"/>
<circle cx="1119.90" cy="763.10" r="3.9" fill="none" stroke="#f00" stroke-width="1.1"/>
<rect x="1083.40" y="788.40" width="73.00" height="27.8" fill="#0000ff" stroke="#00008a" stroke-width="0.6"/>
<text x="1163.60" y="735.30" font-size="29.3">Actual wear value</text>
<text x="1163.60" y="774.80" font-size="29.3">Predicted wear value</text>
<text x="1163.60" y="814.00" font-size="29.3">Error</text>
<rect x="1086.40" y="863.00" width="422.60" height="54.90" fill="#fff" stroke="#262626" stroke-width="1.3"/>
<text x="1098.40" y="899.60" font-size="29.3">Predicted tool wear of Case3</text>
<text x="1064.81" y="1279.40" text-anchor="middle" font-size="29.3" fill="#262626">0</text>
<text x="1320.00" y="1279.40" text-anchor="middle" font-size="29.3" fill="#262626">5</text>
<text x="1575.20" y="1279.40" text-anchor="middle" font-size="29.3" fill="#262626">10</text>
<text x="1830.39" y="1279.40" text-anchor="middle" font-size="29.3" fill="#262626">15</text>
<text x="1043.20" y="1250.10" text-anchor="end" font-size="29.3" fill="#262626">0</text>
<text x="1043.20" y="1157.10" text-anchor="end" font-size="29.3" fill="#262626">0.1</text>
<text x="1043.20" y="1064.10" text-anchor="end" font-size="29.3" fill="#262626">0.2</text>
<text x="1043.20" y="971.10" text-anchor="end" font-size="29.3" fill="#262626">0.3</text>
<text x="1043.20" y="878.10" text-anchor="end" font-size="29.3" fill="#262626">0.4</text>
<text x="1043.20" y="785.10" text-anchor="end" font-size="29.3" fill="#262626">0.5</text>
<text x="1043.20" y="692.10" text-anchor="end" font-size="29.3" fill="#262626">0.6</text>
<text x="1447.60" y="1321.10" text-anchor="middle" font-size="32.7" fill="#262626">Cut number</text>
<text transform="translate(987.70 959.50) rotate(-90)" text-anchor="middle" font-size="32.7" fill="#262626">Flank wear(μm)</text>
<clipPath id="c5"><rect x="94.30" y="1347.00" width="790.90" height="558.20"/></clipPath>
<g clip-path="url(#c5)">
<polyline points="185.56,1905.20 261.61,1849.38 337.65,1827.05 413.70,1799.14 489.75,1754.49 565.80,1693.08 641.85,1642.29 717.89,1546.28 793.94,1451.72" fill="none" stroke="#000" stroke-width="2.4" stroke-linejoin="round" />
<polyline points="185.56,1882.87 261.61,1881.20 337.65,1821.47 413.70,1780.39 489.75,1743.99 565.80,1678.07 641.85,1632.24 717.89,1582.00 793.94,1451.22" fill="none" stroke="#f00" stroke-width="1.25" stroke-linejoin="round" />
<path d="M181.66 1882.87a3.90 3.90 0 1 0 7.80 0a3.90 3.90 0 1 0 -7.80 0M257.71 1881.20a3.90 3.90 0 1 0 7.80 0a3.90 3.90 0 1 0 -7.80 0M333.75 1821.47a3.90 3.90 0 1 0 7.80 0a3.90 3.90 0 1 0 -7.80 0M409.80 1780.39a3.90 3.90 0 1 0 7.80 0a3.90 3.90 0 1 0 -7.80 0M485.85 1743.99a3.90 3.90 0 1 0 7.80 0a3.90 3.90 0 1 0 -7.80 0M561.90 1678.07a3.90 3.90 0 1 0 7.80 0a3.90 3.90 0 1 0 -7.80 0M637.95 1632.24a3.90 3.90 0 1 0 7.80 0a3.90 3.90 0 1 0 -7.80 0M713.99 1582.00a3.90 3.90 0 1 0 7.80 0a3.90 3.90 0 1 0 -7.80 0M790.04 1451.22a3.90 3.90 0 1 0 7.80 0a3.90 3.90 0 1 0 -7.80 0" fill="none" stroke="#f00" stroke-width="1.15"/>
<path d="M155.14 1905.20h60.84v-20.65h-60.84zM231.19 1905.20h60.84v-30.81h-60.84zM307.23 1905.20h60.84v-5.92h-60.84zM383.28 1905.20h60.84v-18.48h-60.84zM459.33 1905.20h60.84v-10.22h-60.84zM535.38 1905.20h60.84v-15.07h-60.84zM611.43 1905.20h60.84v-10.05h-60.84zM687.48 1905.20h60.84v-33.72h-60.84zM763.52 1905.20h60.84v-1.12h-60.84z" fill="#0000ff" stroke="#000030" stroke-width="0.6"/>
</g>
<line x1="123.10" y1="1390.10" x2="196.10" y2="1390.10" stroke="#000" stroke-width="2.4"/>
<line x1="123.10" y1="1429.60" x2="196.10" y2="1429.60" stroke="#f00" stroke-width="1.1"/>
<circle cx="159.60" cy="1429.60" r="3.9" fill="none" stroke="#f00" stroke-width="1.1"/>
<rect x="123.10" y="1454.90" width="73.00" height="27.8" fill="#0000ff" stroke="#00008a" stroke-width="0.6"/>
<text x="203.30" y="1401.80" font-size="29.3">Actual wear value</text>
<text x="203.30" y="1441.30" font-size="29.3">Predicted wear value</text>
<text x="203.30" y="1480.50" font-size="29.3">Error</text>
<rect x="129.30" y="1541.40" width="422.30" height="54.50" fill="#fff" stroke="#262626" stroke-width="1.3"/>
<text x="141.00" y="1577.80" font-size="29.3">Predicted tool wear of Case9</text>
<text x="109.51" y="1946.10" text-anchor="middle" font-size="29.3" fill="#262626">0</text>
<text x="261.61" y="1946.10" text-anchor="middle" font-size="29.3" fill="#262626">2</text>
<text x="413.70" y="1946.10" text-anchor="middle" font-size="29.3" fill="#262626">4</text>
<text x="565.80" y="1946.10" text-anchor="middle" font-size="29.3" fill="#262626">6</text>
<text x="717.89" y="1946.10" text-anchor="middle" font-size="29.3" fill="#262626">8</text>
<text x="869.99" y="1946.10" text-anchor="middle" font-size="29.3" fill="#262626">10</text>
<text x="82.90" y="1916.80" text-anchor="end" font-size="29.3" fill="#262626">0</text>
<text x="82.90" y="1805.16" text-anchor="end" font-size="29.3" fill="#262626">0.2</text>
<text x="82.90" y="1693.52" text-anchor="end" font-size="29.3" fill="#262626">0.4</text>
<text x="82.90" y="1581.88" text-anchor="end" font-size="29.3" fill="#262626">0.6</text>
<text x="82.90" y="1470.24" text-anchor="end" font-size="29.3" fill="#262626">0.8</text>
<text x="82.90" y="1358.60" text-anchor="end" font-size="29.3" fill="#262626">1</text>
<text x="489.75" y="1987.80" text-anchor="middle" font-size="32.7" fill="#262626">Cut number</text>
<text transform="translate(27.90 1626.10) rotate(-90)" text-anchor="middle" font-size="32.7" fill="#262626">Flank wear(μm)</text>
<clipPath id="c6"><rect x="1054.50" y="1347.00" width="786.20" height="558.20"/></clipPath>
<g clip-path="url(#c6)">
<polyline points="1115.76,1865.33 1166.81,1841.41 1217.87,1825.46 1268.92,1809.51 1319.97,1769.64 1371.02,1745.71 1422.07,1713.82 1473.13,1648.03 1524.18,1602.18 1575.23,1586.23 1626.28,1546.36 1677.33,1514.46 1728.39,1442.69 1779.44,1388.47" fill="none" stroke="#000" stroke-width="2.4" stroke-linejoin="round" />
<polyline points="1115.76,1865.33 1166.81,1850.02 1217.87,1830.56 1268.92,1795.55 1319.97,1757.76 1371.02,1722.59 1422.07,1720.99 1473.13,1646.04 1524.18,1582.08 1575.23,1564.86 1626.28,1552.58 1677.33,1537.67 1728.39,1423.07 1779.44,1386.71" fill="none" stroke="#f00" stroke-width="1.25" stroke-linejoin="round" />
<path d="M1111.86 1865.33a3.90 3.90 0 1 0 7.80 0a3.90 3.90 0 1 0 -7.80 0M1162.91 1850.02a3.90 3.90 0 1 0 7.80 0a3.90 3.90 0 1 0 -7.80 0M1213.97 1830.56a3.90 3.90 0 1 0 7.80 0a3.90 3.90 0 1 0 -7.80 0M1265.02 1795.55a3.90 3.90 0 1 0 7.80 0a3.90 3.90 0 1 0 -7.80 0M1316.07 1757.76a3.90 3.90 0 1 0 7.80 0a3.90 3.90 0 1 0 -7.80 0M1367.12 1722.59a3.90 3.90 0 1 0 7.80 0a3.90 3.90 0 1 0 -7.80 0M1418.17 1720.99a3.90 3.90 0 1 0 7.80 0a3.90 3.90 0 1 0 -7.80 0M1469.23 1646.04a3.90 3.90 0 1 0 7.80 0a3.90 3.90 0 1 0 -7.80 0M1520.28 1582.08a3.90 3.90 0 1 0 7.80 0a3.90 3.90 0 1 0 -7.80 0M1571.33 1564.86a3.90 3.90 0 1 0 7.80 0a3.90 3.90 0 1 0 -7.80 0M1622.38 1552.58a3.90 3.90 0 1 0 7.80 0a3.90 3.90 0 1 0 -7.80 0M1673.43 1537.67a3.90 3.90 0 1 0 7.80 0a3.90 3.90 0 1 0 -7.80 0M1724.49 1423.07a3.90 3.90 0 1 0 7.80 0a3.90 3.90 0 1 0 -7.80 0M1775.54 1386.71a3.90 3.90 0 1 0 7.80 0a3.90 3.90 0 1 0 -7.80 0" fill="none" stroke="#f00" stroke-width="1.15"/>
<path d="M1095.34 1905.20h40.84v-0.40h-40.84zM1146.39 1905.20h40.84v-7.89h-40.84zM1197.45 1905.20h40.84v-5.02h-40.84zM1248.50 1905.20h40.84v-13.56h-40.84zM1299.55 1905.20h40.84v-11.64h-40.84zM1350.60 1905.20h40.84v-23.13h-40.84zM1401.65 1905.20h40.84v-7.02h-40.84zM1452.71 1905.20h40.84v-3.59h-40.84zM1503.76 1905.20h40.84v-19.30h-40.84zM1554.81 1905.20h40.84v-20.73h-40.84zM1605.86 1905.20h40.84v-5.58h-40.84zM1656.91 1905.20h40.84v-22.81h-40.84zM1707.96 1905.20h40.84v-18.50h-40.84zM1759.02 1905.20h40.84v-0.80h-40.84z" fill="#0000ff" stroke="#000030" stroke-width="0.6"/>
</g>
<line x1="1083.30" y1="1390.10" x2="1156.30" y2="1390.10" stroke="#000" stroke-width="2.4"/>
<line x1="1083.30" y1="1429.60" x2="1156.30" y2="1429.60" stroke="#f00" stroke-width="1.1"/>
<circle cx="1119.80" cy="1429.60" r="3.9" fill="none" stroke="#f00" stroke-width="1.1"/>
<rect x="1083.30" y="1454.90" width="73.00" height="27.8" fill="#0000ff" stroke="#00008a" stroke-width="0.6"/>
<text x="1163.50" y="1401.80" font-size="29.3">Actual wear value</text>
<text x="1163.50" y="1441.30" font-size="29.3">Predicted wear value</text>
<text x="1163.50" y="1480.50" font-size="29.3">Error</text>
<rect x="1079.50" y="1521.10" width="439.90" height="56.20" fill="#fff" stroke="#262626" stroke-width="1.3"/>
<text x="1090.40" y="1557.80" font-size="29.3">Predicted tool wear of Case12</text>
<text x="1064.71" y="1946.10" text-anchor="middle" font-size="29.3" fill="#262626">0</text>
<text x="1319.97" y="1946.10" text-anchor="middle" font-size="29.3" fill="#262626">5</text>
<text x="1575.23" y="1946.10" text-anchor="middle" font-size="29.3" fill="#262626">10</text>
<text x="1830.49" y="1946.10" text-anchor="middle" font-size="29.3" fill="#262626">15</text>
<text x="1043.10" y="1916.80" text-anchor="end" font-size="29.3" fill="#262626">0</text>
<text x="1043.10" y="1837.06" text-anchor="end" font-size="29.3" fill="#262626">0.1</text>
<text x="1043.10" y="1757.31" text-anchor="end" font-size="29.3" fill="#262626">0.2</text>
<text x="1043.10" y="1677.57" text-anchor="end" font-size="29.3" fill="#262626">0.3</text>
<text x="1043.10" y="1597.83" text-anchor="end" font-size="29.3" fill="#262626">0.4</text>
<text x="1043.10" y="1518.09" text-anchor="end" font-size="29.3" fill="#262626">0.5</text>
<text x="1043.10" y="1438.34" text-anchor="end" font-size="29.3" fill="#262626">0.6</text>
<text x="1043.10" y="1358.60" text-anchor="end" font-size="29.3" fill="#262626">0.7</text>
<text x="1447.60" y="1987.80" text-anchor="middle" font-size="32.7" fill="#262626">Cut number</text>
<text transform="translate(987.70 1626.10) rotate(-90)" text-anchor="middle" font-size="32.7" fill="#262626">Flank wear(μm)</text>
</svg></body></html>
